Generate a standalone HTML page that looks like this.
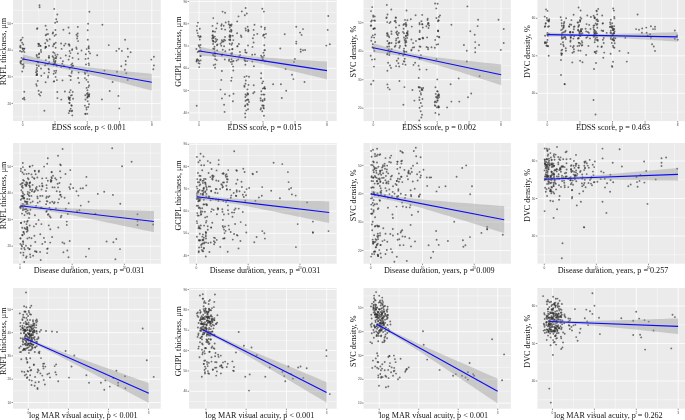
<!DOCTYPE html>
<html><head><meta charset="utf-8"><title>plots</title><style>html,body{margin:0;padding:0;background:#fff}svg{display:block}</style></head><body>
<svg width="685" height="420" viewBox="0 0 685 420">
<style>.tk{font:3.2px "Liberation Sans",sans-serif;fill:#444}.ti{font:8.15px "Liberation Serif",serif;fill:#111}</style>
<rect width="685" height="420" fill="#fff"/>
<rect x="13.0" y="0.0" width="147.8" height="121.1" fill="#ebebeb"/>
<path d="M38.84 0.0V121.1M71.11 0.0V121.1M103.39 0.0V121.1M135.66 0.0V121.1M13.0 10.30H160.8M13.0 36.90H160.8M13.0 63.50H160.8M13.0 90.10H160.8M13.0 116.70H160.8" stroke="#fff" stroke-width="0.45" fill="none" opacity="0.9"/>
<path d="M22.70 0.0V121.1M54.98 0.0V121.1M87.25 0.0V121.1M119.53 0.0V121.1M151.80 0.0V121.1M13.0 23.60H160.8M13.0 50.20H160.8M13.0 76.80H160.8M13.0 103.40H160.8" stroke="#fff" stroke-width="0.8" fill="none"/>
<path d="M22.70 121.1v1.5M54.98 121.1v1.5M87.25 121.1v1.5M119.53 121.1v1.5M151.80 121.1v1.5M13.0 23.60h-1.5M13.0 50.20h-1.5M13.0 76.80h-1.5M13.0 103.40h-1.5" stroke="#333" stroke-width="0.55" fill="none"/>
<text x="22.70" y="126.1" class="tk" text-anchor="middle">0</text>
<text x="54.98" y="126.1" class="tk" text-anchor="middle">2</text>
<text x="87.25" y="126.1" class="tk" text-anchor="middle">4</text>
<text x="119.53" y="126.1" class="tk" text-anchor="middle">6</text>
<text x="151.80" y="126.1" class="tk" text-anchor="middle">8</text>
<text x="11.0" y="24.75" class="tk" text-anchor="end">50</text>
<text x="11.0" y="51.35" class="tk" text-anchor="end">40</text>
<text x="11.0" y="77.95" class="tk" text-anchor="end">30</text>
<text x="11.0" y="104.55" class="tk" text-anchor="end">20</text>
<g fill="#333" fill-opacity="0.68"><circle cx="21.4" cy="39.6" r="0.95"/><circle cx="22.9" cy="98.7" r="0.95"/><circle cx="22.7" cy="48.5" r="0.95"/><circle cx="20.6" cy="40.5" r="0.95"/><circle cx="20.4" cy="45.7" r="0.95"/><circle cx="20.1" cy="51.0" r="0.95"/><circle cx="22.8" cy="48.8" r="0.95"/><circle cx="20.5" cy="61.5" r="0.95"/><circle cx="23.9" cy="58.1" r="0.95"/><circle cx="22.9" cy="59.5" r="0.95"/><circle cx="24.4" cy="52.1" r="0.95"/><circle cx="24.2" cy="97.7" r="0.95"/><circle cx="20.5" cy="62.8" r="0.95"/><circle cx="22.2" cy="71.5" r="0.95"/><circle cx="21.3" cy="61.0" r="0.95"/><circle cx="23.2" cy="44.5" r="0.95"/><circle cx="22.4" cy="64.6" r="0.95"/><circle cx="20.2" cy="46.9" r="0.95"/><circle cx="23.5" cy="50.7" r="0.95"/><circle cx="21.9" cy="51.8" r="0.95"/><circle cx="22.2" cy="42.8" r="0.95"/><circle cx="24.4" cy="48.6" r="0.95"/><circle cx="21.6" cy="57.9" r="0.95"/><circle cx="23.3" cy="67.9" r="0.95"/><circle cx="23.5" cy="64.1" r="0.95"/><circle cx="24.5" cy="99.5" r="0.95"/><circle cx="22.6" cy="37.6" r="0.95"/><circle cx="21.0" cy="63.6" r="0.95"/><circle cx="20.7" cy="47.6" r="0.95"/><circle cx="24.1" cy="48.7" r="0.95"/><circle cx="24.3" cy="91.7" r="0.95"/><circle cx="23.8" cy="66.3" r="0.95"/><circle cx="39.2" cy="53.5" r="0.95"/><circle cx="41.1" cy="92.2" r="0.95"/><circle cx="38.9" cy="44.4" r="0.95"/><circle cx="37.0" cy="28.9" r="0.95"/><circle cx="40.2" cy="95.6" r="0.95"/><circle cx="40.1" cy="45.8" r="0.95"/><circle cx="38.5" cy="46.1" r="0.95"/><circle cx="36.5" cy="69.9" r="0.95"/><circle cx="36.7" cy="65.2" r="0.95"/><circle cx="37.0" cy="74.8" r="0.95"/><circle cx="36.7" cy="55.0" r="0.95"/><circle cx="38.8" cy="66.0" r="0.95"/><circle cx="36.7" cy="56.1" r="0.95"/><circle cx="39.6" cy="7.3" r="0.95"/><circle cx="40.9" cy="50.0" r="0.95"/><circle cx="37.7" cy="80.9" r="0.95"/><circle cx="38.6" cy="90.7" r="0.95"/><circle cx="40.6" cy="45.9" r="0.95"/><circle cx="36.9" cy="74.9" r="0.95"/><circle cx="37.5" cy="57.6" r="0.95"/><circle cx="39.0" cy="43.9" r="0.95"/><circle cx="36.3" cy="75.1" r="0.95"/><circle cx="38.3" cy="62.4" r="0.95"/><circle cx="41.3" cy="75.8" r="0.95"/><circle cx="39.1" cy="94.3" r="0.95"/><circle cx="39.1" cy="57.4" r="0.95"/><circle cx="41.1" cy="51.9" r="0.95"/><circle cx="41.0" cy="68.5" r="0.95"/><circle cx="38.2" cy="43.8" r="0.95"/><circle cx="37.1" cy="71.3" r="0.95"/><circle cx="36.2" cy="84.1" r="0.95"/><circle cx="37.0" cy="68.0" r="0.95"/><circle cx="37.5" cy="61.7" r="0.95"/><circle cx="36.0" cy="72.3" r="0.95"/><circle cx="36.7" cy="85.8" r="0.95"/><circle cx="37.0" cy="73.7" r="0.95"/><circle cx="38.9" cy="54.3" r="0.95"/><circle cx="37.4" cy="28.2" r="0.95"/><circle cx="45.8" cy="60.1" r="0.95"/><circle cx="49.2" cy="62.2" r="0.95"/><circle cx="46.7" cy="29.6" r="0.95"/><circle cx="44.4" cy="110.8" r="0.95"/><circle cx="45.8" cy="47.1" r="0.95"/><circle cx="48.1" cy="76.1" r="0.95"/><circle cx="45.2" cy="48.0" r="0.95"/><circle cx="46.6" cy="39.6" r="0.95"/><circle cx="46.5" cy="34.5" r="0.95"/><circle cx="47.7" cy="63.9" r="0.95"/><circle cx="48.9" cy="72.4" r="0.95"/><circle cx="45.6" cy="25.8" r="0.95"/><circle cx="45.6" cy="63.6" r="0.95"/><circle cx="47.4" cy="40.9" r="0.95"/><circle cx="45.7" cy="35.2" r="0.95"/><circle cx="49.0" cy="57.8" r="0.95"/><circle cx="49.0" cy="45.7" r="0.95"/><circle cx="48.8" cy="57.4" r="0.95"/><circle cx="45.6" cy="46.6" r="0.95"/><circle cx="45.6" cy="82.2" r="0.95"/><circle cx="44.3" cy="73.1" r="0.95"/><circle cx="46.0" cy="47.0" r="0.95"/><circle cx="49.0" cy="55.9" r="0.95"/><circle cx="49.7" cy="39.3" r="0.95"/><circle cx="48.9" cy="69.6" r="0.95"/><circle cx="45.2" cy="43.3" r="0.95"/><circle cx="45.1" cy="65.4" r="0.95"/><circle cx="48.0" cy="77.6" r="0.95"/><circle cx="48.5" cy="68.6" r="0.95"/><circle cx="48.0" cy="34.0" r="0.95"/><circle cx="53.2" cy="52.2" r="0.95"/><circle cx="57.3" cy="14.5" r="0.95"/><circle cx="56.2" cy="19.3" r="0.95"/><circle cx="53.8" cy="44.4" r="0.95"/><circle cx="54.6" cy="53.1" r="0.95"/><circle cx="57.1" cy="21.8" r="0.95"/><circle cx="55.1" cy="61.8" r="0.95"/><circle cx="55.6" cy="76.9" r="0.95"/><circle cx="52.7" cy="33.5" r="0.95"/><circle cx="57.3" cy="92.0" r="0.95"/><circle cx="53.7" cy="61.1" r="0.95"/><circle cx="57.5" cy="54.6" r="0.95"/><circle cx="54.3" cy="70.9" r="0.95"/><circle cx="52.6" cy="56.3" r="0.95"/><circle cx="57.4" cy="98.1" r="0.95"/><circle cx="55.7" cy="42.8" r="0.95"/><circle cx="55.1" cy="58.2" r="0.95"/><circle cx="56.2" cy="70.8" r="0.95"/><circle cx="53.5" cy="63.5" r="0.95"/><circle cx="53.8" cy="59.5" r="0.95"/><circle cx="53.7" cy="81.6" r="0.95"/><circle cx="53.7" cy="73.8" r="0.95"/><circle cx="54.2" cy="81.2" r="0.95"/><circle cx="55.9" cy="34.6" r="0.95"/><circle cx="55.1" cy="22.7" r="0.95"/><circle cx="55.0" cy="63.3" r="0.95"/><circle cx="54.5" cy="35.7" r="0.95"/><circle cx="54.3" cy="43.8" r="0.95"/><circle cx="53.0" cy="46.2" r="0.95"/><circle cx="53.4" cy="57.5" r="0.95"/><circle cx="56.1" cy="58.2" r="0.95"/><circle cx="54.2" cy="8.9" r="0.95"/><circle cx="55.6" cy="47.7" r="0.95"/><circle cx="53.1" cy="32.5" r="0.95"/><circle cx="53.5" cy="64.8" r="0.95"/><circle cx="56.3" cy="64.8" r="0.95"/><circle cx="55.6" cy="72.7" r="0.95"/><circle cx="56.9" cy="80.1" r="0.95"/><circle cx="55.5" cy="60.9" r="0.95"/><circle cx="55.3" cy="55.1" r="0.95"/><circle cx="54.8" cy="63.2" r="0.95"/><circle cx="55.4" cy="30.0" r="0.95"/><circle cx="56.4" cy="56.8" r="0.95"/><circle cx="56.8" cy="65.9" r="0.95"/><circle cx="63.9" cy="65.8" r="0.95"/><circle cx="64.2" cy="45.5" r="0.95"/><circle cx="61.1" cy="43.5" r="0.95"/><circle cx="60.6" cy="58.1" r="0.95"/><circle cx="61.2" cy="67.1" r="0.95"/><circle cx="64.9" cy="91.5" r="0.95"/><circle cx="61.6" cy="48.9" r="0.95"/><circle cx="63.4" cy="29.8" r="0.95"/><circle cx="65.5" cy="43.6" r="0.95"/><circle cx="62.3" cy="63.7" r="0.95"/><circle cx="62.5" cy="80.4" r="0.95"/><circle cx="65.8" cy="55.4" r="0.95"/><circle cx="61.3" cy="99.6" r="0.95"/><circle cx="62.9" cy="61.3" r="0.95"/><circle cx="69.4" cy="102.8" r="0.95"/><circle cx="71.6" cy="72.9" r="0.95"/><circle cx="71.3" cy="64.6" r="0.95"/><circle cx="68.6" cy="59.6" r="0.95"/><circle cx="71.7" cy="105.7" r="0.95"/><circle cx="69.6" cy="51.0" r="0.95"/><circle cx="73.1" cy="98.8" r="0.95"/><circle cx="68.9" cy="98.9" r="0.95"/><circle cx="69.2" cy="98.2" r="0.95"/><circle cx="69.5" cy="56.2" r="0.95"/><circle cx="71.3" cy="105.2" r="0.95"/><circle cx="72.3" cy="63.4" r="0.95"/><circle cx="70.0" cy="97.6" r="0.95"/><circle cx="71.7" cy="66.4" r="0.95"/><circle cx="68.6" cy="97.2" r="0.95"/><circle cx="71.9" cy="71.2" r="0.95"/><circle cx="69.6" cy="92.2" r="0.95"/><circle cx="72.2" cy="110.7" r="0.95"/><circle cx="69.6" cy="68.5" r="0.95"/><circle cx="69.5" cy="33.2" r="0.95"/><circle cx="70.7" cy="108.8" r="0.95"/><circle cx="71.9" cy="95.1" r="0.95"/><circle cx="69.5" cy="98.7" r="0.95"/><circle cx="70.9" cy="95.6" r="0.95"/><circle cx="68.8" cy="113.1" r="0.95"/><circle cx="68.6" cy="44.4" r="0.95"/><circle cx="70.0" cy="100.1" r="0.95"/><circle cx="72.1" cy="50.0" r="0.95"/><circle cx="70.7" cy="80.0" r="0.95"/><circle cx="69.7" cy="110.6" r="0.95"/><circle cx="69.3" cy="44.4" r="0.95"/><circle cx="72.3" cy="115.4" r="0.95"/><circle cx="69.6" cy="111.0" r="0.95"/><circle cx="72.7" cy="91.9" r="0.95"/><circle cx="72.6" cy="65.8" r="0.95"/><circle cx="71.5" cy="111.3" r="0.95"/><circle cx="70.6" cy="90.1" r="0.95"/><circle cx="72.6" cy="57.9" r="0.95"/><circle cx="70.8" cy="76.3" r="0.95"/><circle cx="72.3" cy="49.1" r="0.95"/><circle cx="70.5" cy="53.1" r="0.95"/><circle cx="68.5" cy="27.5" r="0.95"/><circle cx="69.3" cy="75.6" r="0.95"/><circle cx="69.5" cy="103.0" r="0.95"/><circle cx="69.5" cy="45.8" r="0.95"/><circle cx="73.1" cy="65.8" r="0.95"/><circle cx="77.8" cy="26.9" r="0.95"/><circle cx="78.1" cy="41.1" r="0.95"/><circle cx="77.5" cy="36.2" r="0.95"/><circle cx="78.6" cy="72.6" r="0.95"/><circle cx="81.5" cy="50.5" r="0.95"/><circle cx="78.5" cy="59.1" r="0.95"/><circle cx="78.1" cy="78.0" r="0.95"/><circle cx="76.6" cy="48.9" r="0.95"/><circle cx="79.1" cy="82.7" r="0.95"/><circle cx="77.7" cy="33.5" r="0.95"/><circle cx="76.5" cy="34.7" r="0.95"/><circle cx="77.1" cy="38.5" r="0.95"/><circle cx="76.3" cy="47.4" r="0.95"/><circle cx="77.9" cy="53.5" r="0.95"/><circle cx="87.7" cy="30.2" r="0.95"/><circle cx="88.7" cy="63.4" r="0.95"/><circle cx="88.8" cy="51.6" r="0.95"/><circle cx="86.5" cy="79.7" r="0.95"/><circle cx="89.1" cy="96.4" r="0.95"/><circle cx="88.5" cy="47.6" r="0.95"/><circle cx="85.5" cy="99.5" r="0.95"/><circle cx="89.3" cy="94.1" r="0.95"/><circle cx="88.8" cy="95.5" r="0.95"/><circle cx="85.5" cy="58.9" r="0.95"/><circle cx="87.7" cy="92.9" r="0.95"/><circle cx="89.1" cy="85.5" r="0.95"/><circle cx="88.2" cy="58.4" r="0.95"/><circle cx="88.4" cy="87.1" r="0.95"/><circle cx="85.3" cy="95.2" r="0.95"/><circle cx="85.3" cy="113.8" r="0.95"/><circle cx="85.8" cy="54.2" r="0.95"/><circle cx="87.7" cy="101.3" r="0.95"/><circle cx="88.1" cy="23.7" r="0.95"/><circle cx="86.6" cy="109.5" r="0.95"/><circle cx="89.0" cy="94.8" r="0.95"/><circle cx="87.3" cy="97.8" r="0.95"/><circle cx="87.5" cy="97.0" r="0.95"/><circle cx="88.1" cy="81.9" r="0.95"/><circle cx="84.9" cy="78.1" r="0.95"/><circle cx="88.0" cy="96.4" r="0.95"/><circle cx="89.0" cy="65.1" r="0.95"/><circle cx="87.1" cy="71.5" r="0.95"/><circle cx="87.4" cy="94.7" r="0.95"/><circle cx="88.7" cy="46.2" r="0.95"/><circle cx="87.4" cy="90.2" r="0.95"/><circle cx="85.2" cy="73.7" r="0.95"/><circle cx="88.2" cy="107.0" r="0.95"/><circle cx="86.9" cy="93.6" r="0.95"/><circle cx="84.8" cy="72.5" r="0.95"/><circle cx="88.3" cy="75.5" r="0.95"/><circle cx="87.8" cy="39.8" r="0.95"/><circle cx="87.3" cy="113.8" r="0.95"/><circle cx="86.6" cy="87.9" r="0.95"/><circle cx="88.8" cy="48.4" r="0.95"/><circle cx="90.1" cy="53.4" r="0.95"/><circle cx="84.9" cy="105.6" r="0.95"/><circle cx="89.4" cy="11.8" r="0.95"/><circle cx="86.7" cy="49.1" r="0.95"/><circle cx="86.4" cy="107.5" r="0.95"/><circle cx="86.0" cy="64.4" r="0.95"/><circle cx="85.5" cy="114.1" r="0.95"/><circle cx="89.0" cy="104.2" r="0.95"/><circle cx="102.4" cy="24.7" r="0.95"/><circle cx="108.8" cy="45.1" r="0.95"/><circle cx="97.2" cy="55.2" r="0.95"/><circle cx="116.4" cy="50.9" r="0.95"/><circle cx="119.0" cy="48.8" r="0.95"/><circle cx="121.9" cy="50.9" r="0.95"/><circle cx="125.1" cy="39.8" r="0.95"/><circle cx="127.7" cy="48.8" r="0.95"/><circle cx="130.6" cy="52.3" r="0.95"/><circle cx="128.0" cy="56.7" r="0.95"/><circle cx="125.7" cy="61.0" r="0.95"/><circle cx="125.7" cy="64.5" r="0.95"/><circle cx="121.3" cy="66.3" r="0.95"/><circle cx="124.8" cy="69.8" r="0.95"/><circle cx="126.3" cy="73.3" r="0.95"/><circle cx="117.0" cy="71.8" r="0.95"/><circle cx="104.5" cy="70.6" r="0.95"/><circle cx="127.7" cy="79.9" r="0.95"/><circle cx="112.6" cy="82.0" r="0.95"/><circle cx="109.7" cy="91.0" r="0.95"/><circle cx="118.4" cy="95.9" r="0.95"/><circle cx="101.9" cy="99.4" r="0.95"/><circle cx="119.3" cy="108.4" r="0.95"/><circle cx="151.3" cy="59.6" r="0.95"/><circle cx="153.9" cy="56.7" r="0.95"/><circle cx="153.9" cy="65.4" r="0.95"/><circle cx="153.3" cy="69.2" r="0.95"/><circle cx="39.5" cy="5.3" r="0.95"/></g>
<polygon points="22.7,54.3 28.1,55.8 33.5,57.3 38.8,58.7 44.2,60.1 49.6,61.4 55.0,62.5 60.4,63.5 65.7,64.4 71.1,65.2 76.5,65.9 81.9,66.6 87.3,67.2 92.6,67.8 98.0,68.4 103.4,69.0 108.8,69.5 114.1,70.1 119.5,70.6 124.9,71.2 130.3,71.7 135.7,72.2 141.0,72.8 146.4,73.3 151.8,73.8 151.8,90.6 146.4,89.2 141.0,87.8 135.7,86.4 130.3,85.0 124.9,83.6 119.5,82.2 114.1,80.8 108.8,79.4 103.4,78.1 98.0,76.7 92.6,75.4 87.3,74.0 81.9,72.7 76.5,71.5 71.1,70.3 65.7,69.2 60.4,68.1 55.0,67.2 49.6,66.4 44.2,65.7 38.8,65.1 33.5,64.6 28.1,64.1 22.7,63.7" fill="#999" fill-opacity="0.42"/>
<line x1="22.7" y1="59.0" x2="151.8" y2="82.3" stroke="#0c0cf8" stroke-width="1.12"/>
<rect x="189.1" y="0.0" width="147.6" height="121.1" fill="#ebebeb"/>
<path d="M215.00 0.0V121.1M247.00 0.0V121.1M279.00 0.0V121.1M311.00 0.0V121.1M189.1 12.59H336.7M189.1 34.87H336.7M189.1 57.15H336.7M189.1 79.43H336.7M189.1 101.71H336.7" stroke="#fff" stroke-width="0.45" fill="none" opacity="0.9"/>
<path d="M199.00 0.0V121.1M231.00 0.0V121.1M263.00 0.0V121.1M295.00 0.0V121.1M327.00 0.0V121.1M189.1 1.45H336.7M189.1 23.73H336.7M189.1 46.01H336.7M189.1 68.29H336.7M189.1 90.57H336.7M189.1 112.85H336.7" stroke="#fff" stroke-width="0.8" fill="none"/>
<path d="M199.00 121.1v1.5M231.00 121.1v1.5M263.00 121.1v1.5M295.00 121.1v1.5M327.00 121.1v1.5M189.1 1.45h-1.5M189.1 23.73h-1.5M189.1 46.01h-1.5M189.1 68.29h-1.5M189.1 90.57h-1.5M189.1 112.85h-1.5" stroke="#333" stroke-width="0.55" fill="none"/>
<text x="199.00" y="126.1" class="tk" text-anchor="middle">0</text>
<text x="231.00" y="126.1" class="tk" text-anchor="middle">2</text>
<text x="263.00" y="126.1" class="tk" text-anchor="middle">4</text>
<text x="295.00" y="126.1" class="tk" text-anchor="middle">6</text>
<text x="327.00" y="126.1" class="tk" text-anchor="middle">8</text>
<text x="187.1" y="2.60" class="tk" text-anchor="end">90</text>
<text x="187.1" y="24.88" class="tk" text-anchor="end">80</text>
<text x="187.1" y="47.16" class="tk" text-anchor="end">70</text>
<text x="187.1" y="69.44" class="tk" text-anchor="end">60</text>
<text x="187.1" y="91.72" class="tk" text-anchor="end">50</text>
<text x="187.1" y="114.00" class="tk" text-anchor="end">40</text>
<g fill="#333" fill-opacity="0.68"><circle cx="197.7" cy="52.0" r="0.95"/><circle cx="199.2" cy="51.2" r="0.95"/><circle cx="199.0" cy="61.1" r="0.95"/><circle cx="196.9" cy="30.5" r="0.95"/><circle cx="196.7" cy="105.8" r="0.95"/><circle cx="196.4" cy="49.0" r="0.95"/><circle cx="199.1" cy="46.3" r="0.95"/><circle cx="196.8" cy="60.0" r="0.95"/><circle cx="200.2" cy="36.1" r="0.95"/><circle cx="199.2" cy="67.1" r="0.95"/><circle cx="200.7" cy="55.9" r="0.95"/><circle cx="200.5" cy="45.0" r="0.95"/><circle cx="196.8" cy="60.8" r="0.95"/><circle cx="198.5" cy="60.1" r="0.95"/><circle cx="197.6" cy="33.1" r="0.95"/><circle cx="199.5" cy="37.2" r="0.95"/><circle cx="198.7" cy="45.1" r="0.95"/><circle cx="196.5" cy="61.5" r="0.95"/><circle cx="199.8" cy="39.6" r="0.95"/><circle cx="198.2" cy="35.7" r="0.95"/><circle cx="198.5" cy="63.1" r="0.95"/><circle cx="200.7" cy="36.7" r="0.95"/><circle cx="197.9" cy="22.6" r="0.95"/><circle cx="199.6" cy="63.6" r="0.95"/><circle cx="199.8" cy="28.8" r="0.95"/><circle cx="200.8" cy="50.4" r="0.95"/><circle cx="198.9" cy="51.2" r="0.95"/><circle cx="197.3" cy="59.1" r="0.95"/><circle cx="197.0" cy="26.1" r="0.95"/><circle cx="200.4" cy="56.0" r="0.95"/><circle cx="200.6" cy="60.4" r="0.95"/><circle cx="200.1" cy="47.6" r="0.95"/><circle cx="215.3" cy="42.1" r="0.95"/><circle cx="217.2" cy="39.6" r="0.95"/><circle cx="215.1" cy="53.8" r="0.95"/><circle cx="213.1" cy="37.0" r="0.95"/><circle cx="216.3" cy="41.0" r="0.95"/><circle cx="216.3" cy="28.4" r="0.95"/><circle cx="214.7" cy="52.3" r="0.95"/><circle cx="212.7" cy="40.5" r="0.95"/><circle cx="212.9" cy="31.4" r="0.95"/><circle cx="213.2" cy="37.4" r="0.95"/><circle cx="212.9" cy="35.4" r="0.95"/><circle cx="215.0" cy="31.7" r="0.95"/><circle cx="212.9" cy="54.9" r="0.95"/><circle cx="215.7" cy="38.9" r="0.95"/><circle cx="217.0" cy="45.3" r="0.95"/><circle cx="213.8" cy="55.4" r="0.95"/><circle cx="214.8" cy="36.6" r="0.95"/><circle cx="216.8" cy="60.1" r="0.95"/><circle cx="213.1" cy="43.9" r="0.95"/><circle cx="213.7" cy="38.1" r="0.95"/><circle cx="215.1" cy="67.8" r="0.95"/><circle cx="212.5" cy="25.9" r="0.95"/><circle cx="214.5" cy="46.8" r="0.95"/><circle cx="217.4" cy="44.5" r="0.95"/><circle cx="215.2" cy="59.3" r="0.95"/><circle cx="215.3" cy="64.4" r="0.95"/><circle cx="217.3" cy="23.4" r="0.95"/><circle cx="217.2" cy="50.5" r="0.95"/><circle cx="214.4" cy="49.0" r="0.95"/><circle cx="213.3" cy="18.1" r="0.95"/><circle cx="212.3" cy="35.5" r="0.95"/><circle cx="213.2" cy="41.2" r="0.95"/><circle cx="213.7" cy="65.1" r="0.95"/><circle cx="212.2" cy="38.5" r="0.95"/><circle cx="212.9" cy="31.2" r="0.95"/><circle cx="213.2" cy="48.8" r="0.95"/><circle cx="215.1" cy="56.2" r="0.95"/><circle cx="213.6" cy="41.5" r="0.95"/><circle cx="221.9" cy="98.4" r="0.95"/><circle cx="225.3" cy="51.2" r="0.95"/><circle cx="222.8" cy="41.1" r="0.95"/><circle cx="220.5" cy="89.6" r="0.95"/><circle cx="221.9" cy="71.0" r="0.95"/><circle cx="224.1" cy="104.8" r="0.95"/><circle cx="221.3" cy="45.7" r="0.95"/><circle cx="222.7" cy="49.7" r="0.95"/><circle cx="222.6" cy="11.6" r="0.95"/><circle cx="223.7" cy="25.7" r="0.95"/><circle cx="225.0" cy="94.2" r="0.95"/><circle cx="221.7" cy="24.3" r="0.95"/><circle cx="221.7" cy="29.0" r="0.95"/><circle cx="223.5" cy="41.5" r="0.95"/><circle cx="221.8" cy="40.1" r="0.95"/><circle cx="225.1" cy="40.4" r="0.95"/><circle cx="225.1" cy="12.8" r="0.95"/><circle cx="224.8" cy="59.4" r="0.95"/><circle cx="221.7" cy="42.3" r="0.95"/><circle cx="221.7" cy="55.4" r="0.95"/><circle cx="220.5" cy="43.8" r="0.95"/><circle cx="222.1" cy="54.5" r="0.95"/><circle cx="225.1" cy="29.6" r="0.95"/><circle cx="225.7" cy="22.5" r="0.95"/><circle cx="225.0" cy="36.9" r="0.95"/><circle cx="221.3" cy="79.9" r="0.95"/><circle cx="221.2" cy="25.8" r="0.95"/><circle cx="224.1" cy="46.2" r="0.95"/><circle cx="224.6" cy="111.9" r="0.95"/><circle cx="224.1" cy="39.6" r="0.95"/><circle cx="229.2" cy="59.4" r="0.95"/><circle cx="233.3" cy="40.1" r="0.95"/><circle cx="232.2" cy="43.2" r="0.95"/><circle cx="229.8" cy="31.2" r="0.95"/><circle cx="230.6" cy="35.6" r="0.95"/><circle cx="233.1" cy="66.6" r="0.95"/><circle cx="231.1" cy="53.4" r="0.95"/><circle cx="231.7" cy="54.4" r="0.95"/><circle cx="228.8" cy="24.3" r="0.95"/><circle cx="233.3" cy="70.5" r="0.95"/><circle cx="229.7" cy="35.3" r="0.95"/><circle cx="233.5" cy="93.8" r="0.95"/><circle cx="230.3" cy="40.3" r="0.95"/><circle cx="228.6" cy="21.8" r="0.95"/><circle cx="233.5" cy="61.0" r="0.95"/><circle cx="231.7" cy="77.6" r="0.95"/><circle cx="231.2" cy="31.8" r="0.95"/><circle cx="232.2" cy="53.1" r="0.95"/><circle cx="229.5" cy="49.8" r="0.95"/><circle cx="229.9" cy="25.6" r="0.95"/><circle cx="229.7" cy="43.7" r="0.95"/><circle cx="229.8" cy="27.5" r="0.95"/><circle cx="230.2" cy="37.4" r="0.95"/><circle cx="231.9" cy="64.1" r="0.95"/><circle cx="231.2" cy="80.8" r="0.95"/><circle cx="231.0" cy="29.7" r="0.95"/><circle cx="230.5" cy="36.1" r="0.95"/><circle cx="230.3" cy="25.0" r="0.95"/><circle cx="229.0" cy="60.8" r="0.95"/><circle cx="229.4" cy="36.5" r="0.95"/><circle cx="232.2" cy="61.5" r="0.95"/><circle cx="230.2" cy="39.4" r="0.95"/><circle cx="231.6" cy="30.5" r="0.95"/><circle cx="229.2" cy="39.7" r="0.95"/><circle cx="229.5" cy="95.8" r="0.95"/><circle cx="232.3" cy="49.2" r="0.95"/><circle cx="231.6" cy="24.4" r="0.95"/><circle cx="232.9" cy="101.3" r="0.95"/><circle cx="231.5" cy="44.8" r="0.95"/><circle cx="231.3" cy="25.7" r="0.95"/><circle cx="230.8" cy="61.9" r="0.95"/><circle cx="231.5" cy="59.3" r="0.95"/><circle cx="232.4" cy="49.0" r="0.95"/><circle cx="232.8" cy="35.7" r="0.95"/><circle cx="239.9" cy="51.9" r="0.95"/><circle cx="240.2" cy="55.1" r="0.95"/><circle cx="237.1" cy="33.3" r="0.95"/><circle cx="236.6" cy="60.6" r="0.95"/><circle cx="237.2" cy="21.4" r="0.95"/><circle cx="240.9" cy="35.5" r="0.95"/><circle cx="237.6" cy="46.1" r="0.95"/><circle cx="239.3" cy="56.3" r="0.95"/><circle cx="241.4" cy="37.0" r="0.95"/><circle cx="238.2" cy="59.6" r="0.95"/><circle cx="238.5" cy="16.4" r="0.95"/><circle cx="241.8" cy="11.4" r="0.95"/><circle cx="237.3" cy="46.4" r="0.95"/><circle cx="238.9" cy="44.0" r="0.95"/><circle cx="245.3" cy="117.2" r="0.95"/><circle cx="247.5" cy="93.1" r="0.95"/><circle cx="247.2" cy="61.1" r="0.95"/><circle cx="244.5" cy="86.8" r="0.95"/><circle cx="247.6" cy="26.8" r="0.95"/><circle cx="245.5" cy="28.5" r="0.95"/><circle cx="249.0" cy="102.0" r="0.95"/><circle cx="244.8" cy="15.3" r="0.95"/><circle cx="245.1" cy="106.2" r="0.95"/><circle cx="245.4" cy="97.0" r="0.95"/><circle cx="247.2" cy="104.0" r="0.95"/><circle cx="248.2" cy="31.4" r="0.95"/><circle cx="245.9" cy="30.5" r="0.95"/><circle cx="247.6" cy="94.1" r="0.95"/><circle cx="244.5" cy="58.7" r="0.95"/><circle cx="247.8" cy="99.5" r="0.95"/><circle cx="245.5" cy="83.8" r="0.95"/><circle cx="248.0" cy="45.5" r="0.95"/><circle cx="245.5" cy="100.9" r="0.95"/><circle cx="245.4" cy="52.2" r="0.95"/><circle cx="246.6" cy="76.1" r="0.95"/><circle cx="247.8" cy="104.8" r="0.95"/><circle cx="245.4" cy="61.0" r="0.95"/><circle cx="246.8" cy="13.5" r="0.95"/><circle cx="244.7" cy="60.4" r="0.95"/><circle cx="244.5" cy="76.9" r="0.95"/><circle cx="245.8" cy="80.5" r="0.95"/><circle cx="248.0" cy="109.2" r="0.95"/><circle cx="246.6" cy="52.8" r="0.95"/><circle cx="245.6" cy="8.0" r="0.95"/><circle cx="245.2" cy="50.0" r="0.95"/><circle cx="248.2" cy="29.8" r="0.95"/><circle cx="245.5" cy="94.5" r="0.95"/><circle cx="248.6" cy="30.6" r="0.95"/><circle cx="248.4" cy="99.9" r="0.95"/><circle cx="247.4" cy="89.4" r="0.95"/><circle cx="246.5" cy="100.0" r="0.95"/><circle cx="248.5" cy="84.9" r="0.95"/><circle cx="246.7" cy="95.4" r="0.95"/><circle cx="248.2" cy="94.3" r="0.95"/><circle cx="246.3" cy="110.4" r="0.95"/><circle cx="244.4" cy="85.8" r="0.95"/><circle cx="245.2" cy="113.5" r="0.95"/><circle cx="245.4" cy="64.8" r="0.95"/><circle cx="245.4" cy="105.4" r="0.95"/><circle cx="249.0" cy="76.8" r="0.95"/><circle cx="253.6" cy="42.5" r="0.95"/><circle cx="254.0" cy="34.9" r="0.95"/><circle cx="253.3" cy="93.3" r="0.95"/><circle cx="254.5" cy="24.8" r="0.95"/><circle cx="257.3" cy="33.9" r="0.95"/><circle cx="254.4" cy="91.9" r="0.95"/><circle cx="253.9" cy="66.3" r="0.95"/><circle cx="252.5" cy="46.9" r="0.95"/><circle cx="254.9" cy="54.4" r="0.95"/><circle cx="253.6" cy="29.9" r="0.95"/><circle cx="252.3" cy="61.6" r="0.95"/><circle cx="252.9" cy="38.3" r="0.95"/><circle cx="252.2" cy="54.7" r="0.95"/><circle cx="253.7" cy="85.2" r="0.95"/><circle cx="263.4" cy="52.7" r="0.95"/><circle cx="264.4" cy="50.2" r="0.95"/><circle cx="264.5" cy="98.8" r="0.95"/><circle cx="262.2" cy="105.5" r="0.95"/><circle cx="264.9" cy="27.6" r="0.95"/><circle cx="264.3" cy="45.2" r="0.95"/><circle cx="261.2" cy="73.2" r="0.95"/><circle cx="265.0" cy="50.1" r="0.95"/><circle cx="264.5" cy="100.0" r="0.95"/><circle cx="261.3" cy="91.2" r="0.95"/><circle cx="263.4" cy="94.5" r="0.95"/><circle cx="264.9" cy="61.3" r="0.95"/><circle cx="263.9" cy="11.6" r="0.95"/><circle cx="264.1" cy="34.6" r="0.95"/><circle cx="261.1" cy="55.6" r="0.95"/><circle cx="261.1" cy="78.3" r="0.95"/><circle cx="261.5" cy="94.6" r="0.95"/><circle cx="263.4" cy="107.8" r="0.95"/><circle cx="263.8" cy="88.1" r="0.95"/><circle cx="262.3" cy="111.2" r="0.95"/><circle cx="264.7" cy="29.3" r="0.95"/><circle cx="263.1" cy="81.4" r="0.95"/><circle cx="263.2" cy="59.7" r="0.95"/><circle cx="263.8" cy="108.4" r="0.95"/><circle cx="260.7" cy="100.5" r="0.95"/><circle cx="263.7" cy="105.7" r="0.95"/><circle cx="264.8" cy="88.5" r="0.95"/><circle cx="262.8" cy="88.6" r="0.95"/><circle cx="263.1" cy="105.5" r="0.95"/><circle cx="264.4" cy="94.6" r="0.95"/><circle cx="263.1" cy="35.7" r="0.95"/><circle cx="261.0" cy="108.2" r="0.95"/><circle cx="263.9" cy="115.8" r="0.95"/><circle cx="262.7" cy="101.2" r="0.95"/><circle cx="260.6" cy="98.2" r="0.95"/><circle cx="264.1" cy="55.5" r="0.95"/><circle cx="263.6" cy="34.6" r="0.95"/><circle cx="263.0" cy="57.1" r="0.95"/><circle cx="262.4" cy="58.9" r="0.95"/><circle cx="264.5" cy="87.0" r="0.95"/><circle cx="265.9" cy="33.9" r="0.95"/><circle cx="260.6" cy="109.6" r="0.95"/><circle cx="265.1" cy="88.6" r="0.95"/><circle cx="262.5" cy="100.3" r="0.95"/><circle cx="262.2" cy="83.2" r="0.95"/><circle cx="261.7" cy="56.9" r="0.95"/><circle cx="261.3" cy="26.7" r="0.95"/><circle cx="264.7" cy="37.6" r="0.95"/><circle cx="262.3" cy="8.7" r="0.95"/><circle cx="284.7" cy="34.3" r="0.95"/><circle cx="280.3" cy="48.5" r="0.95"/><circle cx="296.3" cy="26.7" r="0.95"/><circle cx="300.1" cy="32.6" r="0.95"/><circle cx="303.0" cy="29.1" r="0.95"/><circle cx="301.6" cy="34.9" r="0.95"/><circle cx="296.3" cy="41.6" r="0.95"/><circle cx="296.3" cy="43.6" r="0.95"/><circle cx="300.7" cy="49.4" r="0.95"/><circle cx="303.0" cy="50.3" r="0.95"/><circle cx="305.1" cy="50.0" r="0.95"/><circle cx="300.7" cy="51.7" r="0.95"/><circle cx="294.9" cy="59.0" r="0.95"/><circle cx="294.0" cy="61.9" r="0.95"/><circle cx="285.6" cy="68.9" r="0.95"/><circle cx="292.0" cy="74.7" r="0.95"/><circle cx="293.4" cy="79.1" r="0.95"/><circle cx="304.5" cy="82.0" r="0.95"/><circle cx="273.1" cy="84.3" r="0.95"/><circle cx="280.9" cy="84.3" r="0.95"/><circle cx="286.2" cy="90.7" r="0.95"/><circle cx="281.8" cy="98.0" r="0.95"/><circle cx="328.3" cy="16.0" r="0.95"/><circle cx="327.7" cy="29.9" r="0.95"/><circle cx="326.3" cy="45.6" r="0.95"/><circle cx="329.8" cy="44.2" r="0.95"/></g>
<polygon points="199.3,46.5 204.6,47.7 209.9,48.9 215.3,50.1 220.6,51.3 225.9,52.3 231.2,53.3 236.5,54.2 241.9,55.0 247.2,55.7 252.5,56.3 257.8,56.8 263.1,57.3 268.5,57.7 273.8,58.1 279.1,58.5 284.4,58.9 289.8,59.2 295.1,59.6 300.4,59.9 305.7,60.2 311.0,60.5 316.4,60.9 321.7,61.2 327.0,61.5 327.0,79.4 321.7,78.1 316.4,76.8 311.0,75.5 305.7,74.2 300.4,72.9 295.1,71.7 289.8,70.4 284.4,69.1 279.1,67.9 273.8,66.6 268.5,65.4 263.1,64.3 257.8,63.1 252.5,62.0 247.2,61.0 241.9,60.1 236.5,59.2 231.2,58.5 225.9,57.8 220.6,57.3 215.3,56.8 209.9,56.3 204.6,55.9 199.3,55.5" fill="#999" fill-opacity="0.42"/>
<line x1="199.3" y1="51.0" x2="327.0" y2="70.6" stroke="#0c0cf8" stroke-width="1.12"/>
<rect x="363.5" y="0.0" width="147.4" height="121.1" fill="#ebebeb"/>
<path d="M389.26 0.0V121.1M421.19 0.0V121.1M453.11 0.0V121.1M485.04 0.0V121.1M363.5 8.45H510.9M363.5 36.95H510.9M363.5 65.45H510.9M363.5 93.95H510.9" stroke="#fff" stroke-width="0.45" fill="none" opacity="0.9"/>
<path d="M373.30 0.0V121.1M405.23 0.0V121.1M437.15 0.0V121.1M469.07 0.0V121.1M501.00 0.0V121.1M363.5 22.70H510.9M363.5 51.20H510.9M363.5 79.70H510.9M363.5 108.20H510.9" stroke="#fff" stroke-width="0.8" fill="none"/>
<path d="M373.30 121.1v1.5M405.23 121.1v1.5M437.15 121.1v1.5M469.07 121.1v1.5M501.00 121.1v1.5M363.5 22.70h-1.5M363.5 51.20h-1.5M363.5 79.70h-1.5M363.5 108.20h-1.5" stroke="#333" stroke-width="0.55" fill="none"/>
<text x="373.30" y="126.1" class="tk" text-anchor="middle">0</text>
<text x="405.23" y="126.1" class="tk" text-anchor="middle">2</text>
<text x="437.15" y="126.1" class="tk" text-anchor="middle">4</text>
<text x="469.07" y="126.1" class="tk" text-anchor="middle">6</text>
<text x="501.00" y="126.1" class="tk" text-anchor="middle">8</text>
<text x="361.5" y="23.85" class="tk" text-anchor="end">50</text>
<text x="361.5" y="52.35" class="tk" text-anchor="end">40</text>
<text x="361.5" y="80.85" class="tk" text-anchor="end">30</text>
<text x="361.5" y="109.35" class="tk" text-anchor="end">20</text>
<g fill="#333" fill-opacity="0.68"><circle cx="372.0" cy="59.6" r="0.95"/><circle cx="373.5" cy="28.8" r="0.95"/><circle cx="373.3" cy="16.7" r="0.95"/><circle cx="371.2" cy="25.5" r="0.95"/><circle cx="371.0" cy="11.1" r="0.95"/><circle cx="370.7" cy="55.8" r="0.95"/><circle cx="373.4" cy="80.8" r="0.95"/><circle cx="371.1" cy="84.3" r="0.95"/><circle cx="374.5" cy="28.1" r="0.95"/><circle cx="373.5" cy="29.0" r="0.95"/><circle cx="375.0" cy="20.8" r="0.95"/><circle cx="374.7" cy="59.2" r="0.95"/><circle cx="371.1" cy="21.5" r="0.95"/><circle cx="372.8" cy="35.4" r="0.95"/><circle cx="371.9" cy="20.5" r="0.95"/><circle cx="373.8" cy="48.6" r="0.95"/><circle cx="373.0" cy="47.6" r="0.95"/><circle cx="370.8" cy="25.7" r="0.95"/><circle cx="374.1" cy="20.4" r="0.95"/><circle cx="372.5" cy="47.3" r="0.95"/><circle cx="372.8" cy="44.3" r="0.95"/><circle cx="375.0" cy="34.5" r="0.95"/><circle cx="372.2" cy="7.1" r="0.95"/><circle cx="373.9" cy="66.6" r="0.95"/><circle cx="374.1" cy="37.6" r="0.95"/><circle cx="375.1" cy="42.0" r="0.95"/><circle cx="373.2" cy="15.4" r="0.95"/><circle cx="371.6" cy="37.2" r="0.95"/><circle cx="371.3" cy="40.7" r="0.95"/><circle cx="374.7" cy="16.4" r="0.95"/><circle cx="374.9" cy="28.4" r="0.95"/><circle cx="374.4" cy="50.9" r="0.95"/><circle cx="389.6" cy="89.4" r="0.95"/><circle cx="391.5" cy="33.9" r="0.95"/><circle cx="389.3" cy="55.0" r="0.95"/><circle cx="387.4" cy="41.0" r="0.95"/><circle cx="390.6" cy="51.1" r="0.95"/><circle cx="390.5" cy="22.0" r="0.95"/><circle cx="388.9" cy="49.4" r="0.95"/><circle cx="386.9" cy="33.5" r="0.95"/><circle cx="387.2" cy="46.7" r="0.95"/><circle cx="387.5" cy="14.5" r="0.95"/><circle cx="387.2" cy="22.1" r="0.95"/><circle cx="389.2" cy="37.2" r="0.95"/><circle cx="387.2" cy="54.4" r="0.95"/><circle cx="390.0" cy="65.5" r="0.95"/><circle cx="391.3" cy="9.5" r="0.95"/><circle cx="388.1" cy="62.7" r="0.95"/><circle cx="389.1" cy="46.5" r="0.95"/><circle cx="391.0" cy="67.9" r="0.95"/><circle cx="387.4" cy="70.7" r="0.95"/><circle cx="388.0" cy="50.4" r="0.95"/><circle cx="389.4" cy="43.2" r="0.95"/><circle cx="386.8" cy="4.9" r="0.95"/><circle cx="388.7" cy="36.1" r="0.95"/><circle cx="391.7" cy="49.2" r="0.95"/><circle cx="389.5" cy="52.5" r="0.95"/><circle cx="389.5" cy="23.1" r="0.95"/><circle cx="391.5" cy="43.0" r="0.95"/><circle cx="391.4" cy="31.5" r="0.95"/><circle cx="388.6" cy="43.8" r="0.95"/><circle cx="387.5" cy="53.4" r="0.95"/><circle cx="386.6" cy="17.4" r="0.95"/><circle cx="387.4" cy="84.4" r="0.95"/><circle cx="387.9" cy="34.6" r="0.95"/><circle cx="386.4" cy="18.1" r="0.95"/><circle cx="387.2" cy="35.7" r="0.95"/><circle cx="387.5" cy="33.1" r="0.95"/><circle cx="389.4" cy="42.8" r="0.95"/><circle cx="387.9" cy="87.6" r="0.95"/><circle cx="396.1" cy="66.1" r="0.95"/><circle cx="399.5" cy="41.2" r="0.95"/><circle cx="397.1" cy="31.4" r="0.95"/><circle cx="394.8" cy="46.8" r="0.95"/><circle cx="396.2" cy="32.4" r="0.95"/><circle cx="398.4" cy="63.2" r="0.95"/><circle cx="395.5" cy="45.7" r="0.95"/><circle cx="396.9" cy="34.0" r="0.95"/><circle cx="396.8" cy="60.7" r="0.95"/><circle cx="398.0" cy="37.8" r="0.95"/><circle cx="399.2" cy="25.4" r="0.95"/><circle cx="395.9" cy="27.5" r="0.95"/><circle cx="396.0" cy="43.3" r="0.95"/><circle cx="397.8" cy="35.0" r="0.95"/><circle cx="396.1" cy="40.6" r="0.95"/><circle cx="399.4" cy="81.0" r="0.95"/><circle cx="399.3" cy="53.9" r="0.95"/><circle cx="399.1" cy="42.2" r="0.95"/><circle cx="396.0" cy="22.4" r="0.95"/><circle cx="396.0" cy="17.8" r="0.95"/><circle cx="394.7" cy="21.3" r="0.95"/><circle cx="396.3" cy="38.7" r="0.95"/><circle cx="399.4" cy="47.7" r="0.95"/><circle cx="400.0" cy="46.0" r="0.95"/><circle cx="399.2" cy="66.5" r="0.95"/><circle cx="395.6" cy="17.5" r="0.95"/><circle cx="395.4" cy="20.7" r="0.95"/><circle cx="398.3" cy="58.5" r="0.95"/><circle cx="398.8" cy="33.0" r="0.95"/><circle cx="398.4" cy="42.4" r="0.95"/><circle cx="403.4" cy="104.8" r="0.95"/><circle cx="407.5" cy="35.4" r="0.95"/><circle cx="406.4" cy="51.7" r="0.95"/><circle cx="404.1" cy="24.0" r="0.95"/><circle cx="404.8" cy="58.7" r="0.95"/><circle cx="407.4" cy="20.3" r="0.95"/><circle cx="405.3" cy="41.8" r="0.95"/><circle cx="405.9" cy="36.1" r="0.95"/><circle cx="403.0" cy="31.9" r="0.95"/><circle cx="407.6" cy="34.5" r="0.95"/><circle cx="403.9" cy="37.5" r="0.95"/><circle cx="407.7" cy="33.1" r="0.95"/><circle cx="404.6" cy="40.0" r="0.95"/><circle cx="402.8" cy="64.1" r="0.95"/><circle cx="407.7" cy="31.2" r="0.95"/><circle cx="405.9" cy="23.0" r="0.95"/><circle cx="405.4" cy="38.4" r="0.95"/><circle cx="406.4" cy="24.9" r="0.95"/><circle cx="403.8" cy="61.3" r="0.95"/><circle cx="404.1" cy="52.1" r="0.95"/><circle cx="404.0" cy="33.3" r="0.95"/><circle cx="404.0" cy="48.6" r="0.95"/><circle cx="404.5" cy="61.6" r="0.95"/><circle cx="406.1" cy="26.3" r="0.95"/><circle cx="405.4" cy="45.3" r="0.95"/><circle cx="405.3" cy="42.9" r="0.95"/><circle cx="404.7" cy="51.6" r="0.95"/><circle cx="404.5" cy="54.3" r="0.95"/><circle cx="403.2" cy="55.4" r="0.95"/><circle cx="403.6" cy="28.8" r="0.95"/><circle cx="406.4" cy="42.0" r="0.95"/><circle cx="404.4" cy="87.1" r="0.95"/><circle cx="405.9" cy="40.4" r="0.95"/><circle cx="403.4" cy="24.9" r="0.95"/><circle cx="403.7" cy="50.7" r="0.95"/><circle cx="406.5" cy="10.5" r="0.95"/><circle cx="405.9" cy="35.7" r="0.95"/><circle cx="407.1" cy="37.9" r="0.95"/><circle cx="405.8" cy="45.9" r="0.95"/><circle cx="405.5" cy="64.7" r="0.95"/><circle cx="405.0" cy="19.9" r="0.95"/><circle cx="405.7" cy="24.5" r="0.95"/><circle cx="406.7" cy="33.2" r="0.95"/><circle cx="407.0" cy="32.8" r="0.95"/><circle cx="414.1" cy="47.3" r="0.95"/><circle cx="414.4" cy="100.6" r="0.95"/><circle cx="411.3" cy="50.6" r="0.95"/><circle cx="410.8" cy="19.3" r="0.95"/><circle cx="411.4" cy="39.5" r="0.95"/><circle cx="415.1" cy="62.7" r="0.95"/><circle cx="411.8" cy="26.6" r="0.95"/><circle cx="413.5" cy="64.9" r="0.95"/><circle cx="415.6" cy="15.2" r="0.95"/><circle cx="412.4" cy="90.0" r="0.95"/><circle cx="412.7" cy="47.6" r="0.95"/><circle cx="416.0" cy="40.9" r="0.95"/><circle cx="411.5" cy="49.8" r="0.95"/><circle cx="413.1" cy="43.1" r="0.95"/><circle cx="419.5" cy="23.0" r="0.95"/><circle cx="421.6" cy="58.3" r="0.95"/><circle cx="421.4" cy="21.3" r="0.95"/><circle cx="418.7" cy="77.9" r="0.95"/><circle cx="421.8" cy="89.5" r="0.95"/><circle cx="419.7" cy="32.1" r="0.95"/><circle cx="423.2" cy="38.3" r="0.95"/><circle cx="419.0" cy="39.0" r="0.95"/><circle cx="419.3" cy="120.4" r="0.95"/><circle cx="419.6" cy="39.2" r="0.95"/><circle cx="421.3" cy="117.5" r="0.95"/><circle cx="422.4" cy="24.3" r="0.95"/><circle cx="420.0" cy="87.5" r="0.95"/><circle cx="421.8" cy="89.7" r="0.95"/><circle cx="418.7" cy="50.6" r="0.95"/><circle cx="422.0" cy="114.7" r="0.95"/><circle cx="419.7" cy="30.7" r="0.95"/><circle cx="422.2" cy="24.2" r="0.95"/><circle cx="419.6" cy="24.4" r="0.95"/><circle cx="419.6" cy="107.8" r="0.95"/><circle cx="420.8" cy="93.1" r="0.95"/><circle cx="422.0" cy="106.1" r="0.95"/><circle cx="419.6" cy="46.4" r="0.95"/><circle cx="421.0" cy="94.6" r="0.95"/><circle cx="418.9" cy="87.4" r="0.95"/><circle cx="418.7" cy="87.0" r="0.95"/><circle cx="420.0" cy="39.1" r="0.95"/><circle cx="422.2" cy="14.9" r="0.95"/><circle cx="420.8" cy="103.0" r="0.95"/><circle cx="419.8" cy="91.1" r="0.95"/><circle cx="419.4" cy="97.4" r="0.95"/><circle cx="422.4" cy="90.0" r="0.95"/><circle cx="419.7" cy="57.9" r="0.95"/><circle cx="422.8" cy="27.5" r="0.95"/><circle cx="422.6" cy="37.6" r="0.95"/><circle cx="421.6" cy="88.1" r="0.95"/><circle cx="420.7" cy="111.2" r="0.95"/><circle cx="422.7" cy="38.4" r="0.95"/><circle cx="420.9" cy="55.1" r="0.95"/><circle cx="422.4" cy="99.0" r="0.95"/><circle cx="420.5" cy="46.8" r="0.95"/><circle cx="418.6" cy="65.8" r="0.95"/><circle cx="419.4" cy="100.0" r="0.95"/><circle cx="419.6" cy="69.5" r="0.95"/><circle cx="419.6" cy="58.8" r="0.95"/><circle cx="423.2" cy="88.0" r="0.95"/><circle cx="427.8" cy="24.3" r="0.95"/><circle cx="428.1" cy="49.3" r="0.95"/><circle cx="427.5" cy="20.0" r="0.95"/><circle cx="428.6" cy="23.3" r="0.95"/><circle cx="431.5" cy="47.2" r="0.95"/><circle cx="428.5" cy="28.0" r="0.95"/><circle cx="428.1" cy="22.9" r="0.95"/><circle cx="426.6" cy="47.0" r="0.95"/><circle cx="429.1" cy="25.5" r="0.95"/><circle cx="427.7" cy="18.8" r="0.95"/><circle cx="426.5" cy="69.6" r="0.95"/><circle cx="427.1" cy="37.4" r="0.95"/><circle cx="426.4" cy="26.3" r="0.95"/><circle cx="427.9" cy="47.6" r="0.95"/><circle cx="437.6" cy="3.7" r="0.95"/><circle cx="438.6" cy="107.4" r="0.95"/><circle cx="438.7" cy="20.6" r="0.95"/><circle cx="436.4" cy="18.0" r="0.95"/><circle cx="439.0" cy="94.9" r="0.95"/><circle cx="438.4" cy="20.1" r="0.95"/><circle cx="435.4" cy="112.9" r="0.95"/><circle cx="439.2" cy="97.1" r="0.95"/><circle cx="438.7" cy="95.7" r="0.95"/><circle cx="435.5" cy="105.9" r="0.95"/><circle cx="437.6" cy="95.4" r="0.95"/><circle cx="439.0" cy="36.9" r="0.95"/><circle cx="438.1" cy="98.2" r="0.95"/><circle cx="438.3" cy="106.3" r="0.95"/><circle cx="435.3" cy="101.5" r="0.95"/><circle cx="435.2" cy="39.9" r="0.95"/><circle cx="435.7" cy="93.9" r="0.95"/><circle cx="437.6" cy="100.8" r="0.95"/><circle cx="438.0" cy="31.2" r="0.95"/><circle cx="436.5" cy="59.3" r="0.95"/><circle cx="438.9" cy="114.5" r="0.95"/><circle cx="437.2" cy="96.8" r="0.95"/><circle cx="437.4" cy="100.1" r="0.95"/><circle cx="438.0" cy="30.5" r="0.95"/><circle cx="434.8" cy="105.3" r="0.95"/><circle cx="437.9" cy="21.2" r="0.95"/><circle cx="438.9" cy="16.9" r="0.95"/><circle cx="437.0" cy="107.4" r="0.95"/><circle cx="437.3" cy="79.4" r="0.95"/><circle cx="438.6" cy="94.2" r="0.95"/><circle cx="437.3" cy="36.4" r="0.95"/><circle cx="435.1" cy="3.5" r="0.95"/><circle cx="438.1" cy="44.3" r="0.95"/><circle cx="436.9" cy="97.8" r="0.95"/><circle cx="434.8" cy="102.3" r="0.95"/><circle cx="438.2" cy="30.9" r="0.95"/><circle cx="437.7" cy="91.4" r="0.95"/><circle cx="437.2" cy="91.2" r="0.95"/><circle cx="436.5" cy="44.6" r="0.95"/><circle cx="438.7" cy="107.3" r="0.95"/><circle cx="440.0" cy="15.4" r="0.95"/><circle cx="434.8" cy="47.8" r="0.95"/><circle cx="439.3" cy="37.3" r="0.95"/><circle cx="436.6" cy="102.3" r="0.95"/><circle cx="436.3" cy="8.4" r="0.95"/><circle cx="435.9" cy="97.1" r="0.95"/><circle cx="435.5" cy="87.3" r="0.95"/><circle cx="438.8" cy="106.6" r="0.95"/><circle cx="451.4" cy="24.7" r="0.95"/><circle cx="450.6" cy="84.2" r="0.95"/><circle cx="451.4" cy="101.6" r="0.95"/><circle cx="458.7" cy="78.4" r="0.95"/><circle cx="459.3" cy="101.6" r="0.95"/><circle cx="463.9" cy="45.0" r="0.95"/><circle cx="466.8" cy="50.8" r="0.95"/><circle cx="466.8" cy="61.5" r="0.95"/><circle cx="468.0" cy="97.2" r="0.95"/><circle cx="470.3" cy="31.3" r="0.95"/><circle cx="471.2" cy="93.5" r="0.95"/><circle cx="474.7" cy="34.8" r="0.95"/><circle cx="475.2" cy="42.1" r="0.95"/><circle cx="475.2" cy="47.9" r="0.95"/><circle cx="475.2" cy="52.2" r="0.95"/><circle cx="478.1" cy="19.7" r="0.95"/><circle cx="477.6" cy="26.1" r="0.95"/><circle cx="479.0" cy="45.0" r="0.95"/><circle cx="479.6" cy="76.1" r="0.95"/><circle cx="467.4" cy="6.4" r="0.95"/><circle cx="498.5" cy="19.7" r="0.95"/><circle cx="500.8" cy="49.9" r="0.95"/><circle cx="503.7" cy="29.0" r="0.95"/><circle cx="503.7" cy="43.0" r="0.95"/><circle cx="447.1" cy="107.4" r="0.95"/></g>
<polygon points="373.3,43.2 378.6,44.8 384.0,46.4 389.3,47.9 394.6,49.4 399.9,50.8 405.3,52.1 410.6,53.3 415.9,54.3 421.3,55.2 426.6,56.0 431.9,56.8 437.2,57.4 442.6,58.1 447.9,58.7 453.2,59.3 458.6,59.9 463.9,60.5 469.2,61.0 474.6,61.6 479.9,62.2 485.2,62.7 490.5,63.3 495.9,63.8 501.2,64.4 501.2,85.2 495.9,83.5 490.5,81.8 485.2,80.1 479.9,78.4 474.6,76.7 469.2,75.0 463.9,73.3 458.6,71.6 453.2,70.0 447.9,68.3 442.6,66.7 437.2,65.1 431.9,63.5 426.6,61.9 421.3,60.5 415.9,59.1 410.6,57.9 405.3,56.8 399.9,55.9 394.6,55.0 389.3,54.3 384.0,53.5 378.6,52.9 373.3,52.2" fill="#999" fill-opacity="0.42"/>
<line x1="373.3" y1="47.7" x2="501.2" y2="74.8" stroke="#0c0cf8" stroke-width="1.12"/>
<rect x="537.4" y="0.0" width="147.6" height="121.1" fill="#ebebeb"/>
<path d="M563.60 0.0V121.1M596.20 0.0V121.1M628.80 0.0V121.1M661.40 0.0V121.1M537.4 37.05H685.0M537.4 74.55H685.0M537.4 112.05H685.0" stroke="#fff" stroke-width="0.45" fill="none" opacity="0.9"/>
<path d="M547.30 0.0V121.1M579.90 0.0V121.1M612.50 0.0V121.1M645.10 0.0V121.1M677.70 0.0V121.1M537.4 18.30H685.0M537.4 55.80H685.0M537.4 93.30H685.0" stroke="#fff" stroke-width="0.8" fill="none"/>
<path d="M547.30 121.1v1.5M579.90 121.1v1.5M612.50 121.1v1.5M645.10 121.1v1.5M677.70 121.1v1.5M537.4 18.30h-1.5M537.4 55.80h-1.5M537.4 93.30h-1.5" stroke="#333" stroke-width="0.55" fill="none"/>
<text x="547.30" y="126.1" class="tk" text-anchor="middle">0</text>
<text x="579.90" y="126.1" class="tk" text-anchor="middle">2</text>
<text x="612.50" y="126.1" class="tk" text-anchor="middle">4</text>
<text x="645.10" y="126.1" class="tk" text-anchor="middle">6</text>
<text x="677.70" y="126.1" class="tk" text-anchor="middle">8</text>
<text x="535.4" y="19.45" class="tk" text-anchor="end">60</text>
<text x="535.4" y="56.95" class="tk" text-anchor="end">50</text>
<text x="535.4" y="94.45" class="tk" text-anchor="end">40</text>
<g fill="#333" fill-opacity="0.68"><circle cx="546.0" cy="9.4" r="0.95"/><circle cx="547.5" cy="39.9" r="0.95"/><circle cx="547.3" cy="34.7" r="0.95"/><circle cx="545.1" cy="42.5" r="0.95"/><circle cx="545.0" cy="43.2" r="0.95"/><circle cx="544.7" cy="16.6" r="0.95"/><circle cx="547.4" cy="32.9" r="0.95"/><circle cx="545.1" cy="35.8" r="0.95"/><circle cx="548.5" cy="20.5" r="0.95"/><circle cx="547.5" cy="10.9" r="0.95"/><circle cx="549.0" cy="20.4" r="0.95"/><circle cx="548.8" cy="21.5" r="0.95"/><circle cx="545.1" cy="42.2" r="0.95"/><circle cx="546.8" cy="18.0" r="0.95"/><circle cx="545.8" cy="23.1" r="0.95"/><circle cx="547.8" cy="46.1" r="0.95"/><circle cx="547.0" cy="42.1" r="0.95"/><circle cx="544.8" cy="26.8" r="0.95"/><circle cx="548.1" cy="46.3" r="0.95"/><circle cx="546.5" cy="45.7" r="0.95"/><circle cx="546.8" cy="45.4" r="0.95"/><circle cx="549.0" cy="26.2" r="0.95"/><circle cx="546.1" cy="43.0" r="0.95"/><circle cx="547.9" cy="35.8" r="0.95"/><circle cx="548.1" cy="26.8" r="0.95"/><circle cx="549.2" cy="19.2" r="0.95"/><circle cx="547.2" cy="20.2" r="0.95"/><circle cx="545.6" cy="23.8" r="0.95"/><circle cx="545.3" cy="26.3" r="0.95"/><circle cx="548.7" cy="55.7" r="0.95"/><circle cx="548.9" cy="33.9" r="0.95"/><circle cx="548.4" cy="20.9" r="0.95"/><circle cx="563.9" cy="23.5" r="0.95"/><circle cx="565.8" cy="39.0" r="0.95"/><circle cx="563.7" cy="25.4" r="0.95"/><circle cx="561.7" cy="34.1" r="0.95"/><circle cx="565.0" cy="31.7" r="0.95"/><circle cx="564.9" cy="36.7" r="0.95"/><circle cx="563.3" cy="44.8" r="0.95"/><circle cx="561.2" cy="53.1" r="0.95"/><circle cx="561.5" cy="50.4" r="0.95"/><circle cx="561.8" cy="38.8" r="0.95"/><circle cx="561.5" cy="55.0" r="0.95"/><circle cx="563.6" cy="27.2" r="0.95"/><circle cx="561.5" cy="20.1" r="0.95"/><circle cx="564.3" cy="22.0" r="0.95"/><circle cx="565.6" cy="30.7" r="0.95"/><circle cx="562.4" cy="29.2" r="0.95"/><circle cx="563.4" cy="27.9" r="0.95"/><circle cx="565.4" cy="37.4" r="0.95"/><circle cx="561.7" cy="37.3" r="0.95"/><circle cx="562.3" cy="32.7" r="0.95"/><circle cx="563.7" cy="32.2" r="0.95"/><circle cx="561.1" cy="30.1" r="0.95"/><circle cx="563.0" cy="42.2" r="0.95"/><circle cx="566.1" cy="18.2" r="0.95"/><circle cx="563.8" cy="26.1" r="0.95"/><circle cx="563.9" cy="37.2" r="0.95"/><circle cx="565.9" cy="50.8" r="0.95"/><circle cx="565.8" cy="48.3" r="0.95"/><circle cx="562.9" cy="38.2" r="0.95"/><circle cx="561.8" cy="35.7" r="0.95"/><circle cx="560.9" cy="44.1" r="0.95"/><circle cx="561.7" cy="23.2" r="0.95"/><circle cx="562.2" cy="49.6" r="0.95"/><circle cx="560.7" cy="17.3" r="0.95"/><circle cx="561.5" cy="53.9" r="0.95"/><circle cx="561.8" cy="25.7" r="0.95"/><circle cx="563.7" cy="46.3" r="0.95"/><circle cx="562.2" cy="53.6" r="0.95"/><circle cx="570.6" cy="36.5" r="0.95"/><circle cx="574.1" cy="36.3" r="0.95"/><circle cx="571.6" cy="35.1" r="0.95"/><circle cx="569.2" cy="26.5" r="0.95"/><circle cx="570.7" cy="37.8" r="0.95"/><circle cx="572.9" cy="47.2" r="0.95"/><circle cx="570.0" cy="32.3" r="0.95"/><circle cx="571.4" cy="20.1" r="0.95"/><circle cx="571.3" cy="24.7" r="0.95"/><circle cx="572.5" cy="52.8" r="0.95"/><circle cx="573.8" cy="45.9" r="0.95"/><circle cx="570.4" cy="41.7" r="0.95"/><circle cx="570.5" cy="40.5" r="0.95"/><circle cx="572.3" cy="62.4" r="0.95"/><circle cx="570.6" cy="46.1" r="0.95"/><circle cx="573.9" cy="49.3" r="0.95"/><circle cx="573.9" cy="51.7" r="0.95"/><circle cx="573.6" cy="14.8" r="0.95"/><circle cx="570.4" cy="32.3" r="0.95"/><circle cx="570.4" cy="31.9" r="0.95"/><circle cx="569.2" cy="26.5" r="0.95"/><circle cx="570.8" cy="37.5" r="0.95"/><circle cx="573.9" cy="26.9" r="0.95"/><circle cx="574.5" cy="26.4" r="0.95"/><circle cx="573.8" cy="29.3" r="0.95"/><circle cx="570.0" cy="32.5" r="0.95"/><circle cx="569.9" cy="24.4" r="0.95"/><circle cx="572.9" cy="32.1" r="0.95"/><circle cx="573.4" cy="38.6" r="0.95"/><circle cx="572.9" cy="32.4" r="0.95"/><circle cx="578.1" cy="29.7" r="0.95"/><circle cx="582.3" cy="42.6" r="0.95"/><circle cx="581.1" cy="34.0" r="0.95"/><circle cx="578.7" cy="42.6" r="0.95"/><circle cx="579.5" cy="35.4" r="0.95"/><circle cx="582.1" cy="29.0" r="0.95"/><circle cx="580.0" cy="20.2" r="0.95"/><circle cx="580.6" cy="10.5" r="0.95"/><circle cx="577.6" cy="22.5" r="0.95"/><circle cx="582.3" cy="45.1" r="0.95"/><circle cx="578.6" cy="38.4" r="0.95"/><circle cx="582.5" cy="62.2" r="0.95"/><circle cx="579.2" cy="42.9" r="0.95"/><circle cx="577.5" cy="46.1" r="0.95"/><circle cx="582.4" cy="33.2" r="0.95"/><circle cx="580.6" cy="31.2" r="0.95"/><circle cx="580.1" cy="21.8" r="0.95"/><circle cx="581.1" cy="31.1" r="0.95"/><circle cx="578.4" cy="50.5" r="0.95"/><circle cx="578.7" cy="37.9" r="0.95"/><circle cx="578.6" cy="7.5" r="0.95"/><circle cx="578.6" cy="25.9" r="0.95"/><circle cx="579.1" cy="25.0" r="0.95"/><circle cx="580.8" cy="29.2" r="0.95"/><circle cx="580.1" cy="60.8" r="0.95"/><circle cx="579.9" cy="35.5" r="0.95"/><circle cx="579.4" cy="33.2" r="0.95"/><circle cx="579.2" cy="45.8" r="0.95"/><circle cx="577.9" cy="38.5" r="0.95"/><circle cx="578.3" cy="22.4" r="0.95"/><circle cx="581.1" cy="31.6" r="0.95"/><circle cx="579.1" cy="31.2" r="0.95"/><circle cx="580.5" cy="36.0" r="0.95"/><circle cx="578.1" cy="30.4" r="0.95"/><circle cx="578.4" cy="26.9" r="0.95"/><circle cx="581.2" cy="30.5" r="0.95"/><circle cx="580.5" cy="43.8" r="0.95"/><circle cx="581.8" cy="41.1" r="0.95"/><circle cx="580.5" cy="50.7" r="0.95"/><circle cx="580.2" cy="20.4" r="0.95"/><circle cx="579.7" cy="32.7" r="0.95"/><circle cx="580.4" cy="17.4" r="0.95"/><circle cx="581.4" cy="18.6" r="0.95"/><circle cx="581.7" cy="45.5" r="0.95"/><circle cx="588.9" cy="32.9" r="0.95"/><circle cx="589.2" cy="24.9" r="0.95"/><circle cx="586.1" cy="54.9" r="0.95"/><circle cx="585.6" cy="28.7" r="0.95"/><circle cx="586.2" cy="31.4" r="0.95"/><circle cx="590.0" cy="38.4" r="0.95"/><circle cx="586.6" cy="24.1" r="0.95"/><circle cx="588.4" cy="45.9" r="0.95"/><circle cx="590.5" cy="28.9" r="0.95"/><circle cx="587.3" cy="15.5" r="0.95"/><circle cx="587.5" cy="36.9" r="0.95"/><circle cx="590.9" cy="17.0" r="0.95"/><circle cx="586.3" cy="37.8" r="0.95"/><circle cx="587.9" cy="32.0" r="0.95"/><circle cx="594.5" cy="17.7" r="0.95"/><circle cx="596.7" cy="24.9" r="0.95"/><circle cx="596.4" cy="19.8" r="0.95"/><circle cx="593.6" cy="15.8" r="0.95"/><circle cx="596.8" cy="11.3" r="0.95"/><circle cx="594.7" cy="42.3" r="0.95"/><circle cx="598.2" cy="8.9" r="0.95"/><circle cx="594.0" cy="32.1" r="0.95"/><circle cx="594.3" cy="25.4" r="0.95"/><circle cx="594.6" cy="33.1" r="0.95"/><circle cx="596.4" cy="10.6" r="0.95"/><circle cx="597.4" cy="24.0" r="0.95"/><circle cx="595.0" cy="51.7" r="0.95"/><circle cx="596.8" cy="39.9" r="0.95"/><circle cx="593.6" cy="36.8" r="0.95"/><circle cx="597.0" cy="33.4" r="0.95"/><circle cx="594.7" cy="30.5" r="0.95"/><circle cx="597.3" cy="27.8" r="0.95"/><circle cx="594.6" cy="36.4" r="0.95"/><circle cx="594.6" cy="33.8" r="0.95"/><circle cx="595.8" cy="34.1" r="0.95"/><circle cx="597.0" cy="37.3" r="0.95"/><circle cx="594.6" cy="17.2" r="0.95"/><circle cx="596.0" cy="31.7" r="0.95"/><circle cx="593.8" cy="29.4" r="0.95"/><circle cx="593.6" cy="25.6" r="0.95"/><circle cx="595.0" cy="39.9" r="0.95"/><circle cx="597.2" cy="14.4" r="0.95"/><circle cx="595.8" cy="32.9" r="0.95"/><circle cx="594.8" cy="18.2" r="0.95"/><circle cx="594.3" cy="34.7" r="0.95"/><circle cx="597.4" cy="21.1" r="0.95"/><circle cx="594.6" cy="30.9" r="0.95"/><circle cx="597.8" cy="40.8" r="0.95"/><circle cx="597.7" cy="39.6" r="0.95"/><circle cx="596.6" cy="51.3" r="0.95"/><circle cx="595.7" cy="23.5" r="0.95"/><circle cx="597.7" cy="46.5" r="0.95"/><circle cx="595.9" cy="53.2" r="0.95"/><circle cx="597.4" cy="19.4" r="0.95"/><circle cx="595.5" cy="38.3" r="0.95"/><circle cx="593.5" cy="27.5" r="0.95"/><circle cx="594.4" cy="34.4" r="0.95"/><circle cx="594.6" cy="52.1" r="0.95"/><circle cx="594.6" cy="35.7" r="0.95"/><circle cx="598.2" cy="21.1" r="0.95"/><circle cx="602.9" cy="39.7" r="0.95"/><circle cx="603.3" cy="57.7" r="0.95"/><circle cx="602.6" cy="23.6" r="0.95"/><circle cx="603.8" cy="37.9" r="0.95"/><circle cx="606.7" cy="32.9" r="0.95"/><circle cx="603.7" cy="43.0" r="0.95"/><circle cx="603.2" cy="30.7" r="0.95"/><circle cx="601.8" cy="46.4" r="0.95"/><circle cx="604.2" cy="52.6" r="0.95"/><circle cx="602.9" cy="23.3" r="0.95"/><circle cx="601.6" cy="30.5" r="0.95"/><circle cx="602.2" cy="15.5" r="0.95"/><circle cx="601.5" cy="47.0" r="0.95"/><circle cx="603.0" cy="31.1" r="0.95"/><circle cx="613.0" cy="45.7" r="0.95"/><circle cx="613.9" cy="10.6" r="0.95"/><circle cx="614.1" cy="40.5" r="0.95"/><circle cx="611.7" cy="27.2" r="0.95"/><circle cx="614.4" cy="47.7" r="0.95"/><circle cx="613.8" cy="37.8" r="0.95"/><circle cx="610.7" cy="38.8" r="0.95"/><circle cx="614.6" cy="31.6" r="0.95"/><circle cx="614.1" cy="33.2" r="0.95"/><circle cx="610.8" cy="19.7" r="0.95"/><circle cx="613.0" cy="28.7" r="0.95"/><circle cx="614.4" cy="18.4" r="0.95"/><circle cx="613.4" cy="39.2" r="0.95"/><circle cx="613.6" cy="28.8" r="0.95"/><circle cx="610.6" cy="53.8" r="0.95"/><circle cx="610.5" cy="24.3" r="0.95"/><circle cx="611.0" cy="37.1" r="0.95"/><circle cx="613.0" cy="61.8" r="0.95"/><circle cx="613.4" cy="33.2" r="0.95"/><circle cx="611.8" cy="42.9" r="0.95"/><circle cx="614.3" cy="16.9" r="0.95"/><circle cx="612.6" cy="39.8" r="0.95"/><circle cx="612.7" cy="29.9" r="0.95"/><circle cx="613.3" cy="30.3" r="0.95"/><circle cx="610.1" cy="22.5" r="0.95"/><circle cx="613.2" cy="8.5" r="0.95"/><circle cx="614.3" cy="29.1" r="0.95"/><circle cx="612.3" cy="39.3" r="0.95"/><circle cx="612.6" cy="26.4" r="0.95"/><circle cx="614.0" cy="33.3" r="0.95"/><circle cx="612.6" cy="34.9" r="0.95"/><circle cx="610.5" cy="32.7" r="0.95"/><circle cx="613.4" cy="47.2" r="0.95"/><circle cx="612.2" cy="23.2" r="0.95"/><circle cx="610.1" cy="27.0" r="0.95"/><circle cx="613.6" cy="30.2" r="0.95"/><circle cx="613.1" cy="34.0" r="0.95"/><circle cx="612.5" cy="35.3" r="0.95"/><circle cx="611.8" cy="26.1" r="0.95"/><circle cx="614.0" cy="40.6" r="0.95"/><circle cx="615.4" cy="38.2" r="0.95"/><circle cx="610.1" cy="26.8" r="0.95"/><circle cx="614.7" cy="43.3" r="0.95"/><circle cx="612.0" cy="27.7" r="0.95"/><circle cx="611.7" cy="35.6" r="0.95"/><circle cx="611.2" cy="33.3" r="0.95"/><circle cx="610.8" cy="30.8" r="0.95"/><circle cx="614.2" cy="26.1" r="0.95"/><circle cx="637.6" cy="14.5" r="0.95"/><circle cx="636.1" cy="29.1" r="0.95"/><circle cx="639.0" cy="29.7" r="0.95"/><circle cx="642.2" cy="28.5" r="0.95"/><circle cx="646.3" cy="27.6" r="0.95"/><circle cx="650.9" cy="26.2" r="0.95"/><circle cx="655.0" cy="26.7" r="0.95"/><circle cx="653.0" cy="29.1" r="0.95"/><circle cx="655.0" cy="29.1" r="0.95"/><circle cx="641.9" cy="32.8" r="0.95"/><circle cx="646.6" cy="32.8" r="0.95"/><circle cx="650.1" cy="34.3" r="0.95"/><circle cx="647.7" cy="35.5" r="0.95"/><circle cx="650.9" cy="37.8" r="0.95"/><circle cx="652.1" cy="44.2" r="0.95"/><circle cx="653.8" cy="46.5" r="0.95"/><circle cx="655.0" cy="50.9" r="0.95"/><circle cx="625.3" cy="37.8" r="0.95"/><circle cx="619.5" cy="50.9" r="0.95"/><circle cx="628.3" cy="52.9" r="0.95"/><circle cx="626.8" cy="61.6" r="0.95"/><circle cx="674.8" cy="30.5" r="0.95"/><circle cx="677.1" cy="35.5" r="0.95"/><circle cx="674.8" cy="38.7" r="0.95"/><circle cx="677.7" cy="39.8" r="0.95"/><circle cx="612.3" cy="66.9" r="0.95"/><circle cx="561.0" cy="60.0" r="0.95"/><circle cx="561.0" cy="75.0" r="0.95"/><circle cx="564.5" cy="84.0" r="0.95"/><circle cx="564.8" cy="84.3" r="0.95"/><circle cx="593.5" cy="100.0" r="0.95"/><circle cx="595.5" cy="114.5" r="0.95"/><circle cx="594.0" cy="69.0" r="0.95"/><circle cx="596.0" cy="63.0" r="0.95"/><circle cx="612.0" cy="66.0" r="0.95"/></g>
<polygon points="547.3,32.5 552.7,32.8 558.2,33.0 563.6,33.3 569.0,33.5 574.5,33.7 579.9,33.9 585.3,34.0 590.8,34.0 596.2,34.0 601.6,34.0 607.1,34.0 612.5,33.9 617.9,33.8 623.4,33.6 628.8,33.5 634.2,33.4 639.7,33.2 645.1,33.1 650.5,32.9 656.0,32.7 661.4,32.6 666.8,32.4 672.3,32.3 677.7,32.1 677.7,41.7 672.3,41.3 666.8,41.0 661.4,40.6 656.0,40.3 650.5,39.9 645.1,39.6 639.7,39.2 634.2,38.9 628.8,38.6 623.4,38.3 617.9,37.9 612.5,37.6 607.1,37.4 601.6,37.1 596.2,36.9 590.8,36.7 585.3,36.6 579.9,36.5 574.5,36.5 569.0,36.5 563.6,36.5 558.2,36.5 552.7,36.6 547.3,36.7" fill="#999" fill-opacity="0.42"/>
<line x1="547.3" y1="34.6" x2="677.7" y2="36.9" stroke="#0c0cf8" stroke-width="1.12"/>
<rect x="13.0" y="143.0" width="147.8" height="120.7" fill="#ebebeb"/>
<path d="M46.10 143.0V263.7M98.30 143.0V263.7M150.50 143.0V263.7M13.0 153.10H160.8M13.0 179.70H160.8M13.0 206.30H160.8M13.0 232.90H160.8M13.0 259.50H160.8" stroke="#fff" stroke-width="0.45" fill="none" opacity="0.9"/>
<path d="M20.00 143.0V263.7M72.20 143.0V263.7M124.40 143.0V263.7M13.0 166.40H160.8M13.0 193.00H160.8M13.0 219.60H160.8M13.0 246.20H160.8" stroke="#fff" stroke-width="0.8" fill="none"/>
<path d="M20.00 263.7v1.5M72.20 263.7v1.5M124.40 263.7v1.5M13.0 166.40h-1.5M13.0 193.00h-1.5M13.0 219.60h-1.5M13.0 246.20h-1.5" stroke="#333" stroke-width="0.55" fill="none"/>
<text x="20.00" y="268.7" class="tk" text-anchor="middle">0</text>
<text x="72.20" y="268.7" class="tk" text-anchor="middle">10</text>
<text x="124.40" y="268.7" class="tk" text-anchor="middle">20</text>
<text x="11.0" y="167.55" class="tk" text-anchor="end">50</text>
<text x="11.0" y="194.15" class="tk" text-anchor="end">40</text>
<text x="11.0" y="220.75" class="tk" text-anchor="end">30</text>
<text x="11.0" y="247.35" class="tk" text-anchor="end">20</text>
<g fill="#333" fill-opacity="0.68"><circle cx="27.3" cy="213.5" r="0.95"/><circle cx="38.9" cy="170.8" r="0.95"/><circle cx="97.8" cy="193.9" r="0.95"/><circle cx="40.1" cy="251.9" r="0.95"/><circle cx="23.0" cy="195.6" r="0.95"/><circle cx="24.4" cy="205.4" r="0.95"/><circle cx="21.9" cy="186.7" r="0.95"/><circle cx="56.4" cy="179.6" r="0.95"/><circle cx="22.9" cy="167.1" r="0.95"/><circle cx="26.1" cy="257.8" r="0.95"/><circle cx="27.4" cy="229.1" r="0.95"/><circle cx="36.1" cy="224.0" r="0.95"/><circle cx="42.4" cy="195.9" r="0.95"/><circle cx="58.0" cy="155.8" r="0.95"/><circle cx="38.8" cy="171.7" r="0.95"/><circle cx="35.7" cy="174.2" r="0.95"/><circle cx="62.6" cy="149.0" r="0.95"/><circle cx="37.7" cy="202.7" r="0.95"/><circle cx="61.4" cy="215.7" r="0.95"/><circle cx="20.8" cy="199.8" r="0.95"/><circle cx="39.5" cy="186.1" r="0.95"/><circle cx="29.6" cy="214.1" r="0.95"/><circle cx="46.5" cy="185.3" r="0.95"/><circle cx="22.8" cy="182.9" r="0.95"/><circle cx="59.4" cy="183.0" r="0.95"/><circle cx="32.4" cy="189.8" r="0.95"/><circle cx="30.3" cy="189.7" r="0.95"/><circle cx="60.8" cy="165.2" r="0.95"/><circle cx="50.3" cy="229.2" r="0.95"/><circle cx="62.5" cy="242.4" r="0.95"/><circle cx="137.5" cy="225.0" r="0.95"/><circle cx="34.8" cy="170.6" r="0.95"/><circle cx="51.6" cy="180.6" r="0.95"/><circle cx="30.1" cy="254.5" r="0.95"/><circle cx="66.8" cy="224.9" r="0.95"/><circle cx="47.8" cy="158.3" r="0.95"/><circle cx="22.3" cy="235.0" r="0.95"/><circle cx="28.0" cy="248.0" r="0.95"/><circle cx="34.0" cy="178.1" r="0.95"/><circle cx="89.0" cy="248.8" r="0.95"/><circle cx="30.6" cy="202.6" r="0.95"/><circle cx="29.3" cy="237.6" r="0.95"/><circle cx="112.9" cy="194.9" r="0.95"/><circle cx="36.7" cy="186.9" r="0.95"/><circle cx="57.6" cy="183.8" r="0.95"/><circle cx="31.4" cy="195.9" r="0.95"/><circle cx="27.2" cy="182.7" r="0.95"/><circle cx="46.8" cy="210.9" r="0.95"/><circle cx="47.9" cy="214.7" r="0.95"/><circle cx="30.8" cy="245.8" r="0.95"/><circle cx="120.0" cy="249.1" r="0.95"/><circle cx="20.9" cy="223.0" r="0.95"/><circle cx="20.4" cy="243.9" r="0.95"/><circle cx="27.0" cy="229.3" r="0.95"/><circle cx="26.5" cy="204.0" r="0.95"/><circle cx="24.3" cy="209.4" r="0.95"/><circle cx="21.4" cy="248.8" r="0.95"/><circle cx="23.1" cy="208.0" r="0.95"/><circle cx="42.3" cy="243.9" r="0.95"/><circle cx="80.6" cy="188.4" r="0.95"/><circle cx="46.3" cy="178.1" r="0.95"/><circle cx="24.2" cy="262.0" r="0.95"/><circle cx="27.7" cy="210.5" r="0.95"/><circle cx="27.4" cy="201.8" r="0.95"/><circle cx="20.5" cy="208.3" r="0.95"/><circle cx="32.5" cy="165.6" r="0.95"/><circle cx="24.5" cy="215.1" r="0.95"/><circle cx="45.1" cy="242.0" r="0.95"/><circle cx="52.3" cy="201.7" r="0.95"/><circle cx="24.2" cy="233.9" r="0.95"/><circle cx="59.8" cy="191.8" r="0.95"/><circle cx="50.2" cy="242.6" r="0.95"/><circle cx="20.7" cy="207.0" r="0.95"/><circle cx="30.4" cy="257.1" r="0.95"/><circle cx="37.6" cy="198.2" r="0.95"/><circle cx="26.5" cy="224.1" r="0.95"/><circle cx="40.7" cy="260.0" r="0.95"/><circle cx="29.7" cy="166.8" r="0.95"/><circle cx="30.4" cy="209.8" r="0.95"/><circle cx="86.4" cy="176.9" r="0.95"/><circle cx="30.1" cy="182.3" r="0.95"/><circle cx="47.1" cy="253.1" r="0.95"/><circle cx="24.2" cy="198.2" r="0.95"/><circle cx="53.9" cy="203.2" r="0.95"/><circle cx="77.0" cy="211.2" r="0.95"/><circle cx="49.7" cy="216.3" r="0.95"/><circle cx="50.9" cy="181.7" r="0.95"/><circle cx="61.4" cy="196.8" r="0.95"/><circle cx="68.5" cy="257.2" r="0.95"/><circle cx="46.3" cy="197.9" r="0.95"/><circle cx="22.5" cy="196.6" r="0.95"/><circle cx="27.1" cy="183.9" r="0.95"/><circle cx="22.4" cy="185.6" r="0.95"/><circle cx="88.6" cy="201.8" r="0.95"/><circle cx="25.9" cy="211.7" r="0.95"/><circle cx="29.1" cy="185.2" r="0.95"/><circle cx="50.8" cy="209.8" r="0.95"/><circle cx="58.3" cy="227.5" r="0.95"/><circle cx="31.5" cy="238.3" r="0.95"/><circle cx="27.1" cy="221.7" r="0.95"/><circle cx="25.7" cy="208.8" r="0.95"/><circle cx="23.1" cy="193.4" r="0.95"/><circle cx="65.8" cy="208.8" r="0.95"/><circle cx="46.1" cy="204.2" r="0.95"/><circle cx="23.2" cy="242.0" r="0.95"/><circle cx="21.5" cy="195.9" r="0.95"/><circle cx="47.2" cy="163.7" r="0.95"/><circle cx="131.6" cy="161.8" r="0.95"/><circle cx="22.0" cy="246.4" r="0.95"/><circle cx="25.9" cy="185.8" r="0.95"/><circle cx="42.0" cy="183.5" r="0.95"/><circle cx="23.9" cy="198.5" r="0.95"/><circle cx="60.6" cy="194.8" r="0.95"/><circle cx="29.7" cy="249.0" r="0.95"/><circle cx="69.7" cy="241.0" r="0.95"/><circle cx="21.5" cy="245.2" r="0.95"/><circle cx="42.4" cy="185.7" r="0.95"/><circle cx="104.2" cy="191.7" r="0.95"/><circle cx="113.4" cy="242.2" r="0.95"/><circle cx="25.5" cy="228.9" r="0.95"/><circle cx="34.1" cy="192.0" r="0.95"/><circle cx="24.0" cy="180.7" r="0.95"/><circle cx="46.3" cy="211.7" r="0.95"/><circle cx="59.0" cy="199.1" r="0.95"/><circle cx="22.9" cy="210.0" r="0.95"/><circle cx="26.2" cy="182.2" r="0.95"/><circle cx="48.4" cy="197.1" r="0.95"/><circle cx="24.6" cy="228.0" r="0.95"/><circle cx="28.6" cy="179.3" r="0.95"/><circle cx="20.5" cy="184.4" r="0.95"/><circle cx="50.7" cy="180.0" r="0.95"/><circle cx="20.9" cy="168.7" r="0.95"/><circle cx="70.3" cy="170.1" r="0.95"/><circle cx="51.6" cy="172.3" r="0.95"/><circle cx="24.8" cy="249.4" r="0.95"/><circle cx="20.5" cy="238.6" r="0.95"/><circle cx="41.4" cy="224.1" r="0.95"/><circle cx="27.7" cy="220.7" r="0.95"/><circle cx="27.7" cy="194.0" r="0.95"/><circle cx="120.3" cy="203.7" r="0.95"/><circle cx="29.5" cy="183.1" r="0.95"/><circle cx="70.0" cy="188.9" r="0.95"/><circle cx="137.5" cy="214.2" r="0.95"/><circle cx="33.9" cy="226.4" r="0.95"/><circle cx="58.1" cy="187.4" r="0.95"/><circle cx="36.3" cy="189.4" r="0.95"/><circle cx="60.6" cy="177.6" r="0.95"/><circle cx="60.2" cy="195.0" r="0.95"/><circle cx="23.4" cy="255.3" r="0.95"/><circle cx="24.9" cy="201.2" r="0.95"/><circle cx="60.2" cy="164.5" r="0.95"/><circle cx="20.4" cy="238.3" r="0.95"/><circle cx="43.9" cy="237.9" r="0.95"/><circle cx="29.3" cy="249.2" r="0.95"/><circle cx="69.3" cy="187.3" r="0.95"/><circle cx="68.7" cy="203.2" r="0.95"/><circle cx="21.9" cy="206.3" r="0.95"/><circle cx="47.7" cy="248.4" r="0.95"/><circle cx="48.4" cy="214.3" r="0.95"/><circle cx="34.9" cy="215.2" r="0.95"/><circle cx="24.9" cy="169.9" r="0.95"/><circle cx="23.0" cy="241.3" r="0.95"/><circle cx="64.6" cy="197.8" r="0.95"/><circle cx="49.4" cy="196.1" r="0.95"/><circle cx="29.8" cy="166.4" r="0.95"/><circle cx="66.8" cy="221.6" r="0.95"/><circle cx="23.0" cy="204.0" r="0.95"/><circle cx="67.8" cy="214.0" r="0.95"/><circle cx="35.3" cy="242.0" r="0.95"/><circle cx="51.7" cy="171.9" r="0.95"/><circle cx="34.8" cy="171.3" r="0.95"/><circle cx="95.4" cy="213.7" r="0.95"/><circle cx="53.0" cy="175.7" r="0.95"/><circle cx="115.4" cy="259.2" r="0.95"/><circle cx="22.5" cy="172.5" r="0.95"/><circle cx="27.2" cy="199.0" r="0.95"/><circle cx="27.1" cy="226.9" r="0.95"/><circle cx="21.7" cy="183.5" r="0.95"/><circle cx="24.4" cy="194.6" r="0.95"/><circle cx="29.5" cy="192.8" r="0.95"/><circle cx="26.6" cy="256.4" r="0.95"/><circle cx="28.7" cy="195.3" r="0.95"/><circle cx="27.4" cy="238.5" r="0.95"/><circle cx="26.4" cy="185.7" r="0.95"/><circle cx="22.2" cy="227.7" r="0.95"/><circle cx="37.4" cy="196.5" r="0.95"/><circle cx="60.8" cy="217.2" r="0.95"/><circle cx="47.4" cy="201.4" r="0.95"/><circle cx="58.0" cy="202.6" r="0.95"/><circle cx="40.5" cy="207.9" r="0.95"/><circle cx="46.7" cy="201.1" r="0.95"/><circle cx="37.9" cy="190.4" r="0.95"/><circle cx="44.1" cy="166.6" r="0.95"/><circle cx="27.8" cy="178.2" r="0.95"/><circle cx="22.7" cy="196.3" r="0.95"/><circle cx="20.6" cy="252.8" r="0.95"/><circle cx="21.2" cy="222.8" r="0.95"/><circle cx="26.0" cy="245.7" r="0.95"/><circle cx="23.4" cy="252.6" r="0.95"/><circle cx="29.0" cy="212.9" r="0.95"/><circle cx="25.0" cy="184.5" r="0.95"/><circle cx="25.4" cy="201.9" r="0.95"/><circle cx="67.3" cy="250.5" r="0.95"/><circle cx="21.3" cy="190.2" r="0.95"/><circle cx="34.9" cy="251.3" r="0.95"/><circle cx="39.8" cy="201.4" r="0.95"/><circle cx="73.2" cy="188.0" r="0.95"/><circle cx="35.9" cy="188.2" r="0.95"/><circle cx="40.3" cy="195.9" r="0.95"/><circle cx="85.9" cy="256.6" r="0.95"/><circle cx="27.7" cy="230.7" r="0.95"/><circle cx="48.8" cy="225.4" r="0.95"/><circle cx="47.8" cy="180.8" r="0.95"/><circle cx="20.8" cy="171.1" r="0.95"/><circle cx="29.7" cy="225.5" r="0.95"/><circle cx="27.3" cy="227.7" r="0.95"/><circle cx="26.8" cy="231.8" r="0.95"/><circle cx="29.9" cy="186.1" r="0.95"/><circle cx="63.4" cy="252.2" r="0.95"/><circle cx="46.8" cy="188.1" r="0.95"/><circle cx="34.4" cy="178.7" r="0.95"/><circle cx="32.3" cy="177.1" r="0.95"/><circle cx="34.9" cy="191.0" r="0.95"/><circle cx="29.4" cy="196.1" r="0.95"/><circle cx="26.9" cy="202.1" r="0.95"/><circle cx="26.6" cy="173.9" r="0.95"/><circle cx="55.9" cy="208.5" r="0.95"/><circle cx="31.5" cy="174.4" r="0.95"/><circle cx="82.9" cy="188.2" r="0.95"/><circle cx="33.1" cy="255.7" r="0.95"/><circle cx="51.0" cy="181.2" r="0.95"/><circle cx="60.1" cy="171.3" r="0.95"/><circle cx="112.2" cy="148.2" r="0.95"/><circle cx="54.6" cy="187.4" r="0.95"/><circle cx="23.1" cy="180.0" r="0.95"/><circle cx="51.8" cy="178.3" r="0.95"/><circle cx="46.7" cy="196.4" r="0.95"/><circle cx="29.8" cy="187.3" r="0.95"/><circle cx="56.7" cy="191.3" r="0.95"/><circle cx="116.3" cy="239.0" r="0.95"/><circle cx="137.5" cy="221.1" r="0.95"/><circle cx="52.5" cy="187.3" r="0.95"/><circle cx="79.4" cy="210.2" r="0.95"/><circle cx="49.4" cy="207.8" r="0.95"/><circle cx="23.2" cy="244.1" r="0.95"/><circle cx="20.3" cy="207.0" r="0.95"/><circle cx="23.9" cy="174.1" r="0.95"/><circle cx="23.6" cy="197.6" r="0.95"/><circle cx="24.5" cy="221.7" r="0.95"/><circle cx="23.8" cy="232.2" r="0.95"/><circle cx="36.2" cy="251.4" r="0.95"/><circle cx="26.1" cy="201.6" r="0.95"/><circle cx="70.6" cy="184.3" r="0.95"/><circle cx="26.2" cy="184.4" r="0.95"/><circle cx="27.5" cy="203.9" r="0.95"/><circle cx="50.6" cy="217.5" r="0.95"/><circle cx="47.1" cy="248.9" r="0.95"/><circle cx="29.4" cy="199.3" r="0.95"/><circle cx="22.8" cy="163.0" r="0.95"/><circle cx="22.8" cy="187.8" r="0.95"/><circle cx="20.4" cy="207.0" r="0.95"/><circle cx="52.1" cy="237.0" r="0.95"/><circle cx="42.5" cy="186.4" r="0.95"/><circle cx="76.5" cy="191.2" r="0.95"/><circle cx="28.8" cy="173.6" r="0.95"/><circle cx="36.1" cy="205.9" r="0.95"/><circle cx="22.0" cy="213.6" r="0.95"/><circle cx="23.3" cy="231.9" r="0.95"/><circle cx="106.6" cy="241.5" r="0.95"/><circle cx="55.2" cy="178.2" r="0.95"/><circle cx="22.4" cy="206.2" r="0.95"/><circle cx="80.8" cy="205.6" r="0.95"/><circle cx="40.3" cy="234.3" r="0.95"/><circle cx="65.5" cy="174.0" r="0.95"/><circle cx="46.0" cy="191.0" r="0.95"/><circle cx="122.1" cy="166.2" r="0.95"/><circle cx="27.8" cy="191.9" r="0.95"/><circle cx="42.2" cy="178.4" r="0.95"/><circle cx="86.3" cy="185.4" r="0.95"/><circle cx="22.5" cy="235.2" r="0.95"/><circle cx="26.3" cy="209.4" r="0.95"/><circle cx="24.2" cy="247.9" r="0.95"/><circle cx="64.3" cy="243.5" r="0.95"/><circle cx="34.4" cy="235.8" r="0.95"/><circle cx="37.3" cy="177.5" r="0.95"/><circle cx="22.4" cy="191.9" r="0.95"/><circle cx="29.7" cy="183.0" r="0.95"/><circle cx="51.5" cy="177.2" r="0.95"/><circle cx="32.6" cy="184.9" r="0.95"/><circle cx="41.6" cy="207.7" r="0.95"/><circle cx="29.0" cy="217.9" r="0.95"/><circle cx="31.9" cy="191.2" r="0.95"/><circle cx="38.6" cy="220.0" r="0.95"/><circle cx="32.7" cy="201.5" r="0.95"/><circle cx="41.5" cy="189.5" r="0.95"/><circle cx="50.0" cy="202.7" r="0.95"/><circle cx="54.6" cy="202.2" r="0.95"/><circle cx="36.6" cy="252.0" r="0.95"/><circle cx="22.0" cy="198.6" r="0.95"/><circle cx="78.4" cy="195.6" r="0.95"/><circle cx="153.1" cy="224.5" r="0.95"/></g>
<polygon points="20.3,202.6 25.9,203.7 31.4,204.7 37.0,205.6 42.6,206.3 48.1,206.9 53.7,207.4 59.3,207.8 64.8,208.1 70.4,208.4 76.0,208.6 81.5,208.8 87.1,209.0 92.7,209.2 98.2,209.4 103.8,209.6 109.4,209.8 114.9,209.9 120.5,210.1 126.1,210.3 131.6,210.5 137.2,210.6 142.8,210.8 148.3,210.9 153.9,211.1 153.9,232.3 148.3,231.1 142.8,229.9 137.2,228.8 131.6,227.6 126.1,226.4 120.5,225.3 114.9,224.1 109.4,222.9 103.8,221.8 98.2,220.6 92.7,219.5 87.1,218.3 81.5,217.2 76.0,216.1 70.4,215.0 64.8,213.9 59.3,212.9 53.7,211.9 48.1,211.1 42.6,210.3 37.0,209.7 31.4,209.3 25.9,209.0 20.3,208.8" fill="#999" fill-opacity="0.42"/>
<line x1="20.3" y1="205.7" x2="153.9" y2="221.5" stroke="#0c0cf8" stroke-width="1.12"/>
<rect x="189.1" y="143.0" width="147.6" height="120.7" fill="#ebebeb"/>
<path d="M222.30 143.0V263.7M274.10 143.0V263.7M325.90 143.0V263.7M189.1 155.43H336.7M189.1 177.69H336.7M189.1 199.95H336.7M189.1 222.21H336.7M189.1 244.47H336.7" stroke="#fff" stroke-width="0.45" fill="none" opacity="0.9"/>
<path d="M196.40 143.0V263.7M248.20 143.0V263.7M300.00 143.0V263.7M189.1 144.30H336.7M189.1 166.56H336.7M189.1 188.82H336.7M189.1 211.08H336.7M189.1 233.34H336.7M189.1 255.60H336.7" stroke="#fff" stroke-width="0.8" fill="none"/>
<path d="M196.40 263.7v1.5M248.20 263.7v1.5M300.00 263.7v1.5M189.1 144.30h-1.5M189.1 166.56h-1.5M189.1 188.82h-1.5M189.1 211.08h-1.5M189.1 233.34h-1.5M189.1 255.60h-1.5" stroke="#333" stroke-width="0.55" fill="none"/>
<text x="196.40" y="268.7" class="tk" text-anchor="middle">0</text>
<text x="248.20" y="268.7" class="tk" text-anchor="middle">10</text>
<text x="300.00" y="268.7" class="tk" text-anchor="middle">20</text>
<text x="187.1" y="145.45" class="tk" text-anchor="end">90</text>
<text x="187.1" y="167.71" class="tk" text-anchor="end">80</text>
<text x="187.1" y="189.97" class="tk" text-anchor="end">70</text>
<text x="187.1" y="212.23" class="tk" text-anchor="end">60</text>
<text x="187.1" y="234.49" class="tk" text-anchor="end">50</text>
<text x="187.1" y="256.75" class="tk" text-anchor="end">40</text>
<g fill="#333" fill-opacity="0.68"><circle cx="203.6" cy="188.5" r="0.95"/><circle cx="215.2" cy="192.8" r="0.95"/><circle cx="273.6" cy="162.7" r="0.95"/><circle cx="216.3" cy="180.5" r="0.95"/><circle cx="199.4" cy="228.4" r="0.95"/><circle cx="200.8" cy="193.9" r="0.95"/><circle cx="198.2" cy="201.2" r="0.95"/><circle cx="232.5" cy="216.8" r="0.95"/><circle cx="199.3" cy="182.3" r="0.95"/><circle cx="202.5" cy="180.9" r="0.95"/><circle cx="203.8" cy="248.5" r="0.95"/><circle cx="212.3" cy="222.8" r="0.95"/><circle cx="218.6" cy="164.5" r="0.95"/><circle cx="234.1" cy="234.0" r="0.95"/><circle cx="215.0" cy="238.1" r="0.95"/><circle cx="211.9" cy="209.1" r="0.95"/><circle cx="238.7" cy="208.6" r="0.95"/><circle cx="214.0" cy="237.6" r="0.95"/><circle cx="237.5" cy="235.6" r="0.95"/><circle cx="197.2" cy="179.1" r="0.95"/><circle cx="215.7" cy="189.0" r="0.95"/><circle cx="205.9" cy="232.6" r="0.95"/><circle cx="222.7" cy="226.0" r="0.95"/><circle cx="199.2" cy="227.4" r="0.95"/><circle cx="235.5" cy="208.5" r="0.95"/><circle cx="208.7" cy="196.7" r="0.95"/><circle cx="206.7" cy="189.7" r="0.95"/><circle cx="236.9" cy="170.8" r="0.95"/><circle cx="226.5" cy="174.1" r="0.95"/><circle cx="238.5" cy="248.4" r="0.95"/><circle cx="312.9" cy="232.7" r="0.95"/><circle cx="211.1" cy="227.4" r="0.95"/><circle cx="227.8" cy="179.5" r="0.95"/><circle cx="206.4" cy="193.9" r="0.95"/><circle cx="242.8" cy="211.9" r="0.95"/><circle cx="224.0" cy="229.6" r="0.95"/><circle cx="198.7" cy="252.3" r="0.95"/><circle cx="204.3" cy="242.5" r="0.95"/><circle cx="210.3" cy="162.8" r="0.95"/><circle cx="264.9" cy="238.6" r="0.95"/><circle cx="206.9" cy="205.3" r="0.95"/><circle cx="205.6" cy="179.0" r="0.95"/><circle cx="288.6" cy="182.1" r="0.95"/><circle cx="213.0" cy="198.8" r="0.95"/><circle cx="233.7" cy="192.9" r="0.95"/><circle cx="207.7" cy="226.3" r="0.95"/><circle cx="203.5" cy="192.6" r="0.95"/><circle cx="223.0" cy="238.6" r="0.95"/><circle cx="224.1" cy="238.4" r="0.95"/><circle cx="207.1" cy="216.8" r="0.95"/><circle cx="295.7" cy="195.6" r="0.95"/><circle cx="197.3" cy="188.6" r="0.95"/><circle cx="196.8" cy="221.1" r="0.95"/><circle cx="203.3" cy="190.7" r="0.95"/><circle cx="202.9" cy="240.4" r="0.95"/><circle cx="200.7" cy="212.6" r="0.95"/><circle cx="197.7" cy="198.8" r="0.95"/><circle cx="199.5" cy="240.6" r="0.95"/><circle cx="218.5" cy="181.0" r="0.95"/><circle cx="256.6" cy="237.0" r="0.95"/><circle cx="222.5" cy="211.7" r="0.95"/><circle cx="200.6" cy="179.5" r="0.95"/><circle cx="204.1" cy="243.6" r="0.95"/><circle cx="203.8" cy="199.7" r="0.95"/><circle cx="196.9" cy="156.9" r="0.95"/><circle cx="208.8" cy="186.5" r="0.95"/><circle cx="200.8" cy="197.9" r="0.95"/><circle cx="221.3" cy="184.3" r="0.95"/><circle cx="228.5" cy="213.9" r="0.95"/><circle cx="200.6" cy="153.7" r="0.95"/><circle cx="235.9" cy="195.7" r="0.95"/><circle cx="226.4" cy="185.8" r="0.95"/><circle cx="197.1" cy="223.1" r="0.95"/><circle cx="206.7" cy="204.4" r="0.95"/><circle cx="213.9" cy="241.3" r="0.95"/><circle cx="202.8" cy="195.2" r="0.95"/><circle cx="216.9" cy="214.3" r="0.95"/><circle cx="206.1" cy="233.1" r="0.95"/><circle cx="206.7" cy="187.9" r="0.95"/><circle cx="262.3" cy="231.1" r="0.95"/><circle cx="206.4" cy="220.9" r="0.95"/><circle cx="223.3" cy="227.5" r="0.95"/><circle cx="200.6" cy="175.9" r="0.95"/><circle cx="230.1" cy="189.6" r="0.95"/><circle cx="252.9" cy="174.2" r="0.95"/><circle cx="225.9" cy="176.7" r="0.95"/><circle cx="227.1" cy="182.0" r="0.95"/><circle cx="237.5" cy="179.8" r="0.95"/><circle cx="244.6" cy="172.0" r="0.95"/><circle cx="222.5" cy="187.6" r="0.95"/><circle cx="198.9" cy="226.1" r="0.95"/><circle cx="203.5" cy="156.5" r="0.95"/><circle cx="198.8" cy="251.3" r="0.95"/><circle cx="264.4" cy="233.2" r="0.95"/><circle cx="202.2" cy="208.3" r="0.95"/><circle cx="205.4" cy="183.0" r="0.95"/><circle cx="226.9" cy="189.3" r="0.95"/><circle cx="234.4" cy="209.9" r="0.95"/><circle cx="207.8" cy="229.7" r="0.95"/><circle cx="203.5" cy="239.7" r="0.95"/><circle cx="202.1" cy="190.8" r="0.95"/><circle cx="199.5" cy="185.4" r="0.95"/><circle cx="241.9" cy="187.0" r="0.95"/><circle cx="222.3" cy="209.3" r="0.95"/><circle cx="199.6" cy="190.0" r="0.95"/><circle cx="197.9" cy="182.2" r="0.95"/><circle cx="223.4" cy="173.3" r="0.95"/><circle cx="307.1" cy="202.4" r="0.95"/><circle cx="198.4" cy="228.1" r="0.95"/><circle cx="202.2" cy="170.3" r="0.95"/><circle cx="218.2" cy="208.6" r="0.95"/><circle cx="200.3" cy="208.5" r="0.95"/><circle cx="236.7" cy="190.3" r="0.95"/><circle cx="206.0" cy="242.4" r="0.95"/><circle cx="245.7" cy="225.1" r="0.95"/><circle cx="197.9" cy="172.9" r="0.95"/><circle cx="218.6" cy="199.4" r="0.95"/><circle cx="279.9" cy="198.3" r="0.95"/><circle cx="289.1" cy="189.2" r="0.95"/><circle cx="201.9" cy="249.9" r="0.95"/><circle cx="210.4" cy="177.1" r="0.95"/><circle cx="200.4" cy="228.5" r="0.95"/><circle cx="222.5" cy="173.6" r="0.95"/><circle cx="235.1" cy="224.0" r="0.95"/><circle cx="199.3" cy="240.2" r="0.95"/><circle cx="202.5" cy="251.1" r="0.95"/><circle cx="224.6" cy="238.2" r="0.95"/><circle cx="200.9" cy="214.8" r="0.95"/><circle cx="204.9" cy="211.8" r="0.95"/><circle cx="196.9" cy="236.7" r="0.95"/><circle cx="226.9" cy="179.0" r="0.95"/><circle cx="197.3" cy="197.5" r="0.95"/><circle cx="246.3" cy="232.5" r="0.95"/><circle cx="227.7" cy="199.9" r="0.95"/><circle cx="201.1" cy="244.9" r="0.95"/><circle cx="196.9" cy="195.1" r="0.95"/><circle cx="217.6" cy="193.1" r="0.95"/><circle cx="204.0" cy="247.9" r="0.95"/><circle cx="204.0" cy="178.9" r="0.95"/><circle cx="295.9" cy="247.1" r="0.95"/><circle cx="205.8" cy="256.5" r="0.95"/><circle cx="246.0" cy="195.2" r="0.95"/><circle cx="312.9" cy="221.6" r="0.95"/><circle cx="210.2" cy="186.6" r="0.95"/><circle cx="234.2" cy="151.3" r="0.95"/><circle cx="212.6" cy="179.6" r="0.95"/><circle cx="236.7" cy="191.8" r="0.95"/><circle cx="236.3" cy="170.3" r="0.95"/><circle cx="199.8" cy="199.3" r="0.95"/><circle cx="201.3" cy="214.1" r="0.95"/><circle cx="236.3" cy="196.0" r="0.95"/><circle cx="196.8" cy="205.8" r="0.95"/><circle cx="220.1" cy="189.0" r="0.95"/><circle cx="205.6" cy="184.2" r="0.95"/><circle cx="245.3" cy="200.8" r="0.95"/><circle cx="244.7" cy="192.1" r="0.95"/><circle cx="198.3" cy="198.4" r="0.95"/><circle cx="223.9" cy="214.4" r="0.95"/><circle cx="224.6" cy="233.1" r="0.95"/><circle cx="211.2" cy="190.7" r="0.95"/><circle cx="201.3" cy="165.2" r="0.95"/><circle cx="199.3" cy="199.2" r="0.95"/><circle cx="240.7" cy="222.1" r="0.95"/><circle cx="225.6" cy="230.9" r="0.95"/><circle cx="206.1" cy="186.2" r="0.95"/><circle cx="242.8" cy="194.7" r="0.95"/><circle cx="199.4" cy="207.4" r="0.95"/><circle cx="243.8" cy="197.0" r="0.95"/><circle cx="211.6" cy="169.0" r="0.95"/><circle cx="227.9" cy="205.4" r="0.95"/><circle cx="211.1" cy="211.6" r="0.95"/><circle cx="271.2" cy="190.7" r="0.95"/><circle cx="229.2" cy="229.4" r="0.95"/><circle cx="291.1" cy="188.0" r="0.95"/><circle cx="198.9" cy="240.3" r="0.95"/><circle cx="203.5" cy="204.4" r="0.95"/><circle cx="203.5" cy="180.6" r="0.95"/><circle cx="198.1" cy="205.8" r="0.95"/><circle cx="200.8" cy="225.5" r="0.95"/><circle cx="205.8" cy="235.1" r="0.95"/><circle cx="202.9" cy="182.9" r="0.95"/><circle cx="205.0" cy="182.4" r="0.95"/><circle cx="203.8" cy="237.8" r="0.95"/><circle cx="202.7" cy="193.9" r="0.95"/><circle cx="198.6" cy="190.9" r="0.95"/><circle cx="213.7" cy="176.2" r="0.95"/><circle cx="236.9" cy="234.9" r="0.95"/><circle cx="223.5" cy="173.8" r="0.95"/><circle cx="234.1" cy="212.6" r="0.95"/><circle cx="216.7" cy="239.9" r="0.95"/><circle cx="222.9" cy="219.9" r="0.95"/><circle cx="214.1" cy="244.2" r="0.95"/><circle cx="220.3" cy="246.9" r="0.95"/><circle cx="204.1" cy="165.2" r="0.95"/><circle cx="199.0" cy="197.4" r="0.95"/><circle cx="197.0" cy="193.1" r="0.95"/><circle cx="197.6" cy="215.5" r="0.95"/><circle cx="202.3" cy="236.6" r="0.95"/><circle cx="199.8" cy="233.8" r="0.95"/><circle cx="205.3" cy="192.1" r="0.95"/><circle cx="201.4" cy="247.1" r="0.95"/><circle cx="201.8" cy="244.3" r="0.95"/><circle cx="243.3" cy="168.7" r="0.95"/><circle cx="197.7" cy="191.5" r="0.95"/><circle cx="211.2" cy="227.6" r="0.95"/><circle cx="216.0" cy="199.5" r="0.95"/><circle cx="249.2" cy="188.0" r="0.95"/><circle cx="212.2" cy="178.8" r="0.95"/><circle cx="216.6" cy="189.1" r="0.95"/><circle cx="261.8" cy="195.8" r="0.95"/><circle cx="204.1" cy="225.6" r="0.95"/><circle cx="225.0" cy="226.4" r="0.95"/><circle cx="224.0" cy="182.4" r="0.95"/><circle cx="197.2" cy="213.1" r="0.95"/><circle cx="206.0" cy="238.5" r="0.95"/><circle cx="203.6" cy="188.9" r="0.95"/><circle cx="203.1" cy="194.1" r="0.95"/><circle cx="206.2" cy="196.4" r="0.95"/><circle cx="239.5" cy="191.2" r="0.95"/><circle cx="223.0" cy="182.5" r="0.95"/><circle cx="210.7" cy="242.5" r="0.95"/><circle cx="208.6" cy="173.0" r="0.95"/><circle cx="211.2" cy="191.3" r="0.95"/><circle cx="205.7" cy="232.0" r="0.95"/><circle cx="203.2" cy="251.3" r="0.95"/><circle cx="202.9" cy="234.4" r="0.95"/><circle cx="232.0" cy="212.4" r="0.95"/><circle cx="207.8" cy="161.1" r="0.95"/><circle cx="258.9" cy="197.5" r="0.95"/><circle cx="209.4" cy="252.0" r="0.95"/><circle cx="227.2" cy="176.4" r="0.95"/><circle cx="236.2" cy="183.8" r="0.95"/><circle cx="287.9" cy="172.1" r="0.95"/><circle cx="230.8" cy="197.8" r="0.95"/><circle cx="199.5" cy="175.8" r="0.95"/><circle cx="228.0" cy="210.2" r="0.95"/><circle cx="222.9" cy="186.8" r="0.95"/><circle cx="206.1" cy="204.3" r="0.95"/><circle cx="232.8" cy="239.6" r="0.95"/><circle cx="291.9" cy="194.4" r="0.95"/><circle cx="312.9" cy="232.3" r="0.95"/><circle cx="228.6" cy="225.6" r="0.95"/><circle cx="255.4" cy="200.9" r="0.95"/><circle cx="225.6" cy="175.1" r="0.95"/><circle cx="199.6" cy="199.9" r="0.95"/><circle cx="196.7" cy="186.6" r="0.95"/><circle cx="200.3" cy="184.4" r="0.95"/><circle cx="199.9" cy="160.4" r="0.95"/><circle cx="200.9" cy="211.2" r="0.95"/><circle cx="200.2" cy="180.0" r="0.95"/><circle cx="212.5" cy="175.5" r="0.95"/><circle cx="202.5" cy="211.6" r="0.95"/><circle cx="246.6" cy="189.1" r="0.95"/><circle cx="202.5" cy="239.8" r="0.95"/><circle cx="203.9" cy="187.8" r="0.95"/><circle cx="226.8" cy="189.5" r="0.95"/><circle cx="223.3" cy="201.1" r="0.95"/><circle cx="205.8" cy="236.4" r="0.95"/><circle cx="199.1" cy="247.5" r="0.95"/><circle cx="199.2" cy="199.8" r="0.95"/><circle cx="196.8" cy="198.9" r="0.95"/><circle cx="228.2" cy="170.1" r="0.95"/><circle cx="218.7" cy="160.1" r="0.95"/><circle cx="252.5" cy="173.6" r="0.95"/><circle cx="205.2" cy="217.4" r="0.95"/><circle cx="212.4" cy="175.9" r="0.95"/><circle cx="198.4" cy="162.2" r="0.95"/><circle cx="199.7" cy="200.7" r="0.95"/><circle cx="282.3" cy="164.1" r="0.95"/><circle cx="231.3" cy="195.4" r="0.95"/><circle cx="198.8" cy="215.6" r="0.95"/><circle cx="256.8" cy="171.9" r="0.95"/><circle cx="216.6" cy="170.4" r="0.95"/><circle cx="241.5" cy="181.8" r="0.95"/><circle cx="222.2" cy="185.3" r="0.95"/><circle cx="297.7" cy="224.1" r="0.95"/><circle cx="204.1" cy="204.4" r="0.95"/><circle cx="218.4" cy="200.7" r="0.95"/><circle cx="262.2" cy="187.1" r="0.95"/><circle cx="198.9" cy="200.8" r="0.95"/><circle cx="202.7" cy="243.4" r="0.95"/><circle cx="200.5" cy="240.3" r="0.95"/><circle cx="240.4" cy="241.0" r="0.95"/><circle cx="210.6" cy="200.2" r="0.95"/><circle cx="213.6" cy="209.9" r="0.95"/><circle cx="198.8" cy="207.9" r="0.95"/><circle cx="206.0" cy="222.6" r="0.95"/><circle cx="227.7" cy="251.7" r="0.95"/><circle cx="208.9" cy="197.2" r="0.95"/><circle cx="217.9" cy="209.6" r="0.95"/><circle cx="205.3" cy="191.4" r="0.95"/><circle cx="208.2" cy="243.1" r="0.95"/><circle cx="214.9" cy="242.4" r="0.95"/><circle cx="209.0" cy="196.4" r="0.95"/><circle cx="217.7" cy="208.2" r="0.95"/><circle cx="226.1" cy="201.9" r="0.95"/><circle cx="230.7" cy="232.0" r="0.95"/><circle cx="212.9" cy="177.5" r="0.95"/><circle cx="198.4" cy="192.5" r="0.95"/><circle cx="254.3" cy="242.3" r="0.95"/><circle cx="328.5" cy="231.1" r="0.95"/></g>
<polygon points="196.6,193.6 202.1,194.7 207.7,195.6 213.2,196.5 218.7,197.2 224.2,197.8 229.8,198.2 235.3,198.6 240.8,198.9 246.3,199.1 251.8,199.4 257.4,199.6 262.9,199.7 268.4,199.9 273.9,200.1 279.5,200.2 285.0,200.4 290.5,200.5 296.0,200.6 301.6,200.8 307.1,200.9 312.6,201.0 318.1,201.1 323.7,201.3 329.2,201.4 329.2,223.1 323.7,221.9 318.1,220.8 312.6,219.6 307.1,218.5 301.6,217.3 296.0,216.2 290.5,215.0 285.0,213.9 279.5,212.8 273.9,211.6 268.4,210.5 262.9,209.4 257.4,208.3 251.8,207.2 246.3,206.1 240.8,205.1 235.3,204.1 229.8,203.2 224.2,202.3 218.7,201.6 213.2,201.0 207.7,200.6 202.1,200.2 196.6,200.0" fill="#999" fill-opacity="0.42"/>
<line x1="196.6" y1="196.8" x2="329.2" y2="212.5" stroke="#0c0cf8" stroke-width="1.12"/>
<rect x="363.5" y="143.0" width="147.4" height="120.7" fill="#ebebeb"/>
<path d="M396.60 143.0V263.7M448.40 143.0V263.7M500.20 143.0V263.7M363.5 151.23H510.9M363.5 179.57H510.9M363.5 207.93H510.9M363.5 236.28H510.9" stroke="#fff" stroke-width="0.45" fill="none" opacity="0.9"/>
<path d="M370.70 143.0V263.7M422.50 143.0V263.7M474.30 143.0V263.7M363.5 165.40H510.9M363.5 193.75H510.9M363.5 222.10H510.9M363.5 250.45H510.9" stroke="#fff" stroke-width="0.8" fill="none"/>
<path d="M370.70 263.7v1.5M422.50 263.7v1.5M474.30 263.7v1.5M363.5 165.40h-1.5M363.5 193.75h-1.5M363.5 222.10h-1.5M363.5 250.45h-1.5" stroke="#333" stroke-width="0.55" fill="none"/>
<text x="370.70" y="268.7" class="tk" text-anchor="middle">0</text>
<text x="422.50" y="268.7" class="tk" text-anchor="middle">10</text>
<text x="474.30" y="268.7" class="tk" text-anchor="middle">20</text>
<text x="361.5" y="166.55" class="tk" text-anchor="end">50</text>
<text x="361.5" y="194.90" class="tk" text-anchor="end">40</text>
<text x="361.5" y="223.25" class="tk" text-anchor="end">30</text>
<text x="361.5" y="251.60" class="tk" text-anchor="end">20</text>
<g fill="#333" fill-opacity="0.68"><circle cx="377.9" cy="254.9" r="0.95"/><circle cx="389.5" cy="194.1" r="0.95"/><circle cx="447.9" cy="241.0" r="0.95"/><circle cx="390.6" cy="179.2" r="0.95"/><circle cx="373.7" cy="192.5" r="0.95"/><circle cx="375.1" cy="168.1" r="0.95"/><circle cx="372.5" cy="187.2" r="0.95"/><circle cx="406.8" cy="260.9" r="0.95"/><circle cx="373.6" cy="200.1" r="0.95"/><circle cx="376.8" cy="244.7" r="0.95"/><circle cx="378.1" cy="239.1" r="0.95"/><circle cx="386.6" cy="171.9" r="0.95"/><circle cx="392.9" cy="235.5" r="0.95"/><circle cx="408.4" cy="171.9" r="0.95"/><circle cx="389.3" cy="189.4" r="0.95"/><circle cx="386.2" cy="183.3" r="0.95"/><circle cx="413.0" cy="165.7" r="0.95"/><circle cx="388.3" cy="183.5" r="0.95"/><circle cx="411.8" cy="215.0" r="0.95"/><circle cx="371.5" cy="177.3" r="0.95"/><circle cx="390.0" cy="157.7" r="0.95"/><circle cx="380.2" cy="154.3" r="0.95"/><circle cx="397.0" cy="196.5" r="0.95"/><circle cx="373.5" cy="192.1" r="0.95"/><circle cx="409.8" cy="207.4" r="0.95"/><circle cx="383.0" cy="165.1" r="0.95"/><circle cx="381.0" cy="194.0" r="0.95"/><circle cx="411.2" cy="196.3" r="0.95"/><circle cx="400.8" cy="193.8" r="0.95"/><circle cx="412.8" cy="181.5" r="0.95"/><circle cx="487.2" cy="226.9" r="0.95"/><circle cx="385.4" cy="180.2" r="0.95"/><circle cx="402.1" cy="202.6" r="0.95"/><circle cx="380.7" cy="245.0" r="0.95"/><circle cx="417.1" cy="163.3" r="0.95"/><circle cx="398.3" cy="199.0" r="0.95"/><circle cx="373.0" cy="149.7" r="0.95"/><circle cx="378.6" cy="195.8" r="0.95"/><circle cx="384.6" cy="163.7" r="0.95"/><circle cx="439.2" cy="187.1" r="0.95"/><circle cx="381.2" cy="174.7" r="0.95"/><circle cx="379.9" cy="185.9" r="0.95"/><circle cx="462.9" cy="240.2" r="0.95"/><circle cx="387.3" cy="241.8" r="0.95"/><circle cx="408.0" cy="179.2" r="0.95"/><circle cx="382.0" cy="170.2" r="0.95"/><circle cx="377.8" cy="243.7" r="0.95"/><circle cx="397.3" cy="161.6" r="0.95"/><circle cx="398.4" cy="189.2" r="0.95"/><circle cx="381.4" cy="190.6" r="0.95"/><circle cx="470.0" cy="237.1" r="0.95"/><circle cx="371.6" cy="156.8" r="0.95"/><circle cx="371.1" cy="256.6" r="0.95"/><circle cx="377.6" cy="154.6" r="0.95"/><circle cx="377.2" cy="236.1" r="0.95"/><circle cx="375.0" cy="154.0" r="0.95"/><circle cx="372.0" cy="213.7" r="0.95"/><circle cx="373.8" cy="162.3" r="0.95"/><circle cx="392.8" cy="229.0" r="0.95"/><circle cx="430.9" cy="257.7" r="0.95"/><circle cx="396.8" cy="180.9" r="0.95"/><circle cx="374.9" cy="175.9" r="0.95"/><circle cx="378.4" cy="235.7" r="0.95"/><circle cx="378.1" cy="256.0" r="0.95"/><circle cx="371.2" cy="164.9" r="0.95"/><circle cx="383.1" cy="173.2" r="0.95"/><circle cx="375.1" cy="156.3" r="0.95"/><circle cx="395.6" cy="183.9" r="0.95"/><circle cx="402.8" cy="206.5" r="0.95"/><circle cx="374.9" cy="195.1" r="0.95"/><circle cx="410.2" cy="173.7" r="0.95"/><circle cx="400.7" cy="232.6" r="0.95"/><circle cx="371.4" cy="209.1" r="0.95"/><circle cx="381.0" cy="257.5" r="0.95"/><circle cx="388.2" cy="173.4" r="0.95"/><circle cx="377.1" cy="148.7" r="0.95"/><circle cx="391.2" cy="155.6" r="0.95"/><circle cx="380.4" cy="245.1" r="0.95"/><circle cx="381.0" cy="192.4" r="0.95"/><circle cx="436.6" cy="239.8" r="0.95"/><circle cx="380.7" cy="188.2" r="0.95"/><circle cx="397.6" cy="239.8" r="0.95"/><circle cx="374.9" cy="226.5" r="0.95"/><circle cx="404.4" cy="169.9" r="0.95"/><circle cx="427.2" cy="185.9" r="0.95"/><circle cx="400.2" cy="167.5" r="0.95"/><circle cx="401.4" cy="163.6" r="0.95"/><circle cx="411.8" cy="172.0" r="0.95"/><circle cx="418.9" cy="196.7" r="0.95"/><circle cx="396.8" cy="181.0" r="0.95"/><circle cx="373.2" cy="243.6" r="0.95"/><circle cx="377.8" cy="237.2" r="0.95"/><circle cx="373.1" cy="243.5" r="0.95"/><circle cx="438.7" cy="244.9" r="0.95"/><circle cx="376.5" cy="172.9" r="0.95"/><circle cx="379.7" cy="178.5" r="0.95"/><circle cx="401.2" cy="231.2" r="0.95"/><circle cx="408.7" cy="170.8" r="0.95"/><circle cx="382.1" cy="167.5" r="0.95"/><circle cx="377.8" cy="209.1" r="0.95"/><circle cx="376.4" cy="177.7" r="0.95"/><circle cx="373.8" cy="166.5" r="0.95"/><circle cx="416.2" cy="156.2" r="0.95"/><circle cx="396.6" cy="185.0" r="0.95"/><circle cx="373.9" cy="193.3" r="0.95"/><circle cx="372.2" cy="198.1" r="0.95"/><circle cx="397.7" cy="234.0" r="0.95"/><circle cx="481.4" cy="232.9" r="0.95"/><circle cx="372.7" cy="221.7" r="0.95"/><circle cx="376.5" cy="239.9" r="0.95"/><circle cx="392.5" cy="214.5" r="0.95"/><circle cx="374.6" cy="167.9" r="0.95"/><circle cx="411.0" cy="246.4" r="0.95"/><circle cx="380.3" cy="182.0" r="0.95"/><circle cx="420.0" cy="194.5" r="0.95"/><circle cx="372.2" cy="230.2" r="0.95"/><circle cx="392.9" cy="218.0" r="0.95"/><circle cx="454.2" cy="221.8" r="0.95"/><circle cx="463.4" cy="246.8" r="0.95"/><circle cx="376.2" cy="170.7" r="0.95"/><circle cx="384.7" cy="165.9" r="0.95"/><circle cx="374.7" cy="251.5" r="0.95"/><circle cx="396.8" cy="256.8" r="0.95"/><circle cx="409.4" cy="238.3" r="0.95"/><circle cx="373.6" cy="210.3" r="0.95"/><circle cx="376.8" cy="181.3" r="0.95"/><circle cx="398.9" cy="181.7" r="0.95"/><circle cx="375.2" cy="251.5" r="0.95"/><circle cx="379.2" cy="226.3" r="0.95"/><circle cx="371.2" cy="193.9" r="0.95"/><circle cx="401.2" cy="161.3" r="0.95"/><circle cx="371.6" cy="176.2" r="0.95"/><circle cx="420.6" cy="157.2" r="0.95"/><circle cx="402.0" cy="151.9" r="0.95"/><circle cx="375.4" cy="241.8" r="0.95"/><circle cx="371.2" cy="204.6" r="0.95"/><circle cx="391.9" cy="175.8" r="0.95"/><circle cx="378.3" cy="226.3" r="0.95"/><circle cx="378.3" cy="183.4" r="0.95"/><circle cx="470.2" cy="194.3" r="0.95"/><circle cx="380.1" cy="170.9" r="0.95"/><circle cx="420.3" cy="177.5" r="0.95"/><circle cx="487.2" cy="229.0" r="0.95"/><circle cx="384.5" cy="240.1" r="0.95"/><circle cx="408.5" cy="172.6" r="0.95"/><circle cx="386.9" cy="169.5" r="0.95"/><circle cx="411.0" cy="195.0" r="0.95"/><circle cx="410.6" cy="224.9" r="0.95"/><circle cx="374.1" cy="235.2" r="0.95"/><circle cx="375.6" cy="226.0" r="0.95"/><circle cx="410.6" cy="190.2" r="0.95"/><circle cx="371.1" cy="150.9" r="0.95"/><circle cx="394.4" cy="261.7" r="0.95"/><circle cx="379.9" cy="200.7" r="0.95"/><circle cx="419.6" cy="171.9" r="0.95"/><circle cx="419.0" cy="195.9" r="0.95"/><circle cx="372.6" cy="165.1" r="0.95"/><circle cx="398.2" cy="196.0" r="0.95"/><circle cx="398.9" cy="173.5" r="0.95"/><circle cx="385.5" cy="233.8" r="0.95"/><circle cx="375.6" cy="239.2" r="0.95"/><circle cx="373.6" cy="211.8" r="0.95"/><circle cx="415.0" cy="241.4" r="0.95"/><circle cx="399.9" cy="179.0" r="0.95"/><circle cx="380.4" cy="181.3" r="0.95"/><circle cx="417.1" cy="174.2" r="0.95"/><circle cx="373.7" cy="187.5" r="0.95"/><circle cx="418.1" cy="211.7" r="0.95"/><circle cx="385.9" cy="175.9" r="0.95"/><circle cx="402.2" cy="230.3" r="0.95"/><circle cx="385.4" cy="188.1" r="0.95"/><circle cx="445.5" cy="186.2" r="0.95"/><circle cx="403.5" cy="245.1" r="0.95"/><circle cx="465.4" cy="245.3" r="0.95"/><circle cx="373.2" cy="177.7" r="0.95"/><circle cx="377.8" cy="233.8" r="0.95"/><circle cx="377.8" cy="254.7" r="0.95"/><circle cx="372.4" cy="213.4" r="0.95"/><circle cx="375.1" cy="217.3" r="0.95"/><circle cx="380.1" cy="235.5" r="0.95"/><circle cx="377.2" cy="225.4" r="0.95"/><circle cx="379.3" cy="250.1" r="0.95"/><circle cx="378.1" cy="256.1" r="0.95"/><circle cx="377.0" cy="162.5" r="0.95"/><circle cx="372.9" cy="241.9" r="0.95"/><circle cx="388.0" cy="197.7" r="0.95"/><circle cx="411.2" cy="168.4" r="0.95"/><circle cx="397.8" cy="178.8" r="0.95"/><circle cx="408.4" cy="173.4" r="0.95"/><circle cx="391.0" cy="176.6" r="0.95"/><circle cx="397.2" cy="197.3" r="0.95"/><circle cx="388.4" cy="181.5" r="0.95"/><circle cx="394.6" cy="193.8" r="0.95"/><circle cx="378.4" cy="174.4" r="0.95"/><circle cx="373.3" cy="170.2" r="0.95"/><circle cx="371.3" cy="187.8" r="0.95"/><circle cx="371.9" cy="224.5" r="0.95"/><circle cx="376.6" cy="168.3" r="0.95"/><circle cx="374.1" cy="242.4" r="0.95"/><circle cx="379.6" cy="179.6" r="0.95"/><circle cx="375.7" cy="247.2" r="0.95"/><circle cx="376.1" cy="247.3" r="0.95"/><circle cx="417.6" cy="180.5" r="0.95"/><circle cx="372.0" cy="253.9" r="0.95"/><circle cx="385.5" cy="254.0" r="0.95"/><circle cx="390.3" cy="234.0" r="0.95"/><circle cx="423.5" cy="169.7" r="0.95"/><circle cx="386.5" cy="190.8" r="0.95"/><circle cx="390.9" cy="162.5" r="0.95"/><circle cx="436.1" cy="231.0" r="0.95"/><circle cx="378.4" cy="208.2" r="0.95"/><circle cx="399.3" cy="239.3" r="0.95"/><circle cx="398.3" cy="190.8" r="0.95"/><circle cx="371.5" cy="181.0" r="0.95"/><circle cx="380.3" cy="171.9" r="0.95"/><circle cx="377.9" cy="226.6" r="0.95"/><circle cx="377.4" cy="193.5" r="0.95"/><circle cx="380.5" cy="253.4" r="0.95"/><circle cx="413.8" cy="151.0" r="0.95"/><circle cx="397.3" cy="168.9" r="0.95"/><circle cx="385.0" cy="168.8" r="0.95"/><circle cx="382.9" cy="166.5" r="0.95"/><circle cx="385.5" cy="158.1" r="0.95"/><circle cx="380.0" cy="173.4" r="0.95"/><circle cx="377.5" cy="183.8" r="0.95"/><circle cx="377.2" cy="181.0" r="0.95"/><circle cx="406.3" cy="207.3" r="0.95"/><circle cx="382.1" cy="177.9" r="0.95"/><circle cx="433.2" cy="251.7" r="0.95"/><circle cx="383.7" cy="177.7" r="0.95"/><circle cx="401.5" cy="176.8" r="0.95"/><circle cx="410.5" cy="205.1" r="0.95"/><circle cx="462.2" cy="168.0" r="0.95"/><circle cx="405.1" cy="236.8" r="0.95"/><circle cx="373.8" cy="172.2" r="0.95"/><circle cx="402.3" cy="182.1" r="0.95"/><circle cx="397.2" cy="164.1" r="0.95"/><circle cx="380.4" cy="192.0" r="0.95"/><circle cx="407.1" cy="176.1" r="0.95"/><circle cx="466.2" cy="165.4" r="0.95"/><circle cx="487.2" cy="229.4" r="0.95"/><circle cx="402.9" cy="152.7" r="0.95"/><circle cx="429.7" cy="177.5" r="0.95"/><circle cx="399.9" cy="245.3" r="0.95"/><circle cx="373.9" cy="251.8" r="0.95"/><circle cx="371.0" cy="198.4" r="0.95"/><circle cx="374.6" cy="183.6" r="0.95"/><circle cx="374.2" cy="254.1" r="0.95"/><circle cx="375.2" cy="177.0" r="0.95"/><circle cx="374.5" cy="169.2" r="0.95"/><circle cx="386.8" cy="250.0" r="0.95"/><circle cx="376.8" cy="245.2" r="0.95"/><circle cx="420.9" cy="175.4" r="0.95"/><circle cx="376.8" cy="155.9" r="0.95"/><circle cx="378.2" cy="178.7" r="0.95"/><circle cx="401.1" cy="176.7" r="0.95"/><circle cx="397.6" cy="161.8" r="0.95"/><circle cx="380.1" cy="233.1" r="0.95"/><circle cx="373.4" cy="241.7" r="0.95"/><circle cx="373.5" cy="205.5" r="0.95"/><circle cx="371.1" cy="213.7" r="0.95"/><circle cx="402.5" cy="236.4" r="0.95"/><circle cx="393.0" cy="186.3" r="0.95"/><circle cx="426.8" cy="177.4" r="0.95"/><circle cx="379.5" cy="154.9" r="0.95"/><circle cx="386.7" cy="182.3" r="0.95"/><circle cx="372.7" cy="239.6" r="0.95"/><circle cx="374.0" cy="194.0" r="0.95"/><circle cx="456.6" cy="176.7" r="0.95"/><circle cx="405.6" cy="194.9" r="0.95"/><circle cx="373.1" cy="161.5" r="0.95"/><circle cx="431.1" cy="177.4" r="0.95"/><circle cx="390.9" cy="249.1" r="0.95"/><circle cx="415.8" cy="147.8" r="0.95"/><circle cx="396.5" cy="206.6" r="0.95"/><circle cx="472.0" cy="186.2" r="0.95"/><circle cx="378.4" cy="166.7" r="0.95"/><circle cx="392.7" cy="191.9" r="0.95"/><circle cx="436.5" cy="191.4" r="0.95"/><circle cx="373.2" cy="177.5" r="0.95"/><circle cx="377.0" cy="204.0" r="0.95"/><circle cx="374.8" cy="204.2" r="0.95"/><circle cx="414.7" cy="188.8" r="0.95"/><circle cx="384.9" cy="195.3" r="0.95"/><circle cx="387.9" cy="207.8" r="0.95"/><circle cx="373.1" cy="181.1" r="0.95"/><circle cx="380.3" cy="170.6" r="0.95"/><circle cx="402.0" cy="160.8" r="0.95"/><circle cx="383.2" cy="183.0" r="0.95"/><circle cx="392.2" cy="252.2" r="0.95"/><circle cx="379.6" cy="200.1" r="0.95"/><circle cx="382.5" cy="241.1" r="0.95"/><circle cx="389.2" cy="161.9" r="0.95"/><circle cx="383.3" cy="228.3" r="0.95"/><circle cx="392.0" cy="196.3" r="0.95"/><circle cx="400.4" cy="151.0" r="0.95"/><circle cx="405.0" cy="197.9" r="0.95"/><circle cx="387.2" cy="165.6" r="0.95"/><circle cx="372.7" cy="203.0" r="0.95"/><circle cx="428.6" cy="245.3" r="0.95"/><circle cx="502.8" cy="234.8" r="0.95"/></g>
<polygon points="370.9,190.3 376.5,191.8 382.0,193.3 387.6,194.6 393.1,195.7 398.7,196.7 404.2,197.5 409.8,198.2 415.3,198.8 420.9,199.3 426.4,199.9 432.0,200.4 437.5,200.8 443.1,201.3 448.7,201.8 454.2,202.2 459.8,202.7 465.3,203.1 470.9,203.5 476.4,204.0 482.0,204.4 487.5,204.8 493.1,205.3 498.6,205.7 504.2,206.1 504.2,233.1 498.6,231.4 493.1,229.7 487.5,228.0 482.0,226.3 476.4,224.5 470.9,222.8 465.3,221.1 459.8,219.4 454.2,217.7 448.7,216.1 443.1,214.4 437.5,212.7 432.0,211.1 426.4,209.4 420.9,207.8 415.3,206.2 409.8,204.7 404.2,203.3 398.7,201.9 393.1,200.7 387.6,199.7 382.0,198.8 376.5,198.1 370.9,197.5" fill="#999" fill-opacity="0.42"/>
<line x1="370.9" y1="193.9" x2="504.2" y2="219.8" stroke="#0c0cf8" stroke-width="1.12"/>
<rect x="537.4" y="143.0" width="147.6" height="120.7" fill="#ebebeb"/>
<path d="M570.35 143.0V263.7M622.45 143.0V263.7M674.55 143.0V263.7M537.4 179.75H685.0M537.4 217.25H685.0M537.4 254.75H685.0" stroke="#fff" stroke-width="0.45" fill="none" opacity="0.9"/>
<path d="M544.30 143.0V263.7M596.40 143.0V263.7M648.50 143.0V263.7M537.4 161.00H685.0M537.4 198.50H685.0M537.4 236.00H685.0" stroke="#fff" stroke-width="0.8" fill="none"/>
<path d="M544.30 263.7v1.5M596.40 263.7v1.5M648.50 263.7v1.5M537.4 161.00h-1.5M537.4 198.50h-1.5M537.4 236.00h-1.5" stroke="#333" stroke-width="0.55" fill="none"/>
<text x="544.30" y="268.7" class="tk" text-anchor="middle">0</text>
<text x="596.40" y="268.7" class="tk" text-anchor="middle">10</text>
<text x="648.50" y="268.7" class="tk" text-anchor="middle">20</text>
<text x="535.4" y="162.15" class="tk" text-anchor="end">60</text>
<text x="535.4" y="199.65" class="tk" text-anchor="end">50</text>
<text x="535.4" y="237.15" class="tk" text-anchor="end">40</text>
<g fill="#333" fill-opacity="0.68"><circle cx="551.6" cy="160.3" r="0.95"/><circle cx="563.2" cy="159.2" r="0.95"/><circle cx="621.9" cy="166.5" r="0.95"/><circle cx="564.3" cy="182.7" r="0.95"/><circle cx="547.3" cy="176.2" r="0.95"/><circle cx="548.7" cy="167.3" r="0.95"/><circle cx="546.1" cy="167.8" r="0.95"/><circle cx="580.6" cy="170.9" r="0.95"/><circle cx="547.2" cy="168.1" r="0.95"/><circle cx="550.4" cy="153.1" r="0.95"/><circle cx="551.7" cy="172.1" r="0.95"/><circle cx="560.3" cy="167.8" r="0.95"/><circle cx="566.6" cy="151.5" r="0.95"/><circle cx="582.2" cy="186.2" r="0.95"/><circle cx="563.0" cy="166.7" r="0.95"/><circle cx="559.9" cy="168.7" r="0.95"/><circle cx="586.8" cy="163.3" r="0.95"/><circle cx="562.0" cy="175.7" r="0.95"/><circle cx="585.6" cy="187.3" r="0.95"/><circle cx="545.1" cy="187.7" r="0.95"/><circle cx="563.7" cy="177.2" r="0.95"/><circle cx="553.9" cy="178.0" r="0.95"/><circle cx="570.7" cy="178.5" r="0.95"/><circle cx="547.1" cy="195.9" r="0.95"/><circle cx="583.7" cy="185.0" r="0.95"/><circle cx="556.7" cy="171.4" r="0.95"/><circle cx="554.6" cy="180.8" r="0.95"/><circle cx="585.0" cy="167.6" r="0.95"/><circle cx="574.6" cy="177.6" r="0.95"/><circle cx="586.7" cy="174.1" r="0.95"/><circle cx="661.5" cy="166.0" r="0.95"/><circle cx="559.1" cy="199.8" r="0.95"/><circle cx="575.9" cy="172.4" r="0.95"/><circle cx="554.4" cy="170.6" r="0.95"/><circle cx="591.0" cy="178.6" r="0.95"/><circle cx="572.0" cy="198.3" r="0.95"/><circle cx="546.6" cy="159.2" r="0.95"/><circle cx="552.2" cy="173.7" r="0.95"/><circle cx="558.3" cy="162.4" r="0.95"/><circle cx="613.2" cy="182.3" r="0.95"/><circle cx="554.9" cy="182.7" r="0.95"/><circle cx="553.6" cy="173.3" r="0.95"/><circle cx="637.0" cy="182.1" r="0.95"/><circle cx="561.0" cy="186.9" r="0.95"/><circle cx="581.9" cy="183.4" r="0.95"/><circle cx="555.6" cy="154.6" r="0.95"/><circle cx="551.5" cy="171.4" r="0.95"/><circle cx="571.1" cy="169.2" r="0.95"/><circle cx="572.2" cy="196.9" r="0.95"/><circle cx="555.0" cy="169.7" r="0.95"/><circle cx="644.1" cy="161.5" r="0.95"/><circle cx="545.2" cy="163.8" r="0.95"/><circle cx="544.7" cy="159.5" r="0.95"/><circle cx="551.3" cy="193.3" r="0.95"/><circle cx="550.8" cy="191.0" r="0.95"/><circle cx="548.6" cy="169.1" r="0.95"/><circle cx="545.6" cy="168.2" r="0.95"/><circle cx="547.4" cy="151.0" r="0.95"/><circle cx="566.5" cy="163.3" r="0.95"/><circle cx="604.8" cy="178.8" r="0.95"/><circle cx="570.6" cy="179.9" r="0.95"/><circle cx="548.5" cy="175.8" r="0.95"/><circle cx="552.0" cy="187.5" r="0.95"/><circle cx="551.7" cy="191.4" r="0.95"/><circle cx="544.8" cy="163.1" r="0.95"/><circle cx="556.8" cy="176.4" r="0.95"/><circle cx="548.8" cy="188.2" r="0.95"/><circle cx="569.4" cy="177.9" r="0.95"/><circle cx="576.5" cy="163.8" r="0.95"/><circle cx="548.5" cy="180.6" r="0.95"/><circle cx="584.1" cy="170.1" r="0.95"/><circle cx="574.5" cy="167.9" r="0.95"/><circle cx="545.0" cy="161.7" r="0.95"/><circle cx="554.6" cy="159.7" r="0.95"/><circle cx="561.9" cy="177.6" r="0.95"/><circle cx="550.8" cy="177.2" r="0.95"/><circle cx="564.9" cy="173.2" r="0.95"/><circle cx="554.0" cy="166.0" r="0.95"/><circle cx="554.7" cy="179.8" r="0.95"/><circle cx="610.6" cy="180.0" r="0.95"/><circle cx="554.4" cy="157.1" r="0.95"/><circle cx="571.3" cy="170.7" r="0.95"/><circle cx="548.5" cy="178.7" r="0.95"/><circle cx="578.2" cy="167.6" r="0.95"/><circle cx="601.2" cy="171.4" r="0.95"/><circle cx="573.9" cy="160.9" r="0.95"/><circle cx="575.1" cy="175.3" r="0.95"/><circle cx="585.6" cy="161.4" r="0.95"/><circle cx="592.7" cy="164.8" r="0.95"/><circle cx="570.6" cy="180.4" r="0.95"/><circle cx="546.8" cy="174.9" r="0.95"/><circle cx="551.4" cy="164.6" r="0.95"/><circle cx="546.7" cy="170.3" r="0.95"/><circle cx="612.7" cy="162.8" r="0.95"/><circle cx="550.2" cy="177.3" r="0.95"/><circle cx="553.4" cy="163.6" r="0.95"/><circle cx="575.0" cy="175.5" r="0.95"/><circle cx="582.5" cy="177.3" r="0.95"/><circle cx="555.7" cy="170.1" r="0.95"/><circle cx="551.4" cy="180.3" r="0.95"/><circle cx="550.0" cy="179.1" r="0.95"/><circle cx="547.4" cy="159.4" r="0.95"/><circle cx="590.0" cy="179.9" r="0.95"/><circle cx="570.4" cy="158.9" r="0.95"/><circle cx="547.5" cy="172.7" r="0.95"/><circle cx="545.8" cy="191.7" r="0.95"/><circle cx="571.4" cy="172.0" r="0.95"/><circle cx="655.7" cy="179.4" r="0.95"/><circle cx="546.3" cy="178.3" r="0.95"/><circle cx="550.2" cy="191.2" r="0.95"/><circle cx="566.2" cy="172.7" r="0.95"/><circle cx="548.2" cy="154.4" r="0.95"/><circle cx="584.8" cy="162.8" r="0.95"/><circle cx="554.0" cy="176.7" r="0.95"/><circle cx="593.9" cy="182.2" r="0.95"/><circle cx="545.8" cy="164.4" r="0.95"/><circle cx="566.6" cy="169.5" r="0.95"/><circle cx="628.3" cy="186.2" r="0.95"/><circle cx="637.6" cy="186.7" r="0.95"/><circle cx="549.8" cy="163.4" r="0.95"/><circle cx="558.3" cy="164.3" r="0.95"/><circle cx="548.3" cy="181.7" r="0.95"/><circle cx="570.6" cy="177.1" r="0.95"/><circle cx="583.2" cy="191.3" r="0.95"/><circle cx="547.2" cy="175.2" r="0.95"/><circle cx="550.5" cy="175.6" r="0.95"/><circle cx="572.7" cy="180.5" r="0.95"/><circle cx="548.9" cy="158.6" r="0.95"/><circle cx="552.9" cy="166.8" r="0.95"/><circle cx="544.8" cy="160.0" r="0.95"/><circle cx="575.0" cy="176.1" r="0.95"/><circle cx="545.2" cy="166.1" r="0.95"/><circle cx="594.5" cy="182.1" r="0.95"/><circle cx="575.8" cy="165.7" r="0.95"/><circle cx="549.1" cy="160.4" r="0.95"/><circle cx="544.8" cy="178.8" r="0.95"/><circle cx="565.6" cy="152.2" r="0.95"/><circle cx="552.0" cy="175.0" r="0.95"/><circle cx="552.0" cy="178.6" r="0.95"/><circle cx="644.4" cy="182.6" r="0.95"/><circle cx="553.7" cy="155.8" r="0.95"/><circle cx="594.2" cy="167.1" r="0.95"/><circle cx="661.5" cy="162.8" r="0.95"/><circle cx="558.2" cy="157.0" r="0.95"/><circle cx="582.3" cy="178.8" r="0.95"/><circle cx="560.6" cy="168.9" r="0.95"/><circle cx="584.8" cy="179.7" r="0.95"/><circle cx="584.4" cy="161.8" r="0.95"/><circle cx="547.7" cy="171.3" r="0.95"/><circle cx="549.2" cy="182.3" r="0.95"/><circle cx="584.4" cy="183.0" r="0.95"/><circle cx="544.7" cy="148.5" r="0.95"/><circle cx="568.2" cy="179.1" r="0.95"/><circle cx="553.5" cy="186.1" r="0.95"/><circle cx="593.5" cy="175.1" r="0.95"/><circle cx="592.9" cy="171.6" r="0.95"/><circle cx="546.2" cy="172.3" r="0.95"/><circle cx="572.0" cy="190.3" r="0.95"/><circle cx="572.7" cy="171.0" r="0.95"/><circle cx="559.2" cy="170.1" r="0.95"/><circle cx="549.2" cy="149.1" r="0.95"/><circle cx="547.2" cy="176.5" r="0.95"/><circle cx="588.8" cy="167.8" r="0.95"/><circle cx="573.7" cy="174.6" r="0.95"/><circle cx="554.1" cy="165.7" r="0.95"/><circle cx="591.0" cy="183.6" r="0.95"/><circle cx="547.3" cy="166.4" r="0.95"/><circle cx="592.0" cy="185.3" r="0.95"/><circle cx="559.6" cy="196.0" r="0.95"/><circle cx="576.0" cy="154.9" r="0.95"/><circle cx="559.0" cy="185.3" r="0.95"/><circle cx="619.6" cy="149.3" r="0.95"/><circle cx="577.3" cy="173.9" r="0.95"/><circle cx="639.5" cy="180.9" r="0.95"/><circle cx="546.8" cy="148.8" r="0.95"/><circle cx="551.4" cy="187.0" r="0.95"/><circle cx="551.4" cy="164.4" r="0.95"/><circle cx="546.0" cy="164.9" r="0.95"/><circle cx="548.7" cy="183.7" r="0.95"/><circle cx="553.8" cy="174.3" r="0.95"/><circle cx="550.8" cy="177.1" r="0.95"/><circle cx="553.0" cy="201.2" r="0.95"/><circle cx="551.7" cy="159.6" r="0.95"/><circle cx="550.7" cy="189.5" r="0.95"/><circle cx="546.5" cy="189.3" r="0.95"/><circle cx="561.7" cy="166.2" r="0.95"/><circle cx="585.0" cy="168.4" r="0.95"/><circle cx="571.6" cy="182.9" r="0.95"/><circle cx="582.2" cy="174.5" r="0.95"/><circle cx="564.7" cy="187.3" r="0.95"/><circle cx="571.0" cy="165.9" r="0.95"/><circle cx="562.1" cy="181.0" r="0.95"/><circle cx="568.3" cy="187.1" r="0.95"/><circle cx="552.1" cy="178.5" r="0.95"/><circle cx="546.9" cy="166.7" r="0.95"/><circle cx="544.9" cy="164.2" r="0.95"/><circle cx="545.5" cy="176.3" r="0.95"/><circle cx="550.3" cy="191.1" r="0.95"/><circle cx="547.7" cy="155.7" r="0.95"/><circle cx="553.3" cy="182.6" r="0.95"/><circle cx="549.3" cy="165.0" r="0.95"/><circle cx="549.7" cy="165.4" r="0.95"/><circle cx="591.5" cy="176.9" r="0.95"/><circle cx="545.6" cy="174.2" r="0.95"/><circle cx="559.2" cy="159.3" r="0.95"/><circle cx="564.0" cy="180.6" r="0.95"/><circle cx="597.4" cy="181.7" r="0.95"/><circle cx="560.2" cy="160.1" r="0.95"/><circle cx="564.6" cy="185.4" r="0.95"/><circle cx="610.1" cy="191.8" r="0.95"/><circle cx="552.0" cy="163.3" r="0.95"/><circle cx="573.0" cy="184.7" r="0.95"/><circle cx="572.1" cy="189.9" r="0.95"/><circle cx="545.1" cy="176.5" r="0.95"/><circle cx="554.0" cy="174.5" r="0.95"/><circle cx="551.6" cy="172.0" r="0.95"/><circle cx="551.1" cy="176.0" r="0.95"/><circle cx="554.2" cy="193.5" r="0.95"/><circle cx="587.7" cy="165.6" r="0.95"/><circle cx="571.1" cy="169.3" r="0.95"/><circle cx="558.6" cy="174.2" r="0.95"/><circle cx="556.6" cy="169.2" r="0.95"/><circle cx="559.2" cy="178.7" r="0.95"/><circle cx="553.6" cy="186.0" r="0.95"/><circle cx="551.1" cy="182.6" r="0.95"/><circle cx="550.9" cy="157.5" r="0.95"/><circle cx="580.1" cy="171.9" r="0.95"/><circle cx="555.8" cy="183.7" r="0.95"/><circle cx="607.1" cy="183.3" r="0.95"/><circle cx="557.4" cy="178.4" r="0.95"/><circle cx="575.3" cy="175.4" r="0.95"/><circle cx="584.3" cy="165.8" r="0.95"/><circle cx="636.4" cy="177.0" r="0.95"/><circle cx="578.9" cy="167.8" r="0.95"/><circle cx="547.4" cy="150.3" r="0.95"/><circle cx="576.1" cy="170.4" r="0.95"/><circle cx="570.9" cy="184.3" r="0.95"/><circle cx="554.0" cy="174.7" r="0.95"/><circle cx="580.9" cy="201.7" r="0.95"/><circle cx="640.4" cy="174.9" r="0.95"/><circle cx="661.5" cy="158.2" r="0.95"/><circle cx="576.7" cy="175.7" r="0.95"/><circle cx="603.6" cy="172.6" r="0.95"/><circle cx="573.6" cy="165.7" r="0.95"/><circle cx="547.5" cy="176.4" r="0.95"/><circle cx="544.6" cy="170.4" r="0.95"/><circle cx="548.2" cy="177.0" r="0.95"/><circle cx="547.9" cy="163.0" r="0.95"/><circle cx="548.8" cy="162.0" r="0.95"/><circle cx="548.1" cy="164.5" r="0.95"/><circle cx="560.5" cy="157.4" r="0.95"/><circle cx="550.4" cy="200.7" r="0.95"/><circle cx="594.8" cy="161.4" r="0.95"/><circle cx="550.4" cy="190.0" r="0.95"/><circle cx="551.8" cy="167.0" r="0.95"/><circle cx="574.9" cy="179.4" r="0.95"/><circle cx="571.4" cy="165.1" r="0.95"/><circle cx="553.7" cy="184.2" r="0.95"/><circle cx="547.1" cy="177.4" r="0.95"/><circle cx="547.1" cy="183.9" r="0.95"/><circle cx="544.7" cy="180.0" r="0.95"/><circle cx="576.3" cy="181.3" r="0.95"/><circle cx="566.7" cy="176.5" r="0.95"/><circle cx="600.7" cy="179.1" r="0.95"/><circle cx="553.1" cy="165.2" r="0.95"/><circle cx="560.4" cy="169.7" r="0.95"/><circle cx="546.3" cy="162.0" r="0.95"/><circle cx="547.6" cy="176.5" r="0.95"/><circle cx="630.7" cy="184.5" r="0.95"/><circle cx="579.4" cy="193.6" r="0.95"/><circle cx="546.7" cy="164.8" r="0.95"/><circle cx="605.0" cy="187.4" r="0.95"/><circle cx="564.6" cy="167.1" r="0.95"/><circle cx="589.7" cy="159.9" r="0.95"/><circle cx="570.3" cy="179.9" r="0.95"/><circle cx="646.2" cy="171.0" r="0.95"/><circle cx="552.1" cy="164.5" r="0.95"/><circle cx="566.5" cy="159.2" r="0.95"/><circle cx="610.4" cy="174.8" r="0.95"/><circle cx="546.8" cy="165.3" r="0.95"/><circle cx="550.6" cy="183.2" r="0.95"/><circle cx="548.5" cy="169.2" r="0.95"/><circle cx="588.5" cy="183.0" r="0.95"/><circle cx="558.6" cy="176.5" r="0.95"/><circle cx="561.6" cy="166.9" r="0.95"/><circle cx="546.7" cy="159.3" r="0.95"/><circle cx="554.0" cy="154.1" r="0.95"/><circle cx="575.8" cy="163.9" r="0.95"/><circle cx="556.9" cy="169.3" r="0.95"/><circle cx="565.9" cy="176.5" r="0.95"/><circle cx="553.3" cy="192.1" r="0.95"/><circle cx="556.1" cy="189.4" r="0.95"/><circle cx="562.9" cy="166.2" r="0.95"/><circle cx="557.0" cy="146.9" r="0.95"/><circle cx="565.7" cy="177.3" r="0.95"/><circle cx="574.2" cy="171.9" r="0.95"/><circle cx="578.8" cy="165.6" r="0.95"/><circle cx="560.9" cy="171.8" r="0.95"/><circle cx="546.3" cy="179.2" r="0.95"/><circle cx="602.6" cy="158.4" r="0.95"/><circle cx="677.2" cy="168.8" r="0.95"/><circle cx="553.6" cy="217.9" r="0.95"/><circle cx="583.9" cy="227.1" r="0.95"/><circle cx="584.2" cy="227.4" r="0.95"/><circle cx="562.5" cy="243.2" r="0.95"/><circle cx="561.8" cy="258.2" r="0.95"/><circle cx="606.4" cy="212.9" r="0.95"/><circle cx="647.5" cy="203.9" r="0.95"/><circle cx="544.6" cy="211.1" r="0.95"/><circle cx="557.1" cy="209.3" r="0.95"/><circle cx="576.8" cy="205.4" r="0.95"/><circle cx="602.5" cy="201.8" r="0.95"/><circle cx="666.1" cy="157.5" r="0.95"/><circle cx="602.5" cy="148.6" r="0.95"/></g>
<polygon points="544.5,177.3 550.1,177.4 555.6,177.4 561.2,177.3 566.8,177.1 572.3,176.8 577.9,176.5 583.4,176.1 589.0,175.7 594.6,175.3 600.1,174.9 605.7,174.4 611.2,173.9 616.8,173.5 622.4,173.0 627.9,172.5 633.5,172.0 639.1,171.5 644.6,171.1 650.2,170.6 655.8,170.1 661.3,169.6 666.9,169.1 672.4,168.6 678.0,168.1 678.0,180.7 672.4,180.6 666.9,180.5 661.3,180.4 655.8,180.4 650.2,180.3 644.6,180.2 639.1,180.1 633.5,180.0 627.9,180.0 622.4,179.9 616.8,179.8 611.2,179.8 605.7,179.7 600.1,179.7 594.6,179.6 589.0,179.6 583.4,179.6 577.9,179.7 572.3,179.7 566.8,179.9 561.2,180.1 555.6,180.4 550.1,180.8 544.5,181.3" fill="#999" fill-opacity="0.42"/>
<line x1="544.5" y1="179.3" x2="678.0" y2="174.4" stroke="#0c0cf8" stroke-width="1.12"/>
<rect x="13.0" y="288.0" width="147.8" height="120.7" fill="#ebebeb"/>
<path d="M48.35 288.0V408.7M88.45 288.0V408.7M128.55 288.0V408.7M13.0 297.76H160.8M13.0 321.03H160.8M13.0 344.30H160.8M13.0 367.57H160.8M13.0 390.84H160.8" stroke="#fff" stroke-width="0.45" fill="none" opacity="0.9"/>
<path d="M28.30 288.0V408.7M68.40 288.0V408.7M108.50 288.0V408.7M148.60 288.0V408.7M13.0 309.40H160.8M13.0 332.67H160.8M13.0 355.94H160.8M13.0 379.21H160.8M13.0 402.48H160.8" stroke="#fff" stroke-width="0.8" fill="none"/>
<path d="M28.30 408.7v1.5M68.40 408.7v1.5M108.50 408.7v1.5M148.60 408.7v1.5M13.0 309.40h-1.5M13.0 332.67h-1.5M13.0 355.94h-1.5M13.0 379.21h-1.5M13.0 402.48h-1.5" stroke="#333" stroke-width="0.55" fill="none"/>
<text x="28.30" y="413.7" class="tk" text-anchor="middle">0</text>
<text x="68.40" y="413.7" class="tk" text-anchor="middle">1</text>
<text x="108.50" y="413.7" class="tk" text-anchor="middle">2</text>
<text x="148.60" y="413.7" class="tk" text-anchor="middle">3</text>
<text x="11.0" y="310.55" class="tk" text-anchor="end">50</text>
<text x="11.0" y="333.82" class="tk" text-anchor="end">40</text>
<text x="11.0" y="357.09" class="tk" text-anchor="end">30</text>
<text x="11.0" y="380.36" class="tk" text-anchor="end">20</text>
<text x="11.0" y="403.63" class="tk" text-anchor="end">10</text>
<g fill="#333" fill-opacity="0.68"><circle cx="30.6" cy="336.0" r="0.95"/><circle cx="28.5" cy="322.4" r="0.95"/><circle cx="22.6" cy="338.5" r="0.95"/><circle cx="32.9" cy="335.3" r="0.95"/><circle cx="29.8" cy="334.2" r="0.95"/><circle cx="30.1" cy="345.5" r="0.95"/><circle cx="29.2" cy="338.7" r="0.95"/><circle cx="36.3" cy="331.0" r="0.95"/><circle cx="33.1" cy="344.9" r="0.95"/><circle cx="34.6" cy="337.0" r="0.95"/><circle cx="26.9" cy="314.1" r="0.95"/><circle cx="26.1" cy="322.9" r="0.95"/><circle cx="23.2" cy="314.8" r="0.95"/><circle cx="27.1" cy="324.0" r="0.95"/><circle cx="36.7" cy="342.7" r="0.95"/><circle cx="29.1" cy="337.7" r="0.95"/><circle cx="28.8" cy="334.2" r="0.95"/><circle cx="32.8" cy="325.5" r="0.95"/><circle cx="26.5" cy="317.9" r="0.95"/><circle cx="29.7" cy="335.8" r="0.95"/><circle cx="32.4" cy="348.3" r="0.95"/><circle cx="20.4" cy="322.9" r="0.95"/><circle cx="37.3" cy="321.1" r="0.95"/><circle cx="29.1" cy="312.6" r="0.95"/><circle cx="31.6" cy="335.3" r="0.95"/><circle cx="23.1" cy="339.6" r="0.95"/><circle cx="25.2" cy="343.6" r="0.95"/><circle cx="37.1" cy="339.2" r="0.95"/><circle cx="25.7" cy="331.0" r="0.95"/><circle cx="26.3" cy="307.3" r="0.95"/><circle cx="30.9" cy="326.9" r="0.95"/><circle cx="35.8" cy="342.1" r="0.95"/><circle cx="36.0" cy="327.6" r="0.95"/><circle cx="29.8" cy="330.8" r="0.95"/><circle cx="33.0" cy="320.1" r="0.95"/><circle cx="23.2" cy="342.1" r="0.95"/><circle cx="30.0" cy="331.1" r="0.95"/><circle cx="36.7" cy="346.3" r="0.95"/><circle cx="27.9" cy="344.9" r="0.95"/><circle cx="25.2" cy="348.8" r="0.95"/><circle cx="26.2" cy="335.5" r="0.95"/><circle cx="25.7" cy="336.7" r="0.95"/><circle cx="32.5" cy="347.4" r="0.95"/><circle cx="29.4" cy="330.8" r="0.95"/><circle cx="25.9" cy="345.3" r="0.95"/><circle cx="32.5" cy="331.6" r="0.95"/><circle cx="22.8" cy="344.5" r="0.95"/><circle cx="21.0" cy="351.9" r="0.95"/><circle cx="25.1" cy="331.4" r="0.95"/><circle cx="36.8" cy="333.4" r="0.95"/><circle cx="28.0" cy="343.7" r="0.95"/><circle cx="27.3" cy="345.3" r="0.95"/><circle cx="31.1" cy="325.1" r="0.95"/><circle cx="24.0" cy="349.4" r="0.95"/><circle cx="24.1" cy="333.3" r="0.95"/><circle cx="27.3" cy="327.2" r="0.95"/><circle cx="26.4" cy="342.5" r="0.95"/><circle cx="32.1" cy="340.0" r="0.95"/><circle cx="38.4" cy="337.2" r="0.95"/><circle cx="22.3" cy="327.6" r="0.95"/><circle cx="23.9" cy="348.8" r="0.95"/><circle cx="32.3" cy="341.3" r="0.95"/><circle cx="31.0" cy="339.7" r="0.95"/><circle cx="34.2" cy="327.1" r="0.95"/><circle cx="24.6" cy="329.6" r="0.95"/><circle cx="31.5" cy="335.2" r="0.95"/><circle cx="28.1" cy="316.0" r="0.95"/><circle cx="20.0" cy="352.1" r="0.95"/><circle cx="30.7" cy="343.3" r="0.95"/><circle cx="20.3" cy="326.3" r="0.95"/><circle cx="31.2" cy="337.4" r="0.95"/><circle cx="26.1" cy="324.3" r="0.95"/><circle cx="27.4" cy="320.0" r="0.95"/><circle cx="39.5" cy="351.6" r="0.95"/><circle cx="36.3" cy="325.1" r="0.95"/><circle cx="30.6" cy="341.0" r="0.95"/><circle cx="30.5" cy="331.4" r="0.95"/><circle cx="24.4" cy="317.6" r="0.95"/><circle cx="34.8" cy="339.8" r="0.95"/><circle cx="31.6" cy="329.0" r="0.95"/><circle cx="24.0" cy="349.5" r="0.95"/><circle cx="19.8" cy="313.4" r="0.95"/><circle cx="28.4" cy="340.3" r="0.95"/><circle cx="27.5" cy="330.0" r="0.95"/><circle cx="32.9" cy="332.1" r="0.95"/><circle cx="23.1" cy="317.1" r="0.95"/><circle cx="23.8" cy="329.4" r="0.95"/><circle cx="30.6" cy="350.3" r="0.95"/><circle cx="28.9" cy="333.7" r="0.95"/><circle cx="33.3" cy="328.5" r="0.95"/><circle cx="34.2" cy="330.1" r="0.95"/><circle cx="23.8" cy="323.1" r="0.95"/><circle cx="28.7" cy="343.8" r="0.95"/><circle cx="24.6" cy="330.8" r="0.95"/><circle cx="29.7" cy="329.5" r="0.95"/><circle cx="27.9" cy="327.6" r="0.95"/><circle cx="28.9" cy="352.9" r="0.95"/><circle cx="25.5" cy="311.8" r="0.95"/><circle cx="31.1" cy="314.6" r="0.95"/><circle cx="29.0" cy="326.3" r="0.95"/><circle cx="29.6" cy="326.6" r="0.95"/><circle cx="35.1" cy="347.5" r="0.95"/><circle cx="35.1" cy="347.2" r="0.95"/><circle cx="34.6" cy="332.3" r="0.95"/><circle cx="30.4" cy="335.3" r="0.95"/><circle cx="29.2" cy="333.9" r="0.95"/><circle cx="31.3" cy="328.1" r="0.95"/><circle cx="30.0" cy="320.0" r="0.95"/><circle cx="24.6" cy="326.6" r="0.95"/><circle cx="30.4" cy="327.0" r="0.95"/><circle cx="33.1" cy="325.3" r="0.95"/><circle cx="26.3" cy="341.6" r="0.95"/><circle cx="22.8" cy="350.3" r="0.95"/><circle cx="31.4" cy="349.4" r="0.95"/><circle cx="24.5" cy="337.7" r="0.95"/><circle cx="20.7" cy="338.2" r="0.95"/><circle cx="27.1" cy="340.0" r="0.95"/><circle cx="20.9" cy="329.5" r="0.95"/><circle cx="30.1" cy="307.6" r="0.95"/><circle cx="25.8" cy="334.8" r="0.95"/><circle cx="28.8" cy="311.0" r="0.95"/><circle cx="34.3" cy="325.3" r="0.95"/><circle cx="34.2" cy="330.8" r="0.95"/><circle cx="27.9" cy="337.3" r="0.95"/><circle cx="26.0" cy="340.5" r="0.95"/><circle cx="22.4" cy="319.1" r="0.95"/><circle cx="33.0" cy="334.1" r="0.95"/><circle cx="36.4" cy="322.5" r="0.95"/><circle cx="32.0" cy="344.6" r="0.95"/><circle cx="31.7" cy="330.4" r="0.95"/><circle cx="31.3" cy="338.3" r="0.95"/><circle cx="31.9" cy="338.9" r="0.95"/><circle cx="26.5" cy="327.9" r="0.95"/><circle cx="33.0" cy="337.7" r="0.95"/><circle cx="26.8" cy="330.2" r="0.95"/><circle cx="22.5" cy="325.7" r="0.95"/><circle cx="28.7" cy="324.3" r="0.95"/><circle cx="36.7" cy="319.5" r="0.95"/><circle cx="27.5" cy="338.5" r="0.95"/><circle cx="19.3" cy="347.9" r="0.95"/><circle cx="34.8" cy="352.0" r="0.95"/><circle cx="29.7" cy="345.8" r="0.95"/><circle cx="31.2" cy="340.4" r="0.95"/><circle cx="26.0" cy="344.3" r="0.95"/><circle cx="30.9" cy="341.3" r="0.95"/><circle cx="36.7" cy="331.4" r="0.95"/><circle cx="25.1" cy="329.8" r="0.95"/><circle cx="32.0" cy="326.8" r="0.95"/><circle cx="30.3" cy="343.3" r="0.95"/><circle cx="24.0" cy="332.8" r="0.95"/><circle cx="29.4" cy="337.1" r="0.95"/><circle cx="31.5" cy="333.9" r="0.95"/><circle cx="24.1" cy="306.2" r="0.95"/><circle cx="34.4" cy="331.6" r="0.95"/><circle cx="22.7" cy="341.3" r="0.95"/><circle cx="34.4" cy="323.7" r="0.95"/><circle cx="31.6" cy="343.6" r="0.95"/><circle cx="29.8" cy="343.8" r="0.95"/><circle cx="24.4" cy="344.2" r="0.95"/><circle cx="24.4" cy="311.5" r="0.95"/><circle cx="28.3" cy="334.1" r="0.95"/><circle cx="27.8" cy="333.0" r="0.95"/><circle cx="31.3" cy="305.7" r="0.95"/><circle cx="33.7" cy="330.9" r="0.95"/><circle cx="29.5" cy="333.2" r="0.95"/><circle cx="26.7" cy="324.3" r="0.95"/><circle cx="33.5" cy="344.6" r="0.95"/><circle cx="28.4" cy="340.5" r="0.95"/><circle cx="28.3" cy="343.4" r="0.95"/><circle cx="22.4" cy="320.1" r="0.95"/><circle cx="33.9" cy="338.3" r="0.95"/><circle cx="25.0" cy="336.2" r="0.95"/><circle cx="38.4" cy="338.5" r="0.95"/><circle cx="24.0" cy="349.4" r="0.95"/><circle cx="26.0" cy="334.5" r="0.95"/><circle cx="28.9" cy="350.2" r="0.95"/><circle cx="24.8" cy="330.2" r="0.95"/><circle cx="20.9" cy="333.3" r="0.95"/><circle cx="22.6" cy="328.1" r="0.95"/><circle cx="24.2" cy="339.2" r="0.95"/><circle cx="27.2" cy="336.2" r="0.95"/><circle cx="33.5" cy="323.5" r="0.95"/><circle cx="31.9" cy="346.5" r="0.95"/><circle cx="30.1" cy="314.2" r="0.95"/><circle cx="32.6" cy="329.1" r="0.95"/><circle cx="25.3" cy="350.1" r="0.95"/><circle cx="25.6" cy="321.6" r="0.95"/><circle cx="23.1" cy="330.5" r="0.95"/><circle cx="30.9" cy="335.4" r="0.95"/><circle cx="25.1" cy="340.1" r="0.95"/><circle cx="22.8" cy="328.2" r="0.95"/><circle cx="33.0" cy="321.4" r="0.95"/><circle cx="25.1" cy="311.6" r="0.95"/><circle cx="27.2" cy="339.3" r="0.95"/><circle cx="20.7" cy="346.4" r="0.95"/><circle cx="33.1" cy="332.7" r="0.95"/><circle cx="28.7" cy="347.3" r="0.95"/><circle cx="35.8" cy="320.7" r="0.95"/><circle cx="39.7" cy="331.8" r="0.95"/><circle cx="31.9" cy="340.9" r="0.95"/><circle cx="26.6" cy="348.5" r="0.95"/><circle cx="24.4" cy="330.5" r="0.95"/><circle cx="36.8" cy="341.8" r="0.95"/><circle cx="27.4" cy="347.7" r="0.95"/><circle cx="31.7" cy="344.4" r="0.95"/><circle cx="41.0" cy="358.1" r="0.95"/><circle cx="26.2" cy="374.4" r="0.95"/><circle cx="26.2" cy="358.0" r="0.95"/><circle cx="37.5" cy="387.9" r="0.95"/><circle cx="30.2" cy="358.2" r="0.95"/><circle cx="21.3" cy="359.2" r="0.95"/><circle cx="38.8" cy="382.0" r="0.95"/><circle cx="40.4" cy="373.4" r="0.95"/><circle cx="58.2" cy="381.2" r="0.95"/><circle cx="38.6" cy="370.6" r="0.95"/><circle cx="27.4" cy="377.3" r="0.95"/><circle cx="26.7" cy="359.4" r="0.95"/><circle cx="44.2" cy="363.6" r="0.95"/><circle cx="33.8" cy="365.0" r="0.95"/><circle cx="37.9" cy="369.5" r="0.95"/><circle cx="49.1" cy="373.4" r="0.95"/><circle cx="21.9" cy="371.5" r="0.95"/><circle cx="39.3" cy="353.3" r="0.95"/><circle cx="54.7" cy="366.1" r="0.95"/><circle cx="55.4" cy="372.3" r="0.95"/><circle cx="42.3" cy="375.6" r="0.95"/><circle cx="43.7" cy="379.9" r="0.95"/><circle cx="30.1" cy="375.2" r="0.95"/><circle cx="44.9" cy="384.5" r="0.95"/><circle cx="29.6" cy="367.4" r="0.95"/><circle cx="33.9" cy="364.4" r="0.95"/><circle cx="34.6" cy="385.7" r="0.95"/><circle cx="37.5" cy="389.0" r="0.95"/><circle cx="31.8" cy="380.6" r="0.95"/><circle cx="38.7" cy="352.4" r="0.95"/><circle cx="28.1" cy="371.6" r="0.95"/><circle cx="31.2" cy="370.0" r="0.95"/><circle cx="27.4" cy="362.7" r="0.95"/><circle cx="24.8" cy="375.4" r="0.95"/><circle cx="31.5" cy="385.0" r="0.95"/><circle cx="27.6" cy="370.9" r="0.95"/><circle cx="24.3" cy="372.0" r="0.95"/><circle cx="43.1" cy="366.2" r="0.95"/><circle cx="35.1" cy="376.9" r="0.95"/><circle cx="26.9" cy="378.0" r="0.95"/><circle cx="37.5" cy="372.2" r="0.95"/><circle cx="47.4" cy="374.3" r="0.95"/><circle cx="29.4" cy="379.9" r="0.95"/><circle cx="50.0" cy="377.4" r="0.95"/><circle cx="56.1" cy="364.4" r="0.95"/><circle cx="43.5" cy="368.4" r="0.95"/><circle cx="35.4" cy="382.4" r="0.95"/><circle cx="43.2" cy="363.8" r="0.95"/><circle cx="45.3" cy="366.6" r="0.95"/><circle cx="56.3" cy="374.6" r="0.95"/><circle cx="27.4" cy="362.0" r="0.95"/><circle cx="30.5" cy="370.5" r="0.95"/><circle cx="65.6" cy="351.0" r="0.95"/><circle cx="74.3" cy="355.5" r="0.95"/><circle cx="71.5" cy="366.5" r="0.95"/><circle cx="69.0" cy="377.6" r="0.95"/><circle cx="86.4" cy="375.2" r="0.95"/><circle cx="89.0" cy="382.8" r="0.95"/><circle cx="100.9" cy="382.8" r="0.95"/><circle cx="105.4" cy="380.4" r="0.95"/><circle cx="104.3" cy="389.7" r="0.95"/><circle cx="109.8" cy="386.6" r="0.95"/><circle cx="116.4" cy="370.7" r="0.95"/><circle cx="113.3" cy="378.0" r="0.95"/><circle cx="118.1" cy="382.8" r="0.95"/><circle cx="118.1" cy="385.5" r="0.95"/><circle cx="125.0" cy="376.2" r="0.95"/><circle cx="125.4" cy="388.3" r="0.95"/><circle cx="142.7" cy="328.5" r="0.95"/><circle cx="146.8" cy="360.3" r="0.95"/><circle cx="153.7" cy="376.9" r="0.95"/><circle cx="26.0" cy="292.5" r="0.95"/><circle cx="41.0" cy="330.0" r="0.95"/><circle cx="46.0" cy="331.0" r="0.95"/><circle cx="52.0" cy="331.5" r="0.95"/><circle cx="57.0" cy="332.0" r="0.95"/></g>
<polygon points="24.8,336.3 30.0,338.8 35.1,341.2 40.3,343.4 45.5,345.5 50.6,347.5 55.8,349.5 61.0,351.4 66.1,353.3 71.3,355.2 76.5,357.1 81.6,359.0 86.8,360.8 92.0,362.7 97.1,364.6 102.3,366.4 107.5,368.3 112.6,370.1 117.8,372.0 123.0,373.8 128.1,375.7 133.3,377.6 138.5,379.4 143.6,381.3 148.8,383.1 148.8,402.9 143.6,400.2 138.5,397.5 133.3,394.8 128.1,392.0 123.0,389.3 117.8,386.6 112.6,383.9 107.5,381.2 102.3,378.5 97.1,375.8 92.0,373.1 86.8,370.4 81.6,367.7 76.5,365.0 71.3,362.3 66.1,359.7 61.0,357.0 55.8,354.4 50.6,351.8 45.5,349.2 40.3,346.8 35.1,344.4 30.0,342.2 24.8,340.1" fill="#999" fill-opacity="0.42"/>
<line x1="24.8" y1="338.2" x2="148.8" y2="393.2" stroke="#0c0cf8" stroke-width="1.12"/>
<rect x="189.1" y="288.0" width="147.6" height="120.7" fill="#ebebeb"/>
<path d="M226.03 288.0V408.7M266.30 288.0V408.7M306.57 288.0V408.7M189.1 299.68H336.7M189.1 320.04H336.7M189.1 340.40H336.7M189.1 360.76H336.7M189.1 381.12H336.7M189.1 401.48H336.7" stroke="#fff" stroke-width="0.45" fill="none" opacity="0.9"/>
<path d="M205.90 288.0V408.7M246.17 288.0V408.7M286.44 288.0V408.7M326.71 288.0V408.7M189.1 289.50H336.7M189.1 309.86H336.7M189.1 330.22H336.7M189.1 350.58H336.7M189.1 370.94H336.7M189.1 391.30H336.7" stroke="#fff" stroke-width="0.8" fill="none"/>
<path d="M205.90 408.7v1.5M246.17 408.7v1.5M286.44 408.7v1.5M326.71 408.7v1.5M189.1 289.50h-1.5M189.1 309.86h-1.5M189.1 330.22h-1.5M189.1 350.58h-1.5M189.1 370.94h-1.5M189.1 391.30h-1.5" stroke="#333" stroke-width="0.55" fill="none"/>
<text x="205.90" y="413.7" class="tk" text-anchor="middle">0</text>
<text x="246.17" y="413.7" class="tk" text-anchor="middle">1</text>
<text x="286.44" y="413.7" class="tk" text-anchor="middle">2</text>
<text x="326.71" y="413.7" class="tk" text-anchor="middle">3</text>
<text x="187.1" y="290.65" class="tk" text-anchor="end">90</text>
<text x="187.1" y="311.01" class="tk" text-anchor="end">80</text>
<text x="187.1" y="331.37" class="tk" text-anchor="end">70</text>
<text x="187.1" y="351.73" class="tk" text-anchor="end">60</text>
<text x="187.1" y="372.09" class="tk" text-anchor="end">50</text>
<text x="187.1" y="392.45" class="tk" text-anchor="end">40</text>
<g fill="#333" fill-opacity="0.68"><circle cx="208.3" cy="312.5" r="0.95"/><circle cx="206.1" cy="329.2" r="0.95"/><circle cx="200.2" cy="319.9" r="0.95"/><circle cx="210.5" cy="332.8" r="0.95"/><circle cx="207.4" cy="334.3" r="0.95"/><circle cx="207.7" cy="323.0" r="0.95"/><circle cx="206.8" cy="329.0" r="0.95"/><circle cx="214.0" cy="325.4" r="0.95"/><circle cx="210.7" cy="333.8" r="0.95"/><circle cx="212.2" cy="318.5" r="0.95"/><circle cx="204.5" cy="301.3" r="0.95"/><circle cx="203.7" cy="318.2" r="0.95"/><circle cx="200.8" cy="317.9" r="0.95"/><circle cx="204.7" cy="327.9" r="0.95"/><circle cx="214.4" cy="334.7" r="0.95"/><circle cx="206.7" cy="335.7" r="0.95"/><circle cx="206.4" cy="339.4" r="0.95"/><circle cx="210.5" cy="316.3" r="0.95"/><circle cx="204.1" cy="329.6" r="0.95"/><circle cx="207.3" cy="332.9" r="0.95"/><circle cx="210.0" cy="334.0" r="0.95"/><circle cx="197.9" cy="312.5" r="0.95"/><circle cx="214.9" cy="294.5" r="0.95"/><circle cx="206.7" cy="325.3" r="0.95"/><circle cx="209.2" cy="321.7" r="0.95"/><circle cx="200.7" cy="338.1" r="0.95"/><circle cx="202.8" cy="294.2" r="0.95"/><circle cx="214.7" cy="343.5" r="0.95"/><circle cx="203.3" cy="317.8" r="0.95"/><circle cx="203.9" cy="329.7" r="0.95"/><circle cx="208.5" cy="331.9" r="0.95"/><circle cx="213.4" cy="319.2" r="0.95"/><circle cx="213.6" cy="348.1" r="0.95"/><circle cx="207.4" cy="316.6" r="0.95"/><circle cx="210.6" cy="335.6" r="0.95"/><circle cx="200.7" cy="323.7" r="0.95"/><circle cx="207.6" cy="320.5" r="0.95"/><circle cx="214.4" cy="318.1" r="0.95"/><circle cx="205.5" cy="310.1" r="0.95"/><circle cx="202.8" cy="352.5" r="0.95"/><circle cx="203.7" cy="323.2" r="0.95"/><circle cx="203.3" cy="324.8" r="0.95"/><circle cx="210.1" cy="324.9" r="0.95"/><circle cx="207.0" cy="317.1" r="0.95"/><circle cx="203.4" cy="332.5" r="0.95"/><circle cx="210.1" cy="322.2" r="0.95"/><circle cx="200.3" cy="338.1" r="0.95"/><circle cx="198.6" cy="323.0" r="0.95"/><circle cx="202.7" cy="334.6" r="0.95"/><circle cx="214.4" cy="335.4" r="0.95"/><circle cx="205.6" cy="328.0" r="0.95"/><circle cx="204.9" cy="324.2" r="0.95"/><circle cx="208.7" cy="311.4" r="0.95"/><circle cx="201.6" cy="328.9" r="0.95"/><circle cx="201.6" cy="316.3" r="0.95"/><circle cx="204.9" cy="332.4" r="0.95"/><circle cx="204.0" cy="302.8" r="0.95"/><circle cx="209.7" cy="331.9" r="0.95"/><circle cx="216.1" cy="323.8" r="0.95"/><circle cx="199.9" cy="295.5" r="0.95"/><circle cx="201.5" cy="330.8" r="0.95"/><circle cx="209.9" cy="299.9" r="0.95"/><circle cx="208.7" cy="304.0" r="0.95"/><circle cx="211.8" cy="319.5" r="0.95"/><circle cx="202.2" cy="319.2" r="0.95"/><circle cx="209.1" cy="308.6" r="0.95"/><circle cx="205.7" cy="303.0" r="0.95"/><circle cx="197.6" cy="336.9" r="0.95"/><circle cx="208.3" cy="334.2" r="0.95"/><circle cx="197.9" cy="327.5" r="0.95"/><circle cx="208.8" cy="334.3" r="0.95"/><circle cx="203.7" cy="319.3" r="0.95"/><circle cx="205.0" cy="322.2" r="0.95"/><circle cx="217.1" cy="322.7" r="0.95"/><circle cx="213.9" cy="307.1" r="0.95"/><circle cx="208.2" cy="320.6" r="0.95"/><circle cx="208.1" cy="322.4" r="0.95"/><circle cx="202.0" cy="323.5" r="0.95"/><circle cx="212.5" cy="322.3" r="0.95"/><circle cx="209.2" cy="317.6" r="0.95"/><circle cx="201.5" cy="321.7" r="0.95"/><circle cx="197.4" cy="315.7" r="0.95"/><circle cx="206.0" cy="316.2" r="0.95"/><circle cx="205.1" cy="312.9" r="0.95"/><circle cx="210.5" cy="339.5" r="0.95"/><circle cx="200.7" cy="319.2" r="0.95"/><circle cx="201.4" cy="323.9" r="0.95"/><circle cx="208.2" cy="331.5" r="0.95"/><circle cx="206.5" cy="311.9" r="0.95"/><circle cx="210.9" cy="339.4" r="0.95"/><circle cx="211.8" cy="319.6" r="0.95"/><circle cx="201.3" cy="327.4" r="0.95"/><circle cx="206.3" cy="342.0" r="0.95"/><circle cx="202.2" cy="324.0" r="0.95"/><circle cx="207.3" cy="313.9" r="0.95"/><circle cx="205.5" cy="308.5" r="0.95"/><circle cx="206.5" cy="324.8" r="0.95"/><circle cx="203.1" cy="298.6" r="0.95"/><circle cx="208.7" cy="338.9" r="0.95"/><circle cx="206.6" cy="317.4" r="0.95"/><circle cx="207.2" cy="340.8" r="0.95"/><circle cx="212.7" cy="324.8" r="0.95"/><circle cx="212.7" cy="334.7" r="0.95"/><circle cx="212.2" cy="320.6" r="0.95"/><circle cx="208.0" cy="311.8" r="0.95"/><circle cx="206.8" cy="321.0" r="0.95"/><circle cx="208.9" cy="316.6" r="0.95"/><circle cx="207.7" cy="318.0" r="0.95"/><circle cx="202.2" cy="319.0" r="0.95"/><circle cx="208.1" cy="317.2" r="0.95"/><circle cx="210.8" cy="323.4" r="0.95"/><circle cx="203.9" cy="324.5" r="0.95"/><circle cx="200.4" cy="328.2" r="0.95"/><circle cx="209.0" cy="329.4" r="0.95"/><circle cx="202.1" cy="343.5" r="0.95"/><circle cx="198.3" cy="316.9" r="0.95"/><circle cx="204.7" cy="311.4" r="0.95"/><circle cx="198.4" cy="348.6" r="0.95"/><circle cx="207.7" cy="342.5" r="0.95"/><circle cx="203.4" cy="329.4" r="0.95"/><circle cx="206.4" cy="328.5" r="0.95"/><circle cx="211.9" cy="316.6" r="0.95"/><circle cx="211.8" cy="321.4" r="0.95"/><circle cx="205.5" cy="308.8" r="0.95"/><circle cx="203.6" cy="306.2" r="0.95"/><circle cx="200.0" cy="320.6" r="0.95"/><circle cx="210.7" cy="329.1" r="0.95"/><circle cx="214.1" cy="320.2" r="0.95"/><circle cx="209.6" cy="351.6" r="0.95"/><circle cx="209.4" cy="321.4" r="0.95"/><circle cx="208.9" cy="309.2" r="0.95"/><circle cx="209.6" cy="322.7" r="0.95"/><circle cx="204.1" cy="310.7" r="0.95"/><circle cx="210.7" cy="323.3" r="0.95"/><circle cx="204.4" cy="332.7" r="0.95"/><circle cx="200.0" cy="342.2" r="0.95"/><circle cx="206.3" cy="324.5" r="0.95"/><circle cx="214.3" cy="301.9" r="0.95"/><circle cx="205.1" cy="348.2" r="0.95"/><circle cx="196.9" cy="313.4" r="0.95"/><circle cx="212.4" cy="331.5" r="0.95"/><circle cx="207.3" cy="340.2" r="0.95"/><circle cx="208.9" cy="301.1" r="0.95"/><circle cx="203.6" cy="309.1" r="0.95"/><circle cx="208.5" cy="341.9" r="0.95"/><circle cx="214.4" cy="348.8" r="0.95"/><circle cx="202.7" cy="344.5" r="0.95"/><circle cx="209.6" cy="318.6" r="0.95"/><circle cx="207.9" cy="318.0" r="0.95"/><circle cx="201.6" cy="323.4" r="0.95"/><circle cx="207.0" cy="334.3" r="0.95"/><circle cx="209.1" cy="335.6" r="0.95"/><circle cx="201.7" cy="336.6" r="0.95"/><circle cx="212.1" cy="331.6" r="0.95"/><circle cx="200.3" cy="330.8" r="0.95"/><circle cx="212.0" cy="308.1" r="0.95"/><circle cx="209.2" cy="327.9" r="0.95"/><circle cx="207.4" cy="312.9" r="0.95"/><circle cx="202.0" cy="323.9" r="0.95"/><circle cx="202.0" cy="349.7" r="0.95"/><circle cx="205.9" cy="327.3" r="0.95"/><circle cx="205.4" cy="348.0" r="0.95"/><circle cx="208.9" cy="344.1" r="0.95"/><circle cx="211.3" cy="326.2" r="0.95"/><circle cx="207.1" cy="320.3" r="0.95"/><circle cx="204.3" cy="351.1" r="0.95"/><circle cx="211.1" cy="315.2" r="0.95"/><circle cx="206.0" cy="348.3" r="0.95"/><circle cx="205.9" cy="330.4" r="0.95"/><circle cx="200.0" cy="310.2" r="0.95"/><circle cx="211.5" cy="347.7" r="0.95"/><circle cx="202.6" cy="326.9" r="0.95"/><circle cx="216.0" cy="324.1" r="0.95"/><circle cx="201.6" cy="329.4" r="0.95"/><circle cx="203.6" cy="326.6" r="0.95"/><circle cx="206.5" cy="330.8" r="0.95"/><circle cx="202.4" cy="317.5" r="0.95"/><circle cx="198.5" cy="333.5" r="0.95"/><circle cx="200.2" cy="312.9" r="0.95"/><circle cx="201.8" cy="336.8" r="0.95"/><circle cx="204.8" cy="353.5" r="0.95"/><circle cx="211.1" cy="310.2" r="0.95"/><circle cx="209.5" cy="343.4" r="0.95"/><circle cx="207.7" cy="314.8" r="0.95"/><circle cx="210.2" cy="310.1" r="0.95"/><circle cx="202.9" cy="334.3" r="0.95"/><circle cx="203.2" cy="314.8" r="0.95"/><circle cx="200.7" cy="312.0" r="0.95"/><circle cx="208.5" cy="316.8" r="0.95"/><circle cx="202.7" cy="298.7" r="0.95"/><circle cx="200.4" cy="330.5" r="0.95"/><circle cx="210.6" cy="321.4" r="0.95"/><circle cx="202.7" cy="329.2" r="0.95"/><circle cx="204.8" cy="316.9" r="0.95"/><circle cx="198.3" cy="335.0" r="0.95"/><circle cx="210.7" cy="332.4" r="0.95"/><circle cx="206.3" cy="311.5" r="0.95"/><circle cx="213.5" cy="328.4" r="0.95"/><circle cx="217.4" cy="315.2" r="0.95"/><circle cx="209.5" cy="310.2" r="0.95"/><circle cx="204.2" cy="333.9" r="0.95"/><circle cx="202.0" cy="339.4" r="0.95"/><circle cx="214.5" cy="320.1" r="0.95"/><circle cx="205.0" cy="319.0" r="0.95"/><circle cx="209.3" cy="321.7" r="0.95"/><circle cx="218.6" cy="356.9" r="0.95"/><circle cx="203.8" cy="363.9" r="0.95"/><circle cx="203.8" cy="363.9" r="0.95"/><circle cx="215.1" cy="367.8" r="0.95"/><circle cx="207.9" cy="371.1" r="0.95"/><circle cx="198.8" cy="346.6" r="0.95"/><circle cx="216.5" cy="362.2" r="0.95"/><circle cx="218.1" cy="354.8" r="0.95"/><circle cx="235.9" cy="352.4" r="0.95"/><circle cx="216.2" cy="375.6" r="0.95"/><circle cx="205.0" cy="372.3" r="0.95"/><circle cx="204.3" cy="360.7" r="0.95"/><circle cx="221.9" cy="367.2" r="0.95"/><circle cx="211.5" cy="357.2" r="0.95"/><circle cx="215.5" cy="353.0" r="0.95"/><circle cx="226.8" cy="367.0" r="0.95"/><circle cx="199.5" cy="357.3" r="0.95"/><circle cx="216.9" cy="371.4" r="0.95"/><circle cx="232.4" cy="361.4" r="0.95"/><circle cx="233.1" cy="370.6" r="0.95"/><circle cx="220.0" cy="366.3" r="0.95"/><circle cx="221.4" cy="365.3" r="0.95"/><circle cx="207.7" cy="366.1" r="0.95"/><circle cx="222.6" cy="367.6" r="0.95"/><circle cx="207.2" cy="364.1" r="0.95"/><circle cx="211.5" cy="361.6" r="0.95"/><circle cx="212.3" cy="346.5" r="0.95"/><circle cx="215.1" cy="356.2" r="0.95"/><circle cx="209.4" cy="352.0" r="0.95"/><circle cx="216.4" cy="367.6" r="0.95"/><circle cx="205.7" cy="368.5" r="0.95"/><circle cx="208.8" cy="362.8" r="0.95"/><circle cx="205.0" cy="366.6" r="0.95"/><circle cx="202.4" cy="354.2" r="0.95"/><circle cx="209.1" cy="373.7" r="0.95"/><circle cx="205.2" cy="360.4" r="0.95"/><circle cx="201.8" cy="376.7" r="0.95"/><circle cx="220.8" cy="355.6" r="0.95"/><circle cx="212.7" cy="369.8" r="0.95"/><circle cx="204.5" cy="370.0" r="0.95"/><circle cx="215.1" cy="362.1" r="0.95"/><circle cx="225.1" cy="361.6" r="0.95"/><circle cx="207.0" cy="362.0" r="0.95"/><circle cx="227.7" cy="363.7" r="0.95"/><circle cx="233.8" cy="371.0" r="0.95"/><circle cx="221.2" cy="365.6" r="0.95"/><circle cx="213.0" cy="369.5" r="0.95"/><circle cx="220.9" cy="373.4" r="0.95"/><circle cx="223.0" cy="362.4" r="0.95"/><circle cx="234.0" cy="367.0" r="0.95"/><circle cx="205.0" cy="373.6" r="0.95"/><circle cx="208.2" cy="373.3" r="0.95"/><circle cx="238.7" cy="332.0" r="0.95"/><circle cx="243.9" cy="345.8" r="0.95"/><circle cx="251.5" cy="347.5" r="0.95"/><circle cx="256.7" cy="355.1" r="0.95"/><circle cx="245.3" cy="376.8" r="0.95"/><circle cx="249.7" cy="374.4" r="0.95"/><circle cx="249.0" cy="390.6" r="0.95"/><circle cx="265.3" cy="376.8" r="0.95"/><circle cx="269.8" cy="367.5" r="0.95"/><circle cx="282.5" cy="371.7" r="0.95"/><circle cx="284.3" cy="376.1" r="0.95"/><circle cx="285.3" cy="381.3" r="0.95"/><circle cx="288.4" cy="366.5" r="0.95"/><circle cx="291.2" cy="374.1" r="0.95"/><circle cx="292.9" cy="378.6" r="0.95"/><circle cx="298.1" cy="367.5" r="0.95"/><circle cx="300.5" cy="366.5" r="0.95"/><circle cx="303.3" cy="377.9" r="0.95"/><circle cx="306.7" cy="368.2" r="0.95"/><circle cx="326.4" cy="350.2" r="0.95"/><circle cx="326.4" cy="356.1" r="0.95"/><circle cx="329.8" cy="394.1" r="0.95"/></g>
<polygon points="202.7,327.7 207.9,330.4 213.0,333.1 218.2,335.7 223.3,338.2 228.5,340.6 233.7,342.9 238.8,345.2 244.0,347.4 249.2,349.7 254.3,351.8 259.5,354.0 264.6,356.2 269.8,358.4 275.0,360.5 280.1,362.7 285.3,364.8 290.5,367.0 295.6,369.1 300.8,371.3 306.0,373.4 311.1,375.6 316.3,377.7 321.4,379.9 326.6,382.0 326.6,402.7 321.4,399.6 316.3,396.5 311.1,393.5 306.0,390.4 300.8,387.3 295.6,384.2 290.5,381.2 285.3,378.1 280.1,375.0 275.0,372.0 269.8,368.9 264.6,365.9 259.5,362.8 254.3,359.8 249.2,356.7 244.0,353.7 238.8,350.7 233.7,347.8 228.5,344.9 223.3,342.1 218.2,339.3 213.0,336.7 207.9,334.2 202.7,331.7" fill="#999" fill-opacity="0.42"/>
<line x1="202.7" y1="329.7" x2="326.6" y2="392.4" stroke="#0c0cf8" stroke-width="1.12"/>
<rect x="363.5" y="288.0" width="147.4" height="120.7" fill="#ebebeb"/>
<path d="M398.95 288.0V408.7M438.45 288.0V408.7M477.95 288.0V408.7M363.5 295.88H510.9M363.5 319.72H510.9M363.5 343.54H510.9M363.5 367.38H510.9M363.5 391.21H510.9" stroke="#fff" stroke-width="0.45" fill="none" opacity="0.9"/>
<path d="M379.20 288.0V408.7M418.70 288.0V408.7M458.20 288.0V408.7M497.70 288.0V408.7M363.5 307.80H510.9M363.5 331.63H510.9M363.5 355.46H510.9M363.5 379.29H510.9M363.5 403.12H510.9" stroke="#fff" stroke-width="0.8" fill="none"/>
<path d="M379.20 408.7v1.5M418.70 408.7v1.5M458.20 408.7v1.5M497.70 408.7v1.5M363.5 307.80h-1.5M363.5 331.63h-1.5M363.5 355.46h-1.5M363.5 379.29h-1.5M363.5 403.12h-1.5" stroke="#333" stroke-width="0.55" fill="none"/>
<text x="379.20" y="413.7" class="tk" text-anchor="middle">0</text>
<text x="418.70" y="413.7" class="tk" text-anchor="middle">1</text>
<text x="458.20" y="413.7" class="tk" text-anchor="middle">2</text>
<text x="497.70" y="413.7" class="tk" text-anchor="middle">3</text>
<text x="361.5" y="308.95" class="tk" text-anchor="end">50</text>
<text x="361.5" y="332.78" class="tk" text-anchor="end">40</text>
<text x="361.5" y="356.61" class="tk" text-anchor="end">30</text>
<text x="361.5" y="380.44" class="tk" text-anchor="end">20</text>
<text x="361.5" y="404.27" class="tk" text-anchor="end">10</text>
<g fill="#333" fill-opacity="0.68"><circle cx="381.5" cy="314.6" r="0.95"/><circle cx="379.4" cy="325.3" r="0.95"/><circle cx="373.6" cy="305.8" r="0.95"/><circle cx="383.7" cy="323.0" r="0.95"/><circle cx="380.7" cy="331.0" r="0.95"/><circle cx="381.0" cy="308.8" r="0.95"/><circle cx="380.1" cy="314.7" r="0.95"/><circle cx="387.1" cy="311.7" r="0.95"/><circle cx="383.9" cy="325.6" r="0.95"/><circle cx="385.4" cy="314.4" r="0.95"/><circle cx="377.9" cy="324.0" r="0.95"/><circle cx="377.0" cy="328.7" r="0.95"/><circle cx="374.2" cy="325.2" r="0.95"/><circle cx="378.1" cy="312.1" r="0.95"/><circle cx="387.5" cy="315.0" r="0.95"/><circle cx="380.0" cy="300.4" r="0.95"/><circle cx="379.7" cy="309.6" r="0.95"/><circle cx="383.7" cy="324.4" r="0.95"/><circle cx="377.4" cy="315.0" r="0.95"/><circle cx="380.5" cy="327.6" r="0.95"/><circle cx="383.2" cy="317.7" r="0.95"/><circle cx="371.4" cy="326.7" r="0.95"/><circle cx="388.1" cy="328.9" r="0.95"/><circle cx="380.0" cy="323.2" r="0.95"/><circle cx="382.4" cy="305.0" r="0.95"/><circle cx="374.1" cy="332.3" r="0.95"/><circle cx="376.2" cy="314.2" r="0.95"/><circle cx="387.9" cy="315.0" r="0.95"/><circle cx="376.6" cy="326.0" r="0.95"/><circle cx="377.2" cy="316.3" r="0.95"/><circle cx="381.7" cy="316.1" r="0.95"/><circle cx="386.6" cy="316.3" r="0.95"/><circle cx="386.8" cy="319.1" r="0.95"/><circle cx="380.7" cy="302.4" r="0.95"/><circle cx="383.9" cy="316.0" r="0.95"/><circle cx="374.1" cy="295.6" r="0.95"/><circle cx="380.9" cy="326.0" r="0.95"/><circle cx="387.5" cy="324.9" r="0.95"/><circle cx="378.8" cy="335.9" r="0.95"/><circle cx="376.1" cy="331.5" r="0.95"/><circle cx="377.1" cy="316.9" r="0.95"/><circle cx="376.6" cy="314.9" r="0.95"/><circle cx="383.3" cy="322.6" r="0.95"/><circle cx="380.3" cy="325.8" r="0.95"/><circle cx="376.8" cy="334.9" r="0.95"/><circle cx="383.3" cy="307.3" r="0.95"/><circle cx="373.8" cy="302.0" r="0.95"/><circle cx="372.0" cy="303.6" r="0.95"/><circle cx="376.1" cy="292.1" r="0.95"/><circle cx="387.6" cy="317.2" r="0.95"/><circle cx="378.9" cy="330.9" r="0.95"/><circle cx="378.2" cy="333.8" r="0.95"/><circle cx="382.0" cy="323.5" r="0.95"/><circle cx="375.0" cy="312.6" r="0.95"/><circle cx="375.0" cy="327.5" r="0.95"/><circle cx="378.2" cy="341.2" r="0.95"/><circle cx="377.3" cy="307.5" r="0.95"/><circle cx="383.0" cy="302.1" r="0.95"/><circle cx="389.2" cy="331.6" r="0.95"/><circle cx="373.3" cy="307.1" r="0.95"/><circle cx="374.9" cy="314.3" r="0.95"/><circle cx="383.1" cy="332.0" r="0.95"/><circle cx="381.9" cy="312.4" r="0.95"/><circle cx="385.0" cy="319.7" r="0.95"/><circle cx="375.5" cy="300.4" r="0.95"/><circle cx="382.3" cy="325.6" r="0.95"/><circle cx="379.0" cy="309.0" r="0.95"/><circle cx="371.0" cy="306.5" r="0.95"/><circle cx="381.6" cy="318.8" r="0.95"/><circle cx="371.3" cy="314.8" r="0.95"/><circle cx="382.0" cy="308.1" r="0.95"/><circle cx="377.0" cy="314.4" r="0.95"/><circle cx="378.3" cy="315.2" r="0.95"/><circle cx="390.2" cy="321.4" r="0.95"/><circle cx="387.1" cy="338.2" r="0.95"/><circle cx="381.5" cy="330.2" r="0.95"/><circle cx="381.3" cy="330.2" r="0.95"/><circle cx="375.4" cy="304.5" r="0.95"/><circle cx="385.6" cy="334.4" r="0.95"/><circle cx="382.5" cy="329.0" r="0.95"/><circle cx="374.9" cy="314.6" r="0.95"/><circle cx="370.8" cy="324.7" r="0.95"/><circle cx="379.3" cy="313.6" r="0.95"/><circle cx="378.4" cy="311.9" r="0.95"/><circle cx="383.7" cy="312.2" r="0.95"/><circle cx="374.1" cy="298.2" r="0.95"/><circle cx="374.8" cy="299.9" r="0.95"/><circle cx="381.4" cy="303.6" r="0.95"/><circle cx="379.7" cy="302.0" r="0.95"/><circle cx="384.1" cy="316.7" r="0.95"/><circle cx="385.0" cy="331.1" r="0.95"/><circle cx="374.7" cy="311.0" r="0.95"/><circle cx="379.6" cy="315.9" r="0.95"/><circle cx="375.6" cy="307.4" r="0.95"/><circle cx="380.5" cy="322.9" r="0.95"/><circle cx="378.8" cy="317.1" r="0.95"/><circle cx="379.8" cy="324.1" r="0.95"/><circle cx="376.5" cy="307.9" r="0.95"/><circle cx="381.9" cy="315.1" r="0.95"/><circle cx="379.8" cy="322.9" r="0.95"/><circle cx="380.5" cy="312.0" r="0.95"/><circle cx="385.9" cy="327.8" r="0.95"/><circle cx="385.9" cy="329.9" r="0.95"/><circle cx="385.4" cy="327.5" r="0.95"/><circle cx="381.2" cy="322.0" r="0.95"/><circle cx="380.0" cy="326.0" r="0.95"/><circle cx="382.2" cy="313.5" r="0.95"/><circle cx="380.9" cy="329.0" r="0.95"/><circle cx="375.6" cy="322.0" r="0.95"/><circle cx="381.3" cy="335.5" r="0.95"/><circle cx="384.0" cy="342.1" r="0.95"/><circle cx="377.2" cy="325.1" r="0.95"/><circle cx="373.8" cy="304.6" r="0.95"/><circle cx="382.3" cy="300.5" r="0.95"/><circle cx="375.5" cy="306.1" r="0.95"/><circle cx="371.8" cy="333.3" r="0.95"/><circle cx="378.1" cy="321.4" r="0.95"/><circle cx="371.9" cy="323.5" r="0.95"/><circle cx="381.0" cy="320.4" r="0.95"/><circle cx="376.7" cy="317.0" r="0.95"/><circle cx="379.7" cy="319.5" r="0.95"/><circle cx="385.1" cy="313.7" r="0.95"/><circle cx="385.0" cy="306.0" r="0.95"/><circle cx="378.8" cy="302.6" r="0.95"/><circle cx="376.9" cy="326.5" r="0.95"/><circle cx="373.4" cy="309.8" r="0.95"/><circle cx="383.9" cy="324.3" r="0.95"/><circle cx="387.2" cy="333.0" r="0.95"/><circle cx="382.9" cy="323.2" r="0.95"/><circle cx="382.6" cy="317.8" r="0.95"/><circle cx="382.1" cy="313.2" r="0.95"/><circle cx="382.8" cy="320.9" r="0.95"/><circle cx="377.4" cy="314.2" r="0.95"/><circle cx="383.9" cy="311.1" r="0.95"/><circle cx="377.8" cy="318.0" r="0.95"/><circle cx="373.5" cy="308.2" r="0.95"/><circle cx="379.6" cy="330.4" r="0.95"/><circle cx="387.4" cy="318.3" r="0.95"/><circle cx="378.4" cy="333.2" r="0.95"/><circle cx="370.4" cy="342.1" r="0.95"/><circle cx="385.6" cy="315.6" r="0.95"/><circle cx="380.5" cy="323.2" r="0.95"/><circle cx="382.1" cy="310.9" r="0.95"/><circle cx="377.0" cy="319.4" r="0.95"/><circle cx="381.8" cy="313.9" r="0.95"/><circle cx="387.5" cy="309.2" r="0.95"/><circle cx="376.1" cy="317.3" r="0.95"/><circle cx="382.8" cy="323.3" r="0.95"/><circle cx="381.1" cy="323.9" r="0.95"/><circle cx="374.9" cy="327.6" r="0.95"/><circle cx="380.2" cy="316.9" r="0.95"/><circle cx="382.3" cy="318.2" r="0.95"/><circle cx="375.1" cy="326.7" r="0.95"/><circle cx="385.2" cy="336.4" r="0.95"/><circle cx="373.7" cy="312.5" r="0.95"/><circle cx="385.2" cy="322.9" r="0.95"/><circle cx="382.5" cy="342.2" r="0.95"/><circle cx="380.6" cy="305.5" r="0.95"/><circle cx="375.4" cy="317.1" r="0.95"/><circle cx="375.4" cy="309.6" r="0.95"/><circle cx="379.2" cy="295.8" r="0.95"/><circle cx="378.7" cy="318.2" r="0.95"/><circle cx="382.2" cy="297.6" r="0.95"/><circle cx="384.5" cy="337.7" r="0.95"/><circle cx="380.3" cy="320.4" r="0.95"/><circle cx="377.6" cy="311.7" r="0.95"/><circle cx="384.3" cy="340.1" r="0.95"/><circle cx="379.3" cy="309.4" r="0.95"/><circle cx="379.2" cy="325.8" r="0.95"/><circle cx="373.4" cy="330.0" r="0.95"/><circle cx="384.7" cy="341.0" r="0.95"/><circle cx="375.9" cy="314.6" r="0.95"/><circle cx="389.1" cy="330.1" r="0.95"/><circle cx="375.0" cy="308.8" r="0.95"/><circle cx="376.9" cy="335.9" r="0.95"/><circle cx="379.8" cy="329.9" r="0.95"/><circle cx="375.8" cy="314.0" r="0.95"/><circle cx="372.0" cy="343.2" r="0.95"/><circle cx="373.6" cy="308.0" r="0.95"/><circle cx="375.2" cy="314.7" r="0.95"/><circle cx="378.1" cy="312.6" r="0.95"/><circle cx="384.3" cy="311.6" r="0.95"/><circle cx="382.7" cy="319.6" r="0.95"/><circle cx="381.0" cy="336.2" r="0.95"/><circle cx="383.4" cy="321.6" r="0.95"/><circle cx="376.2" cy="309.2" r="0.95"/><circle cx="376.5" cy="335.9" r="0.95"/><circle cx="374.1" cy="326.1" r="0.95"/><circle cx="381.8" cy="327.9" r="0.95"/><circle cx="376.0" cy="309.7" r="0.95"/><circle cx="373.8" cy="337.8" r="0.95"/><circle cx="383.8" cy="309.2" r="0.95"/><circle cx="376.0" cy="305.0" r="0.95"/><circle cx="378.1" cy="327.4" r="0.95"/><circle cx="371.7" cy="318.5" r="0.95"/><circle cx="383.9" cy="306.3" r="0.95"/><circle cx="379.6" cy="332.2" r="0.95"/><circle cx="386.6" cy="310.3" r="0.95"/><circle cx="390.5" cy="324.5" r="0.95"/><circle cx="382.7" cy="303.9" r="0.95"/><circle cx="377.5" cy="332.4" r="0.95"/><circle cx="375.4" cy="320.5" r="0.95"/><circle cx="387.6" cy="306.7" r="0.95"/><circle cx="378.3" cy="320.7" r="0.95"/><circle cx="382.5" cy="318.3" r="0.95"/><circle cx="391.7" cy="367.4" r="0.95"/><circle cx="377.1" cy="353.3" r="0.95"/><circle cx="377.1" cy="367.7" r="0.95"/><circle cx="388.3" cy="357.0" r="0.95"/><circle cx="381.1" cy="377.8" r="0.95"/><circle cx="372.3" cy="367.9" r="0.95"/><circle cx="389.6" cy="366.1" r="0.95"/><circle cx="391.1" cy="372.2" r="0.95"/><circle cx="408.7" cy="367.4" r="0.95"/><circle cx="389.3" cy="355.9" r="0.95"/><circle cx="378.3" cy="362.2" r="0.95"/><circle cx="377.6" cy="362.0" r="0.95"/><circle cx="394.9" cy="359.1" r="0.95"/><circle cx="384.7" cy="362.0" r="0.95"/><circle cx="388.6" cy="378.1" r="0.95"/><circle cx="399.7" cy="377.5" r="0.95"/><circle cx="372.9" cy="360.6" r="0.95"/><circle cx="390.0" cy="363.1" r="0.95"/><circle cx="405.2" cy="371.7" r="0.95"/><circle cx="405.9" cy="370.3" r="0.95"/><circle cx="393.0" cy="375.7" r="0.95"/><circle cx="394.4" cy="370.6" r="0.95"/><circle cx="380.9" cy="370.3" r="0.95"/><circle cx="395.6" cy="362.1" r="0.95"/><circle cx="380.4" cy="366.5" r="0.95"/><circle cx="384.7" cy="370.3" r="0.95"/><circle cx="385.4" cy="375.7" r="0.95"/><circle cx="388.2" cy="369.9" r="0.95"/><circle cx="382.6" cy="377.1" r="0.95"/><circle cx="389.5" cy="356.0" r="0.95"/><circle cx="379.0" cy="385.7" r="0.95"/><circle cx="382.1" cy="368.6" r="0.95"/><circle cx="378.3" cy="375.4" r="0.95"/><circle cx="375.8" cy="358.4" r="0.95"/><circle cx="382.3" cy="364.3" r="0.95"/><circle cx="378.5" cy="368.8" r="0.95"/><circle cx="375.2" cy="366.4" r="0.95"/><circle cx="393.8" cy="371.2" r="0.95"/><circle cx="385.9" cy="387.2" r="0.95"/><circle cx="377.8" cy="355.8" r="0.95"/><circle cx="388.3" cy="386.5" r="0.95"/><circle cx="398.0" cy="379.2" r="0.95"/><circle cx="380.2" cy="374.0" r="0.95"/><circle cx="400.6" cy="358.8" r="0.95"/><circle cx="406.6" cy="369.1" r="0.95"/><circle cx="394.2" cy="367.9" r="0.95"/><circle cx="386.2" cy="376.8" r="0.95"/><circle cx="393.9" cy="355.6" r="0.95"/><circle cx="396.0" cy="373.6" r="0.95"/><circle cx="406.8" cy="368.9" r="0.95"/><circle cx="378.4" cy="377.4" r="0.95"/><circle cx="381.4" cy="376.7" r="0.95"/><circle cx="423.0" cy="331.3" r="0.95"/><circle cx="423.7" cy="344.7" r="0.95"/><circle cx="427.2" cy="359.6" r="0.95"/><circle cx="439.6" cy="369.9" r="0.95"/><circle cx="453.1" cy="375.8" r="0.95"/><circle cx="455.8" cy="374.1" r="0.95"/><circle cx="462.0" cy="375.8" r="0.95"/><circle cx="465.5" cy="377.5" r="0.95"/><circle cx="467.9" cy="379.6" r="0.95"/><circle cx="467.9" cy="372.3" r="0.95"/><circle cx="469.6" cy="363.0" r="0.95"/><circle cx="473.1" cy="374.1" r="0.95"/><circle cx="474.1" cy="375.8" r="0.95"/><circle cx="492.1" cy="339.2" r="0.95"/><circle cx="504.1" cy="354.4" r="0.95"/><circle cx="502.1" cy="380.3" r="0.95"/></g>
<polygon points="376.4,321.8 381.4,324.8 386.5,327.7 391.5,330.5 396.6,333.2 401.6,335.8 406.7,338.2 411.8,340.6 416.8,342.9 421.9,345.2 426.9,347.5 431.9,349.7 437.0,352.0 442.1,354.2 447.1,356.4 452.1,358.7 457.2,360.9 462.2,363.1 467.3,365.3 472.4,367.5 477.4,369.8 482.4,372.0 487.5,374.2 492.6,376.4 497.6,378.6 497.6,403.4 492.6,400.0 487.5,396.7 482.4,393.3 477.4,389.9 472.4,386.6 467.3,383.2 462.2,379.8 457.2,376.5 452.1,373.1 447.1,369.8 442.1,366.4 437.0,363.1 431.9,359.7 426.9,356.4 421.9,353.1 416.8,349.8 411.8,346.6 406.7,343.4 401.6,340.2 396.6,337.2 391.5,334.3 386.5,331.5 381.4,328.8 376.4,326.2" fill="#999" fill-opacity="0.42"/>
<line x1="376.4" y1="324.0" x2="497.6" y2="391.3" stroke="#0c0cf8" stroke-width="1.12"/>
<rect x="537.4" y="288.0" width="147.6" height="120.7" fill="#ebebeb"/>
<path d="M573.45 288.0V408.7M615.35 288.0V408.7M657.25 288.0V408.7M537.4 324.75H685.0M537.4 362.25H685.0M537.4 399.75H685.0" stroke="#fff" stroke-width="0.45" fill="none" opacity="0.9"/>
<path d="M552.50 288.0V408.7M594.40 288.0V408.7M636.30 288.0V408.7M678.20 288.0V408.7M537.4 306.00H685.0M537.4 343.50H685.0M537.4 381.00H685.0" stroke="#fff" stroke-width="0.8" fill="none"/>
<path d="M552.50 408.7v1.5M594.40 408.7v1.5M636.30 408.7v1.5M678.20 408.7v1.5M537.4 306.00h-1.5M537.4 343.50h-1.5M537.4 381.00h-1.5" stroke="#333" stroke-width="0.55" fill="none"/>
<text x="552.50" y="413.7" class="tk" text-anchor="middle">0</text>
<text x="594.40" y="413.7" class="tk" text-anchor="middle">1</text>
<text x="636.30" y="413.7" class="tk" text-anchor="middle">2</text>
<text x="678.20" y="413.7" class="tk" text-anchor="middle">3</text>
<text x="535.4" y="307.15" class="tk" text-anchor="end">60</text>
<text x="535.4" y="344.65" class="tk" text-anchor="end">50</text>
<text x="535.4" y="382.15" class="tk" text-anchor="end">40</text>
<g fill="#333" fill-opacity="0.68"><circle cx="554.9" cy="336.0" r="0.95"/><circle cx="552.7" cy="317.5" r="0.95"/><circle cx="546.5" cy="332.2" r="0.95"/><circle cx="557.3" cy="331.4" r="0.95"/><circle cx="554.1" cy="304.1" r="0.95"/><circle cx="554.4" cy="330.3" r="0.95"/><circle cx="553.5" cy="315.3" r="0.95"/><circle cx="560.9" cy="312.7" r="0.95"/><circle cx="557.5" cy="330.2" r="0.95"/><circle cx="559.1" cy="316.4" r="0.95"/><circle cx="551.1" cy="301.8" r="0.95"/><circle cx="550.2" cy="323.7" r="0.95"/><circle cx="547.2" cy="329.8" r="0.95"/><circle cx="551.3" cy="317.4" r="0.95"/><circle cx="561.3" cy="317.3" r="0.95"/><circle cx="553.4" cy="304.4" r="0.95"/><circle cx="553.1" cy="313.5" r="0.95"/><circle cx="557.2" cy="322.6" r="0.95"/><circle cx="550.6" cy="329.4" r="0.95"/><circle cx="553.9" cy="316.4" r="0.95"/><circle cx="556.8" cy="326.2" r="0.95"/><circle cx="544.2" cy="325.0" r="0.95"/><circle cx="561.9" cy="304.0" r="0.95"/><circle cx="553.4" cy="312.8" r="0.95"/><circle cx="555.9" cy="325.2" r="0.95"/><circle cx="547.0" cy="304.3" r="0.95"/><circle cx="549.3" cy="307.1" r="0.95"/><circle cx="561.7" cy="327.7" r="0.95"/><circle cx="549.7" cy="302.2" r="0.95"/><circle cx="550.4" cy="330.1" r="0.95"/><circle cx="555.2" cy="311.7" r="0.95"/><circle cx="560.3" cy="316.2" r="0.95"/><circle cx="560.5" cy="326.2" r="0.95"/><circle cx="554.1" cy="330.4" r="0.95"/><circle cx="557.4" cy="298.6" r="0.95"/><circle cx="547.1" cy="318.9" r="0.95"/><circle cx="554.3" cy="326.6" r="0.95"/><circle cx="561.3" cy="329.2" r="0.95"/><circle cx="552.1" cy="326.3" r="0.95"/><circle cx="549.2" cy="320.4" r="0.95"/><circle cx="550.3" cy="325.4" r="0.95"/><circle cx="549.8" cy="321.4" r="0.95"/><circle cx="556.9" cy="333.3" r="0.95"/><circle cx="553.7" cy="342.5" r="0.95"/><circle cx="549.9" cy="317.6" r="0.95"/><circle cx="556.9" cy="310.9" r="0.95"/><circle cx="546.7" cy="339.9" r="0.95"/><circle cx="544.9" cy="330.0" r="0.95"/><circle cx="549.2" cy="314.0" r="0.95"/><circle cx="561.4" cy="309.7" r="0.95"/><circle cx="552.1" cy="324.8" r="0.95"/><circle cx="551.4" cy="323.6" r="0.95"/><circle cx="555.4" cy="302.6" r="0.95"/><circle cx="548.0" cy="311.6" r="0.95"/><circle cx="548.1" cy="330.2" r="0.95"/><circle cx="551.5" cy="329.8" r="0.95"/><circle cx="550.5" cy="324.5" r="0.95"/><circle cx="556.5" cy="321.0" r="0.95"/><circle cx="563.1" cy="332.4" r="0.95"/><circle cx="546.3" cy="317.9" r="0.95"/><circle cx="547.9" cy="326.2" r="0.95"/><circle cx="556.7" cy="320.1" r="0.95"/><circle cx="555.4" cy="307.2" r="0.95"/><circle cx="558.6" cy="313.9" r="0.95"/><circle cx="548.6" cy="325.1" r="0.95"/><circle cx="555.8" cy="335.2" r="0.95"/><circle cx="552.3" cy="309.5" r="0.95"/><circle cx="543.8" cy="323.7" r="0.95"/><circle cx="555.0" cy="327.3" r="0.95"/><circle cx="544.2" cy="313.1" r="0.95"/><circle cx="555.5" cy="336.2" r="0.95"/><circle cx="550.2" cy="320.0" r="0.95"/><circle cx="551.5" cy="316.2" r="0.95"/><circle cx="564.2" cy="323.2" r="0.95"/><circle cx="560.9" cy="336.6" r="0.95"/><circle cx="554.9" cy="328.3" r="0.95"/><circle cx="554.8" cy="319.5" r="0.95"/><circle cx="548.4" cy="331.4" r="0.95"/><circle cx="559.3" cy="310.6" r="0.95"/><circle cx="556.0" cy="315.2" r="0.95"/><circle cx="548.0" cy="335.6" r="0.95"/><circle cx="543.6" cy="330.6" r="0.95"/><circle cx="552.6" cy="317.5" r="0.95"/><circle cx="551.7" cy="309.7" r="0.95"/><circle cx="557.3" cy="322.0" r="0.95"/><circle cx="547.1" cy="316.8" r="0.95"/><circle cx="547.8" cy="309.2" r="0.95"/><circle cx="554.9" cy="321.3" r="0.95"/><circle cx="553.1" cy="308.8" r="0.95"/><circle cx="557.7" cy="317.7" r="0.95"/><circle cx="558.7" cy="328.3" r="0.95"/><circle cx="547.8" cy="299.9" r="0.95"/><circle cx="552.9" cy="327.1" r="0.95"/><circle cx="548.7" cy="330.7" r="0.95"/><circle cx="553.9" cy="324.3" r="0.95"/><circle cx="552.1" cy="304.7" r="0.95"/><circle cx="553.1" cy="340.1" r="0.95"/><circle cx="549.6" cy="324.2" r="0.95"/><circle cx="555.4" cy="328.2" r="0.95"/><circle cx="553.2" cy="308.1" r="0.95"/><circle cx="553.9" cy="331.4" r="0.95"/><circle cx="559.6" cy="300.8" r="0.95"/><circle cx="559.6" cy="328.3" r="0.95"/><circle cx="559.1" cy="328.0" r="0.95"/><circle cx="554.6" cy="341.9" r="0.95"/><circle cx="553.4" cy="333.8" r="0.95"/><circle cx="555.7" cy="314.0" r="0.95"/><circle cx="554.3" cy="319.7" r="0.95"/><circle cx="548.7" cy="331.6" r="0.95"/><circle cx="554.7" cy="305.0" r="0.95"/><circle cx="557.6" cy="304.2" r="0.95"/><circle cx="550.4" cy="331.6" r="0.95"/><circle cx="546.7" cy="322.3" r="0.95"/><circle cx="555.7" cy="328.6" r="0.95"/><circle cx="548.6" cy="321.5" r="0.95"/><circle cx="544.6" cy="314.4" r="0.95"/><circle cx="551.3" cy="327.2" r="0.95"/><circle cx="544.7" cy="319.0" r="0.95"/><circle cx="554.4" cy="303.7" r="0.95"/><circle cx="549.9" cy="329.2" r="0.95"/><circle cx="553.1" cy="318.8" r="0.95"/><circle cx="558.8" cy="308.9" r="0.95"/><circle cx="558.7" cy="313.5" r="0.95"/><circle cx="552.1" cy="331.7" r="0.95"/><circle cx="550.1" cy="312.2" r="0.95"/><circle cx="546.3" cy="325.0" r="0.95"/><circle cx="557.5" cy="326.7" r="0.95"/><circle cx="561.0" cy="315.8" r="0.95"/><circle cx="556.4" cy="317.9" r="0.95"/><circle cx="556.1" cy="344.6" r="0.95"/><circle cx="555.6" cy="327.7" r="0.95"/><circle cx="556.3" cy="321.2" r="0.95"/><circle cx="550.6" cy="345.3" r="0.95"/><circle cx="557.5" cy="315.1" r="0.95"/><circle cx="551.0" cy="313.2" r="0.95"/><circle cx="546.4" cy="322.0" r="0.95"/><circle cx="552.9" cy="330.7" r="0.95"/><circle cx="561.2" cy="338.2" r="0.95"/><circle cx="551.6" cy="309.3" r="0.95"/><circle cx="543.1" cy="296.1" r="0.95"/><circle cx="559.3" cy="306.4" r="0.95"/><circle cx="553.9" cy="313.8" r="0.95"/><circle cx="555.6" cy="305.7" r="0.95"/><circle cx="550.1" cy="327.5" r="0.95"/><circle cx="555.2" cy="331.5" r="0.95"/><circle cx="561.3" cy="322.1" r="0.95"/><circle cx="549.2" cy="328.7" r="0.95"/><circle cx="556.3" cy="317.4" r="0.95"/><circle cx="554.5" cy="303.1" r="0.95"/><circle cx="548.0" cy="315.7" r="0.95"/><circle cx="553.6" cy="320.8" r="0.95"/><circle cx="555.8" cy="298.8" r="0.95"/><circle cx="548.1" cy="313.9" r="0.95"/><circle cx="558.9" cy="317.6" r="0.95"/><circle cx="546.7" cy="329.4" r="0.95"/><circle cx="558.9" cy="319.8" r="0.95"/><circle cx="556.0" cy="323.1" r="0.95"/><circle cx="554.0" cy="331.6" r="0.95"/><circle cx="548.4" cy="317.9" r="0.95"/><circle cx="548.4" cy="324.7" r="0.95"/><circle cx="552.5" cy="318.2" r="0.95"/><circle cx="552.0" cy="312.3" r="0.95"/><circle cx="555.6" cy="305.7" r="0.95"/><circle cx="558.1" cy="325.2" r="0.95"/><circle cx="553.7" cy="313.9" r="0.95"/><circle cx="550.8" cy="313.1" r="0.95"/><circle cx="557.9" cy="316.3" r="0.95"/><circle cx="552.6" cy="322.4" r="0.95"/><circle cx="552.5" cy="313.2" r="0.95"/><circle cx="546.3" cy="322.7" r="0.95"/><circle cx="558.3" cy="303.3" r="0.95"/><circle cx="549.0" cy="323.5" r="0.95"/><circle cx="563.0" cy="342.4" r="0.95"/><circle cx="548.0" cy="301.5" r="0.95"/><circle cx="550.1" cy="333.4" r="0.95"/><circle cx="553.1" cy="296.8" r="0.95"/><circle cx="548.9" cy="317.8" r="0.95"/><circle cx="544.8" cy="332.9" r="0.95"/><circle cx="546.5" cy="315.8" r="0.95"/><circle cx="548.2" cy="308.9" r="0.95"/><circle cx="551.4" cy="306.0" r="0.95"/><circle cx="557.9" cy="306.0" r="0.95"/><circle cx="556.2" cy="338.6" r="0.95"/><circle cx="554.4" cy="331.4" r="0.95"/><circle cx="557.0" cy="338.1" r="0.95"/><circle cx="549.3" cy="326.5" r="0.95"/><circle cx="549.7" cy="322.2" r="0.95"/><circle cx="547.1" cy="316.5" r="0.95"/><circle cx="555.2" cy="315.6" r="0.95"/><circle cx="549.1" cy="317.7" r="0.95"/><circle cx="546.7" cy="301.5" r="0.95"/><circle cx="557.4" cy="316.3" r="0.95"/><circle cx="549.1" cy="323.7" r="0.95"/><circle cx="551.3" cy="317.9" r="0.95"/><circle cx="544.6" cy="326.8" r="0.95"/><circle cx="557.5" cy="314.8" r="0.95"/><circle cx="552.9" cy="309.9" r="0.95"/><circle cx="560.4" cy="322.8" r="0.95"/><circle cx="564.4" cy="314.5" r="0.95"/><circle cx="556.2" cy="317.1" r="0.95"/><circle cx="550.7" cy="337.4" r="0.95"/><circle cx="548.4" cy="332.4" r="0.95"/><circle cx="561.4" cy="312.5" r="0.95"/><circle cx="551.6" cy="331.2" r="0.95"/><circle cx="556.0" cy="328.1" r="0.95"/><circle cx="572.0" cy="330.4" r="0.95"/><circle cx="556.6" cy="328.7" r="0.95"/><circle cx="556.6" cy="313.7" r="0.95"/><circle cx="568.4" cy="321.7" r="0.95"/><circle cx="560.8" cy="316.9" r="0.95"/><circle cx="551.4" cy="318.7" r="0.95"/><circle cx="569.8" cy="329.0" r="0.95"/><circle cx="571.4" cy="326.9" r="0.95"/><circle cx="590.0" cy="311.2" r="0.95"/><circle cx="569.5" cy="325.6" r="0.95"/><circle cx="557.8" cy="307.1" r="0.95"/><circle cx="557.1" cy="329.9" r="0.95"/><circle cx="575.4" cy="324.8" r="0.95"/><circle cx="564.6" cy="316.0" r="0.95"/><circle cx="568.8" cy="325.3" r="0.95"/><circle cx="580.5" cy="328.8" r="0.95"/><circle cx="552.1" cy="319.5" r="0.95"/><circle cx="570.2" cy="318.8" r="0.95"/><circle cx="586.3" cy="309.6" r="0.95"/><circle cx="587.1" cy="321.5" r="0.95"/><circle cx="573.4" cy="325.4" r="0.95"/><circle cx="574.9" cy="309.1" r="0.95"/><circle cx="560.6" cy="320.0" r="0.95"/><circle cx="576.2" cy="337.1" r="0.95"/><circle cx="560.1" cy="309.1" r="0.95"/><circle cx="564.7" cy="333.7" r="0.95"/><circle cx="565.4" cy="317.2" r="0.95"/><circle cx="568.4" cy="318.5" r="0.95"/><circle cx="562.4" cy="320.5" r="0.95"/><circle cx="569.7" cy="320.6" r="0.95"/><circle cx="558.6" cy="333.0" r="0.95"/><circle cx="561.8" cy="314.8" r="0.95"/><circle cx="557.9" cy="326.5" r="0.95"/><circle cx="555.2" cy="330.2" r="0.95"/><circle cx="562.1" cy="324.2" r="0.95"/><circle cx="558.0" cy="319.5" r="0.95"/><circle cx="579.7" cy="332.7" r="0.95"/><circle cx="584.8" cy="318.2" r="0.95"/><circle cx="588.1" cy="325.1" r="0.95"/><circle cx="592.4" cy="293.3" r="0.95"/><circle cx="594.5" cy="305.8" r="0.95"/><circle cx="592.4" cy="313.9" r="0.95"/><circle cx="599.0" cy="317.7" r="0.95"/><circle cx="599.9" cy="334.1" r="0.95"/><circle cx="621.3" cy="318.3" r="0.95"/><circle cx="633.2" cy="320.7" r="0.95"/><circle cx="636.2" cy="311.8" r="0.95"/><circle cx="639.2" cy="318.6" r="0.95"/><circle cx="644.5" cy="320.1" r="0.95"/><circle cx="648.7" cy="321.6" r="0.95"/><circle cx="633.2" cy="335.0" r="0.95"/><circle cx="640.1" cy="334.7" r="0.95"/><circle cx="641.2" cy="337.4" r="0.95"/><circle cx="653.5" cy="330.5" r="0.95"/><circle cx="645.1" cy="349.6" r="0.95"/><circle cx="672.5" cy="314.8" r="0.95"/><circle cx="674.9" cy="317.1" r="0.95"/><circle cx="671.3" cy="348.4" r="0.95"/><circle cx="549.3" cy="388.6" r="0.95"/><circle cx="550.8" cy="402.6" r="0.95"/><circle cx="552.9" cy="354.9" r="0.95"/><circle cx="561.2" cy="349.0" r="0.95"/><circle cx="562.4" cy="347.5" r="0.95"/><circle cx="577.6" cy="340.7" r="0.95"/></g>
<polygon points="549.4,319.8 554.8,320.2 560.1,320.5 565.5,320.7 570.9,320.9 576.2,320.9 581.6,320.9 586.9,320.9 592.3,320.8 597.7,320.7 603.0,320.6 608.4,320.5 613.8,320.3 619.1,320.2 624.5,320.0 629.8,319.9 635.2,319.7 640.6,319.5 645.9,319.4 651.3,319.2 656.6,319.1 662.0,318.9 667.4,318.7 672.7,318.6 678.1,318.4 678.1,334.0 672.7,333.4 667.4,332.9 662.0,332.3 656.6,331.8 651.3,331.2 645.9,330.7 640.6,330.1 635.2,329.6 629.8,329.0 624.5,328.5 619.1,328.0 613.8,327.4 608.4,326.9 603.0,326.4 597.7,325.9 592.3,325.4 586.9,324.9 581.6,324.5 576.2,324.1 570.9,323.8 565.5,323.5 560.1,323.3 554.8,323.2 549.4,323.2" fill="#999" fill-opacity="0.42"/>
<line x1="549.4" y1="321.5" x2="678.1" y2="326.4" stroke="#0c0cf8" stroke-width="1.12"/>
<text x="88.7" y="130.2" class="ti" text-anchor="middle">EDSS score, p &lt; 0.001</text>
<text x="264.6" y="130.2" class="ti" text-anchor="middle">EDSS score, p = 0.015</text>
<text x="439.0" y="130.2" class="ti" text-anchor="middle">EDSS score, p = 0.002</text>
<text x="613.0" y="130.2" class="ti" text-anchor="middle">EDSS score, p = 0.463</text>
<text x="89.1" y="272.6" class="ti" text-anchor="middle">Disease duration, years, p = 0.031</text>
<text x="265.0" y="272.6" class="ti" text-anchor="middle">Disease duration, years, p = 0.031</text>
<text x="439.3" y="272.6" class="ti" text-anchor="middle">Disease duration, years, p = 0.009</text>
<text x="613.0" y="272.6" class="ti" text-anchor="middle">Disease duration, years, p = 0.257</text>
<text x="83.3" y="417.5" class="ti" text-anchor="middle">log MAR visual acuity, p &lt; 0.001</text>
<text x="259.9" y="417.5" class="ti" text-anchor="middle">log MAR visual acuity, p &lt; 0.001</text>
<text x="433.7" y="417.5" class="ti" text-anchor="middle">log MAR visual acuity, p &lt; 0.001</text>
<text x="608.3" y="417.5" class="ti" text-anchor="middle">log MAR visual acuity, p = 0.262</text>
<text transform="translate(6.0,51.6) rotate(-90)" class="ti" text-anchor="middle">RNFL thickness, μm</text>
<text transform="translate(181.4,51.6) rotate(-90)" class="ti" text-anchor="middle">GCIPL thickness, μm</text>
<text transform="translate(355.6,51.6) rotate(-90)" class="ti" text-anchor="middle">SVC density, %</text>
<text transform="translate(529.8,51.6) rotate(-90)" class="ti" text-anchor="middle">DVC density, %</text>
<text transform="translate(6.0,195.4) rotate(-90)" class="ti" text-anchor="middle">RNFL thickness, μm</text>
<text transform="translate(181.4,195.4) rotate(-90)" class="ti" text-anchor="middle">GCIPL thickness, μm</text>
<text transform="translate(355.6,195.4) rotate(-90)" class="ti" text-anchor="middle">SVC density, %</text>
<text transform="translate(529.8,195.4) rotate(-90)" class="ti" text-anchor="middle">DVC density, %</text>
<text transform="translate(6.0,341.2) rotate(-90)" class="ti" text-anchor="middle">RNFL thickness, μm</text>
<text transform="translate(181.4,341.2) rotate(-90)" class="ti" text-anchor="middle">GCIPL thickness, μm</text>
<text transform="translate(355.6,341.2) rotate(-90)" class="ti" text-anchor="middle">SVC density, %</text>
<text transform="translate(529.8,341.2) rotate(-90)" class="ti" text-anchor="middle">DVC density, %</text>
</svg>
</body></html>
